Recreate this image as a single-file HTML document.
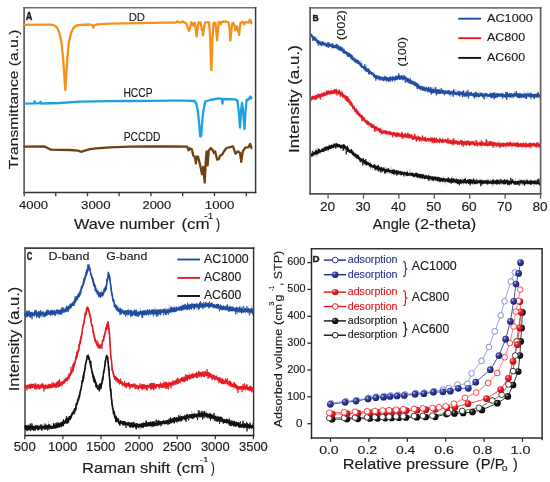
<!DOCTYPE html>
<html><head><meta charset="utf-8"><style>
html,body{margin:0;padding:0;background:#fff;overflow:hidden;}
svg{display:block;font-family:"Liberation Sans", sans-serif;will-change:transform;}
</style></head><body>
<svg width="550" height="482" viewBox="0 0 550 482">
<defs>
<radialGradient id="gb" cx="0.36" cy="0.32" r="0.7"><stop offset="0" stop-color="#d6d9f5"/><stop offset="0.3" stop-color="#3a46a8"/><stop offset="1" stop-color="#141c68"/></radialGradient>
<radialGradient id="gr" cx="0.36" cy="0.32" r="0.7"><stop offset="0" stop-color="#ffd6d6"/><stop offset="0.3" stop-color="#f0262c"/><stop offset="1" stop-color="#b00a0e"/></radialGradient>
<radialGradient id="gk" cx="0.36" cy="0.32" r="0.7"><stop offset="0" stop-color="#c8c8c8"/><stop offset="0.3" stop-color="#222"/><stop offset="1" stop-color="#000"/></radialGradient>
</defs>
<rect width="550" height="482" fill="#fff"/>
<line x1="23.30" y1="7.80" x2="256.35" y2="7.80" stroke="#707070" stroke-width="1.6"/>
<line x1="23.30" y1="192.60" x2="256.35" y2="192.60" stroke="#333" stroke-width="1.5"/>
<line x1="24.10" y1="7.00" x2="24.10" y2="193.35" stroke="#555" stroke-width="1.6"/>
<line x1="255.60" y1="7.00" x2="255.60" y2="193.35" stroke="#3a3a3a" stroke-width="1.5"/>
<line x1="24.20" y1="192.60" x2="24.20" y2="196.20" stroke="#333" stroke-width="1.3"/>
<line x1="55.80" y1="192.60" x2="55.80" y2="196.20" stroke="#333" stroke-width="1.3"/>
<line x1="87.50" y1="192.60" x2="87.50" y2="196.20" stroke="#333" stroke-width="1.3"/>
<line x1="119.10" y1="192.60" x2="119.10" y2="196.20" stroke="#333" stroke-width="1.3"/>
<line x1="150.90" y1="192.60" x2="150.90" y2="196.20" stroke="#333" stroke-width="1.3"/>
<line x1="182.70" y1="192.60" x2="182.70" y2="196.20" stroke="#333" stroke-width="1.3"/>
<line x1="214.50" y1="192.60" x2="214.50" y2="196.20" stroke="#333" stroke-width="1.3"/>
<line x1="246.30" y1="192.60" x2="246.30" y2="196.20" stroke="#333" stroke-width="1.3"/>
<path d="M24.5,24.8L40.0,24.6L50.0,24.6L54.0,25.2L57.0,27.5L59.5,33.0L61.5,43.0L63.3,60.0L64.6,80.0L65.3,90.0L66.0,80.0L67.2,60.0L68.8,43.0L71.0,33.0L73.5,28.0L76.5,25.5L80.0,24.8L90.0,24.5L92.3,25.0L93.3,27.6L94.3,25.3L97.0,24.4L110.0,23.6L140.0,23.1L165.0,22.7L176.0,22.5L177.3,21.3L178.6,22.4L181.5,22.4L182.9,21.3L184.5,22.6L186.5,23.6L187.5,27.0L189.1,30.9L190.4,27.0L191.3,22.2L192.5,23.5L193.1,25.5L193.8,23.2L195.0,23.0L195.9,30.0L196.6,36.4L197.4,30.0L198.5,22.4L200.5,22.5L201.5,27.0L201.8,30.2L202.5,29.0L203.1,35.3L203.8,29.0L205.1,22.4L209.1,22.4L210.3,40.0L211.0,65.0L211.3,70.2L211.6,65.0L212.4,40.0L213.5,23.0L215.5,23.0L216.4,32.0L217.1,40.4L217.8,32.0L218.8,22.0L220.2,22.5L220.9,24.2L221.6,22.0L225.3,21.3L228.6,22.5L229.6,30.0L230.4,40.7L231.3,30.0L232.3,23.5L233.3,22.9L234.7,26.0L235.5,30.2L236.3,27.0L236.9,26.5L238.2,31.0L239.1,34.9L239.8,28.0L240.5,22.9L242.7,21.8L243.6,23.0L244.2,24.4L244.9,22.6L245.6,22.2L248.5,22.7L250.0,19.6L250.8,21.0L251.2,23.3" fill="none" stroke="#F5911B" stroke-width="2.3" stroke-linejoin="round" stroke-linecap="round"/>
<path d="M24.5,103.6L34.0,103.3L34.5,101.3L35.0,103.3L40.0,103.2L40.5,101.6L41.0,103.5L60.0,103.0L80.0,101.6L110.0,101.2L130.0,101.0L150.0,100.8L170.0,100.6L185.0,100.6L194.5,101.0L196.5,104.0L198.0,112.0L199.3,125.0L200.2,136.5L201.2,136.0L202.2,122.0L203.5,110.0L205.2,101.5L210.0,100.0L219.0,98.3L221.8,98.8L222.4,103.7L223.0,99.0L235.5,99.3L237.5,101.0L238.8,112.0L240.0,127.5L241.0,112.0L242.0,103.0L243.0,110.0L244.5,129.0L245.5,112.0L246.6,99.6L248.0,100.0L249.5,98.0L250.3,96.5L251.0,98.5L251.5,97.5" fill="none" stroke="#1DA1E2" stroke-width="2.3" stroke-linejoin="round" stroke-linecap="round"/>
<path d="M24.5,146.6L44.0,146.4L47.0,147.8L51.0,149.6L60.0,149.8L70.0,150.0L78.0,150.6L81.0,151.8L84.0,150.8L90.0,149.2L96.0,148.4L110.0,147.3L130.0,146.6L150.0,146.5L170.0,146.4L187.1,146.7L188.7,150.4L189.7,148.3L191.8,149.3L193.3,155.5L194.9,157.1L195.9,163.3L196.6,156.6L198.0,156.6L200.1,164.9L202.1,174.2L203.2,166.9L204.7,182.5L205.8,160.7L206.6,151.4L207.6,165.4L208.7,150.9L210.7,148.1L212.5,149.8L214.0,153.0L215.1,151.4L217.2,159.7L218.7,159.2L220.3,155.5L222.3,154.5L224.0,151.3L226.5,148.0L233.0,146.4L235.5,153.7L237.9,151.3L240.0,152.9L241.2,161.9L242.8,151.3L245.3,147.7L248.5,147.2L250.2,143.9L251.5,148.0" fill="none" stroke="#6E4012" stroke-width="2.3" stroke-linejoin="round" stroke-linecap="round"/>
<text x="25.77" y="19.90" font-size="10.2" font-weight="bold" textLength="6.57" lengthAdjust="spacingAndGlyphs" fill="#1c1c1c" stroke="#1c1c1c" stroke-width="0.4">A</text>
<text x="128.67" y="20.50" font-size="11.5" textLength="16.37" lengthAdjust="spacingAndGlyphs" fill="#1c1c1c" stroke="#1c1c1c" stroke-width="0.15">DD</text>
<text x="123.46" y="96.50" font-size="11.9" textLength="29.08" lengthAdjust="spacingAndGlyphs" fill="#1c1c1c" stroke="#1c1c1c" stroke-width="0.15">HCCP</text>
<text x="123.75" y="141.00" font-size="12.0" textLength="36.64" lengthAdjust="spacingAndGlyphs" fill="#1c1c1c" stroke="#1c1c1c" stroke-width="0.15">PCCDD</text>
<text x="18.90" y="209.00" font-size="11.7" textLength="29.11" lengthAdjust="spacingAndGlyphs" fill="#1c1c1c" stroke="#1c1c1c" stroke-width="0.15">4000</text>
<text x="81.10" y="209.00" font-size="11.7" textLength="29.42" lengthAdjust="spacingAndGlyphs" fill="#1c1c1c" stroke="#1c1c1c" stroke-width="0.15">3000</text>
<text x="142.55" y="209.00" font-size="11.7" textLength="28.65" lengthAdjust="spacingAndGlyphs" fill="#1c1c1c" stroke="#1c1c1c" stroke-width="0.15">2000</text>
<text x="204.79" y="209.00" font-size="11.7" textLength="29.53" lengthAdjust="spacingAndGlyphs" fill="#1c1c1c" stroke="#1c1c1c" stroke-width="0.15">1000</text>
<text x="74.03" y="229.20" font-size="14.2" textLength="100.54" lengthAdjust="spacingAndGlyphs" fill="#1c1c1c" stroke="#1c1c1c" stroke-width="0.15">Wave number</text>
<text x="181.45" y="229.20" font-size="14.2" textLength="28.27" lengthAdjust="spacingAndGlyphs" fill="#1c1c1c" stroke="#1c1c1c" stroke-width="0.15">(cm</text>
<text x="204.36" y="219.20" font-size="8.4" textLength="8.83" lengthAdjust="spacingAndGlyphs" fill="#1c1c1c" stroke="#1c1c1c" stroke-width="0.15">-1</text>
<text x="215.93" y="229.20" font-size="14.2" textLength="4.14" lengthAdjust="spacingAndGlyphs" fill="#1c1c1c" stroke="#1c1c1c" stroke-width="0.15">)</text>
<text transform="rotate(-90)" x="-169.15" y="18.20" font-size="13.5" textLength="139.52" lengthAdjust="spacingAndGlyphs" fill="#1c1c1c" stroke="#1c1c1c" stroke-width="0.15">Transmittance (a.u.)</text>
<line x1="309.25" y1="7.80" x2="541.45" y2="7.80" stroke="#747474" stroke-width="1.7"/>
<line x1="309.25" y1="193.80" x2="541.45" y2="193.80" stroke="#555" stroke-width="1.7"/>
<line x1="310.10" y1="6.95" x2="310.10" y2="194.65" stroke="#5a5a5a" stroke-width="1.7"/>
<line x1="540.60" y1="6.95" x2="540.60" y2="194.65" stroke="#606060" stroke-width="1.7"/>
<line x1="328.10" y1="193.80" x2="328.10" y2="198.80" stroke="#5a5a5a" stroke-width="1.3"/>
<line x1="363.50" y1="193.80" x2="363.50" y2="198.80" stroke="#5a5a5a" stroke-width="1.3"/>
<line x1="398.90" y1="193.80" x2="398.90" y2="198.80" stroke="#5a5a5a" stroke-width="1.3"/>
<line x1="434.30" y1="193.80" x2="434.30" y2="198.80" stroke="#5a5a5a" stroke-width="1.3"/>
<line x1="469.70" y1="193.80" x2="469.70" y2="198.80" stroke="#5a5a5a" stroke-width="1.3"/>
<line x1="505.10" y1="193.80" x2="505.10" y2="198.80" stroke="#5a5a5a" stroke-width="1.3"/>
<line x1="540.50" y1="193.80" x2="540.50" y2="198.80" stroke="#5a5a5a" stroke-width="1.3"/>
<path d="M311.3,35.5L311.5,36.2L311.7,35.5L311.9,34.7L312.1,35.6L312.3,35.0L312.5,37.0L312.7,39.4L312.9,36.5L313.1,36.5L313.3,38.6L313.5,38.6L313.7,38.4L313.9,36.8L314.1,38.5L314.3,40.0L314.5,36.7L314.7,38.4L314.9,36.1L315.1,37.4L315.3,36.6L315.5,39.5L315.7,37.9L315.9,40.7L316.1,40.7L316.3,40.3L316.5,36.5L316.7,40.0L316.9,41.0L317.1,41.4L317.3,38.7L317.5,40.6L317.7,39.9L317.9,40.3L318.1,43.6L318.3,40.5L318.5,42.0L318.7,43.6L318.9,41.2L319.1,42.1L319.3,42.6L319.5,42.6L319.7,40.5L319.9,42.8L320.1,45.1L320.3,40.3L320.5,44.4L320.7,43.3L320.9,42.1L321.1,46.6L321.3,44.6L321.5,41.4L321.7,43.6L321.9,44.5L322.1,43.3L322.3,44.9L322.5,43.7L322.7,45.0L322.9,46.4L323.1,42.8L323.3,44.4L323.5,43.3L323.7,44.4L323.9,42.2L324.1,43.3L324.3,44.0L324.5,46.0L324.7,46.5L324.9,42.3L325.1,43.3L325.3,45.8L325.5,41.4L325.7,44.0L325.9,44.7L326.1,47.0L326.3,46.1L326.5,44.5L326.7,44.4L326.9,44.7L327.1,47.8L327.3,44.5L327.5,44.8L327.7,45.9L327.9,45.2L328.1,45.1L328.3,43.6L328.5,45.5L328.7,44.8L328.9,47.6L329.1,46.7L329.3,45.6L329.5,46.8L329.7,45.1L329.9,47.5L330.1,45.8L330.3,46.8L330.5,43.7L330.7,46.5L330.9,43.1L331.1,42.5L331.3,45.5L331.5,44.5L331.7,46.3L331.9,49.9L332.1,44.7L332.3,45.1L332.5,46.5L332.7,47.0L332.9,45.9L333.1,45.9L333.3,47.5L333.5,47.2L333.7,44.6L333.9,46.3L334.1,46.5L334.3,44.7L334.5,47.0L334.7,45.1L334.9,48.2L335.1,47.0L335.3,46.8L335.5,45.7L335.7,46.6L335.9,43.4L336.1,44.9L336.3,47.5L336.5,43.3L336.7,48.5L336.9,44.1L337.1,48.4L337.3,45.7L337.5,48.6L337.7,47.5L337.9,44.8L338.1,49.6L338.3,50.0L338.5,47.5L338.7,47.2L338.9,47.5L339.1,46.2L339.3,49.8L339.5,47.1L339.7,48.1L339.9,46.9L340.1,47.3L340.3,46.3L340.5,50.8L340.7,48.5L340.9,50.5L341.1,49.0L341.3,48.0L341.5,48.7L341.7,48.5L341.9,49.6L342.1,49.1L342.3,49.4L342.5,47.7L342.7,48.8L342.9,53.1L343.1,49.3L343.3,48.8L343.5,51.4L343.7,53.3L343.9,48.6L344.1,50.9L344.3,50.4L344.5,48.6L344.7,53.0L344.9,51.9L345.1,52.2L345.3,51.0L345.5,53.2L345.7,51.7L345.9,52.5L346.1,51.0L346.3,51.0L346.5,55.5L346.7,52.5L346.9,54.1L347.1,53.7L347.3,53.1L347.5,53.2L347.7,55.3L347.9,53.9L348.1,54.3L348.3,54.7L348.5,56.8L348.7,56.1L348.9,55.8L349.1,54.3L349.3,53.1L349.5,57.2L349.7,57.4L349.9,55.6L350.1,57.0L350.3,57.5L350.5,57.8L350.7,58.1L350.9,55.9L351.1,59.4L351.3,54.9L351.5,58.6L351.7,58.1L351.9,58.9L352.1,60.8L352.3,60.3L352.5,56.0L352.7,55.2L352.9,59.6L353.1,56.7L353.3,58.5L353.5,60.2L353.7,56.1L353.9,55.5L354.1,59.7L354.3,59.5L354.5,59.1L354.7,59.8L354.9,58.4L355.1,57.5L355.3,59.9L355.5,58.7L355.7,57.7L355.9,61.5L356.1,60.7L356.3,61.7L356.5,59.5L356.7,60.2L356.9,59.8L357.1,60.2L357.3,62.2L357.5,60.7L357.7,62.8L357.9,62.9L358.1,65.9L358.3,60.3L358.5,64.3L358.7,62.8L358.9,63.1L359.1,60.8L359.3,62.7L359.5,64.9L359.7,63.6L359.9,64.1L360.1,63.6L360.3,66.2L360.5,64.4L360.7,60.8L360.9,63.6L361.1,61.6L361.3,59.5L361.5,64.3L361.7,67.7L361.9,65.7L362.1,63.8L362.3,64.3L362.5,68.0L362.7,66.5L362.9,66.5L363.1,66.5L363.3,66.8L363.5,68.3L363.7,68.0L363.9,67.6L364.1,65.7L364.3,68.5L364.5,66.6L364.7,69.8L364.9,65.9L365.1,68.0L365.3,68.4L365.5,66.4L365.7,71.7L365.9,71.4L366.1,68.3L366.3,70.6L366.5,70.1L366.7,65.1L366.9,70.2L367.1,69.8L367.3,70.2L367.5,68.4L367.7,69.9L367.9,70.2L368.1,72.7L368.3,71.4L368.5,71.0L368.7,73.7L368.9,70.3L369.1,70.8L369.3,68.5L369.5,74.4L369.7,73.5L369.9,73.6L370.1,73.3L370.3,72.5L370.5,72.8L370.7,72.1L370.9,72.3L371.1,72.9L371.3,75.5L371.5,74.0L371.7,73.1L371.9,72.4L372.1,72.4L372.3,76.4L372.5,74.7L372.7,74.1L372.9,73.5L373.1,72.4L373.3,74.3L373.5,76.0L373.7,74.0L373.9,74.4L374.1,74.6L374.3,75.3L374.5,72.5L374.7,75.0L374.9,74.1L375.1,77.2L375.3,74.5L375.5,76.9L375.7,78.7L375.9,75.7L376.1,75.3L376.3,76.8L376.5,76.6L376.7,75.0L376.9,77.6L377.1,80.4L377.3,76.6L377.5,76.9L377.7,75.5L377.9,78.0L378.1,75.4L378.3,75.7L378.5,79.9L378.7,76.2L378.9,79.7L379.1,80.5L379.3,78.5L379.5,79.0L379.7,81.5L379.9,77.9L380.1,77.3L380.3,76.0L380.5,78.4L380.7,80.9L380.9,80.1L381.1,76.9L381.3,77.0L381.5,77.6L381.7,79.0L381.9,78.2L382.1,78.9L382.3,79.1L382.5,78.1L382.7,78.5L382.9,78.9L383.1,78.5L383.3,79.5L383.5,81.8L383.7,79.7L383.9,78.8L384.1,75.8L384.3,79.3L384.5,75.4L384.7,76.3L384.9,80.2L385.1,79.9L385.3,78.5L385.5,75.8L385.7,78.1L385.9,77.6L386.1,79.8L386.3,82.6L386.5,79.1L386.7,77.5L386.9,76.8L387.1,78.7L387.3,78.5L387.5,76.9L387.7,79.0L387.9,76.9L388.1,80.7L388.3,80.6L388.5,80.7L388.7,78.0L388.9,79.7L389.1,78.6L389.3,78.2L389.5,78.3L389.7,76.7L389.9,76.4L390.1,80.2L390.3,78.6L390.5,79.3L390.7,80.6L390.9,75.9L391.1,77.6L391.3,79.2L391.5,79.6L391.7,78.3L391.9,80.6L392.1,79.3L392.3,76.8L392.5,77.3L392.7,80.3L392.9,79.7L393.1,75.6L393.3,81.1L393.5,79.8L393.7,81.1L393.9,78.1L394.1,78.2L394.3,76.8L394.5,82.9L394.7,78.3L394.9,81.2L395.1,77.4L395.3,78.7L395.5,75.5L395.7,77.7L395.9,79.9L396.1,76.1L396.3,80.0L396.5,78.7L396.7,76.3L396.9,77.1L397.1,77.1L397.3,77.8L397.5,76.9L397.7,76.3L397.9,77.2L398.1,75.9L398.3,75.4L398.5,77.5L398.7,79.0L398.9,74.8L399.1,77.4L399.3,76.3L399.5,75.7L399.7,78.8L399.9,76.4L400.1,79.8L400.3,75.9L400.5,77.9L400.7,76.8L400.9,75.9L401.1,78.2L401.3,76.9L401.5,78.2L401.7,77.2L401.9,75.4L402.1,77.1L402.3,77.4L402.5,79.0L402.7,75.9L402.9,77.4L403.1,74.6L403.3,78.7L403.5,75.9L403.7,74.7L403.9,77.8L404.1,79.8L404.3,75.5L404.5,76.3L404.7,77.0L404.9,76.4L405.1,79.1L405.3,77.2L405.5,77.4L405.7,79.8L405.9,77.6L406.1,79.7L406.3,77.5L406.5,77.2L406.7,76.2L406.9,82.6L407.1,79.1L407.3,80.1L407.5,79.8L407.7,80.2L407.9,80.2L408.1,83.4L408.3,78.6L408.5,77.8L408.7,78.8L408.9,78.4L409.1,82.0L409.3,82.3L409.5,79.4L409.7,78.7L409.9,80.6L410.1,83.7L410.3,76.6L410.5,82.4L410.7,79.8L410.9,83.5L411.1,80.1L411.3,81.5L411.5,79.6L411.7,80.6L411.9,84.7L412.1,83.9L412.3,81.9L412.5,81.3L412.7,79.7L412.9,82.3L413.1,83.1L413.3,83.1L413.5,83.2L413.7,81.6L413.9,83.6L414.1,83.7L414.3,86.1L414.5,87.2L414.7,84.0L414.9,83.0L415.1,84.4L415.3,83.6L415.5,83.5L415.7,84.8L415.9,83.2L416.1,86.1L416.3,85.1L416.5,85.8L416.7,85.2L416.9,84.4L417.1,84.1L417.3,85.4L417.5,85.0L417.7,86.5L417.9,86.2L418.1,84.0L418.3,86.5L418.5,84.2L418.7,85.6L418.9,86.2L419.1,83.3L419.3,87.1L419.5,87.3L419.7,86.9L419.9,86.5L420.1,86.7L420.3,85.8L420.5,87.1L420.7,86.7L420.9,87.9L421.1,85.8L421.3,88.4L421.5,88.3L421.7,87.9L421.9,87.5L422.1,89.3L422.3,85.6L422.5,89.3L422.7,89.0L422.9,89.2L423.1,89.4L423.3,87.8L423.5,88.5L423.7,90.1L423.9,89.8L424.1,89.5L424.3,86.6L424.5,90.2L424.7,91.3L424.9,91.1L425.1,89.8L425.3,86.8L425.5,91.1L425.7,89.3L425.9,85.3L426.1,90.3L426.3,87.1L426.5,87.5L426.7,88.7L426.9,92.0L427.1,89.2L427.3,90.3L427.5,92.9L427.7,92.7L427.9,89.8L428.1,89.6L428.3,87.9L428.5,88.9L428.7,90.8L428.9,90.8L429.1,90.4L429.3,91.9L429.5,88.9L429.7,90.2L429.9,91.6L430.1,91.3L430.3,92.2L430.5,91.1L430.7,89.9L430.9,91.1L431.1,88.8L431.3,87.7L431.5,91.5L431.7,90.5L431.9,91.1L432.1,87.7L432.3,90.0L432.5,89.7L432.7,89.2L432.9,86.9L433.1,90.2L433.3,92.3L433.5,91.5L433.7,89.8L433.9,90.8L434.1,92.2L434.3,86.2L434.5,90.7L434.7,91.9L434.9,92.1L435.1,93.9L435.3,92.9L435.5,91.6L435.7,91.6L435.9,92.4L436.1,90.2L436.3,91.0L436.5,92.7L436.7,94.5L436.9,90.9L437.1,91.1L437.3,91.6L437.5,93.5L437.7,91.2L437.9,93.8L438.1,89.7L438.3,91.0L438.5,91.0L438.7,92.7L438.9,93.2L439.1,88.8L439.3,89.9L439.5,92.0L439.7,90.4L439.9,88.9L440.1,93.3L440.3,92.4L440.5,92.4L440.7,90.8L440.9,93.3L441.1,91.2L441.3,93.5L441.5,90.1L441.7,90.2L441.9,92.1L442.1,90.5L442.3,92.9L442.5,92.2L442.7,90.2L442.9,91.9L443.1,91.2L443.3,93.4L443.5,90.8L443.7,91.2L443.9,94.0L444.1,95.8L444.3,95.4L444.5,92.1L444.7,92.4L444.9,94.7L445.1,91.9L445.3,90.4L445.5,92.3L445.7,92.9L445.9,90.8L446.1,89.4L446.3,89.8L446.5,93.4L446.7,91.0L446.9,92.0L447.1,92.7L447.3,93.4L447.5,91.8L447.7,93.2L447.9,90.9L448.1,91.8L448.3,90.7L448.5,94.4L448.7,92.5L448.9,91.3L449.1,91.9L449.3,92.2L449.5,93.8L449.7,89.9L449.9,90.9L450.1,92.0L450.3,97.0L450.5,94.3L450.7,92.5L450.9,94.0L451.1,96.3L451.3,92.4L451.5,92.2L451.7,94.9L451.9,93.7L452.1,94.0L452.3,92.0L452.5,96.2L452.7,95.9L452.9,93.9L453.1,94.2L453.3,89.6L453.5,94.1L453.7,92.7L453.9,93.8L454.1,94.3L454.3,92.5L454.5,90.3L454.7,93.8L454.9,91.9L455.1,92.6L455.3,92.2L455.5,92.7L455.7,89.3L455.9,95.4L456.1,93.7L456.3,95.2L456.5,96.7L456.7,93.4L456.9,90.3L457.1,91.9L457.3,91.4L457.5,92.6L457.7,93.6L457.9,90.1L458.1,94.1L458.3,90.9L458.5,94.0L458.7,93.4L458.9,93.0L459.1,93.5L459.3,92.7L459.5,92.6L459.7,90.8L459.9,93.6L460.1,96.8L460.3,97.1L460.5,96.0L460.7,94.9L460.9,92.6L461.1,96.2L461.3,93.7L461.5,93.7L461.7,93.3L461.9,94.0L462.1,93.1L462.3,93.7L462.5,92.0L462.7,93.3L462.9,97.8L463.1,93.8L463.3,93.5L463.5,94.9L463.7,95.2L463.9,92.1L464.1,93.7L464.3,95.6L464.5,94.5L464.7,94.3L464.9,96.7L465.1,92.9L465.3,94.2L465.5,93.2L465.7,96.6L465.9,90.8L466.1,93.0L466.3,93.3L466.5,95.3L466.7,95.2L466.9,96.6L467.1,91.5L467.3,95.5L467.5,93.7L467.7,93.1L467.9,95.2L468.1,92.7L468.3,90.8L468.5,93.7L468.7,91.8L468.9,93.2L469.1,95.0L469.3,94.9L469.5,97.1L469.7,94.0L469.9,91.8L470.1,93.1L470.3,92.9L470.5,92.4L470.7,95.2L470.9,93.4L471.1,91.1L471.3,95.7L471.5,94.3L471.7,95.1L471.9,94.7L472.1,95.6L472.3,94.6L472.5,96.7L472.7,95.3L472.9,95.3L473.1,95.3L473.3,92.1L473.5,94.4L473.7,94.2L473.9,95.0L474.1,92.4L474.3,97.5L474.5,94.9L474.7,92.6L474.9,91.8L475.1,94.3L475.3,94.6L475.5,93.5L475.7,94.9L475.9,93.7L476.1,95.7L476.3,93.6L476.5,94.8L476.7,96.5L476.9,99.2L477.1,93.1L477.3,94.1L477.5,93.4L477.7,96.2L477.9,92.9L478.1,94.1L478.3,94.9L478.5,93.3L478.7,93.3L478.9,94.1L479.1,91.4L479.3,92.5L479.5,94.3L479.7,95.2L479.9,94.7L480.1,92.0L480.3,94.2L480.5,96.4L480.7,96.0L480.9,94.9L481.1,93.5L481.3,96.1L481.5,94.1L481.7,93.1L481.9,93.7L482.1,97.5L482.3,95.5L482.5,97.1L482.7,94.3L482.9,96.7L483.1,94.1L483.3,94.9L483.5,99.4L483.7,96.4L483.9,94.3L484.1,95.0L484.3,95.7L484.5,97.2L484.7,94.3L484.9,92.2L485.1,94.7L485.3,95.2L485.5,95.4L485.7,97.4L485.9,95.7L486.1,96.6L486.3,93.3L486.5,96.7L486.7,98.8L486.9,96.5L487.1,95.6L487.3,95.5L487.5,98.2L487.7,93.6L487.9,95.0L488.1,96.0L488.3,96.5L488.5,94.5L488.7,95.7L488.9,94.7L489.1,95.4L489.3,95.0L489.5,93.3L489.7,95.2L489.9,96.7L490.1,93.6L490.3,94.8L490.5,96.3L490.7,93.4L490.9,95.5L491.1,93.4L491.3,97.1L491.5,99.1L491.7,98.6L491.9,94.8L492.1,96.5L492.3,95.4L492.5,95.4L492.7,97.8L492.9,93.0L493.1,97.0L493.3,95.1L493.5,97.6L493.7,95.5L493.9,94.1L494.1,95.7L494.3,96.5L494.5,95.3L494.7,96.0L494.9,94.3L495.1,91.6L495.3,96.7L495.5,96.4L495.7,95.5L495.9,95.3L496.1,97.0L496.3,94.4L496.5,94.0L496.7,94.9L496.9,97.2L497.1,92.8L497.3,97.2L497.5,94.1L497.7,93.3L497.9,97.3L498.1,95.0L498.3,93.0L498.5,94.6L498.7,96.8L498.9,97.2L499.1,94.5L499.3,95.9L499.5,96.4L499.7,94.1L499.9,95.8L500.1,95.1L500.3,94.3L500.5,94.4L500.7,95.3L500.9,95.3L501.1,94.2L501.3,94.5L501.5,97.1L501.7,95.6L501.9,96.7L502.1,97.2L502.3,96.2L502.5,99.1L502.7,93.8L502.9,96.6L503.1,94.7L503.3,98.4L503.5,98.1L503.7,91.9L503.9,93.6L504.1,96.3L504.3,96.5L504.5,96.5L504.7,95.1L504.9,96.0L505.1,96.3L505.3,95.1L505.5,96.9L505.7,91.4L505.9,96.3L506.1,93.4L506.3,96.8L506.5,94.8L506.7,93.7L506.9,95.8L507.1,93.7L507.3,93.6L507.5,92.5L507.7,95.2L507.9,96.0L508.1,96.9L508.3,95.0L508.5,97.0L508.7,95.2L508.9,95.0L509.1,96.2L509.3,97.0L509.5,94.6L509.7,94.8L509.9,94.9L510.1,95.3L510.3,93.7L510.5,96.9L510.7,94.5L510.9,96.0L511.1,93.8L511.3,95.8L511.5,95.9L511.7,94.5L511.9,98.6L512.1,95.8L512.3,98.2L512.5,96.8L512.7,94.1L512.9,94.6L513.1,95.9L513.3,95.3L513.5,95.3L513.7,94.7L513.9,92.1L514.1,94.8L514.3,91.4L514.5,95.8L514.7,94.0L514.9,94.0L515.1,94.8L515.3,95.7L515.5,92.8L515.7,92.2L515.9,93.4L516.1,91.8L516.3,93.6L516.5,97.9L516.7,93.4L516.9,96.3L517.1,92.9L517.3,95.7L517.5,94.7L517.7,95.1L517.9,96.2L518.1,98.2L518.3,95.6L518.5,95.5L518.7,93.6L518.9,96.2L519.1,94.8L519.3,96.7L519.5,95.2L519.7,98.2L519.9,91.9L520.1,94.8L520.3,96.8L520.5,94.7L520.7,93.9L520.9,94.8L521.1,92.9L521.3,95.5L521.5,99.4L521.7,97.2L521.9,93.4L522.1,93.8L522.3,94.6L522.5,97.0L522.7,93.9L522.9,94.1L523.1,96.8L523.3,96.8L523.5,94.7L523.7,93.4L523.9,92.7L524.1,94.1L524.3,91.5L524.5,96.6L524.7,94.3L524.9,96.2L525.1,98.5L525.3,97.3L525.5,93.4L525.7,96.8L525.9,97.3L526.1,94.1L526.3,93.8L526.5,95.2L526.7,92.7L526.9,97.9L527.1,91.3L527.3,93.5L527.5,94.9L527.7,95.0L527.9,95.7L528.1,95.9L528.3,95.1L528.5,97.4L528.7,91.8L528.9,95.4L529.1,94.2L529.3,95.7L529.5,95.8L529.7,93.9L529.9,94.4L530.1,96.8L530.3,96.1L530.5,94.3L530.7,98.9L530.9,99.4L531.1,93.0L531.3,96.0L531.5,99.8L531.7,96.8L531.9,95.9L532.1,95.2L532.3,94.6L532.5,95.2L532.7,94.6L532.9,96.8L533.1,94.9L533.3,94.8L533.5,93.5L533.7,95.5L533.9,94.0L534.1,95.2L534.3,97.3L534.5,96.2L534.7,96.4L534.9,96.2L535.1,95.7L535.3,95.4L535.5,95.1L535.7,96.9L535.9,93.8L536.1,97.9L536.3,95.7L536.5,94.3L536.7,94.8L536.9,94.5L537.1,95.9L537.3,94.4L537.5,97.6L537.7,94.3L537.9,91.8L538.1,94.4L538.3,92.3L538.5,95.6L538.7,97.5L538.9,96.8L539.1,93.4L539.3,94.4L539.5,98.7" fill="none" stroke="#6f86c4" stroke-width="0.5" stroke-linejoin="round" stroke-linecap="round" opacity="0.5"/>
<path d="M311.3,36.0L311.8,36.1L312.3,38.3L312.8,41.1L313.3,39.8L313.8,38.5L314.3,39.4L314.8,40.3L315.3,38.8L315.8,38.5L316.3,40.7L316.8,39.4L317.3,41.2L317.8,41.8L318.3,45.7L318.8,40.8L319.3,42.2L319.8,42.4L320.3,43.6L320.8,44.8L321.3,42.5L321.8,42.2L322.3,41.1L322.8,42.4L323.3,44.9L323.8,44.3L324.3,42.8L324.8,43.9L325.3,44.7L325.8,45.6L326.3,44.0L326.8,44.7L327.3,42.3L327.8,43.5L328.3,48.0L328.8,42.1L329.3,45.1L329.8,46.1L330.3,45.2L330.8,44.6L331.3,45.9L331.8,46.1L332.3,46.0L332.8,43.2L333.3,46.1L333.8,45.0L334.3,45.6L334.8,46.9L335.3,47.7L335.8,48.2L336.3,46.1L336.8,48.5L337.3,49.1L337.8,49.2L338.3,49.7L338.8,47.5L339.3,47.7L339.8,49.5L340.3,46.3L340.8,49.2L341.3,48.3L341.8,48.9L342.3,47.1L342.8,48.8L343.3,50.6L343.8,52.4L344.3,53.0L344.8,51.7L345.3,52.0L345.8,51.3L346.3,53.7L346.8,53.1L347.3,54.9L347.8,57.1L348.3,54.6L348.8,52.7L349.3,54.0L349.8,53.5L350.3,54.3L350.8,58.7L351.3,57.3L351.8,54.9L352.3,58.8L352.8,60.2L353.3,58.0L353.8,57.9L354.3,58.8L354.8,60.2L355.3,61.2L355.8,62.5L356.3,62.9L356.8,63.3L357.3,64.0L357.8,63.3L358.3,60.2L358.8,62.8L359.3,63.9L359.8,63.2L360.3,65.7L360.8,64.1L361.3,63.6L361.8,67.8L362.3,67.0L362.8,66.7L363.3,68.2L363.8,68.9L364.3,68.2L364.8,64.1L365.3,67.4L365.8,68.1L366.3,67.7L366.8,70.0L367.3,72.0L367.8,69.7L368.3,69.0L368.8,74.5L369.3,70.9L369.8,70.0L370.3,72.6L370.8,73.3L371.3,71.8L371.8,74.6L372.3,72.9L372.8,72.5L373.3,74.7L373.8,76.0L374.3,74.1L374.8,76.0L375.3,75.7L375.8,80.7L376.3,75.3L376.8,79.0L377.3,77.0L377.8,77.2L378.3,78.8L378.8,79.3L379.3,80.1L379.8,78.7L380.3,77.4L380.8,77.6L381.3,79.3L381.8,79.5L382.3,80.8L382.8,79.3L383.3,80.3L383.8,81.1L384.3,78.9L384.8,76.3L385.3,76.8L385.8,76.5L386.3,81.3L386.8,77.4L387.3,80.8L387.8,79.8L388.3,81.6L388.8,80.5L389.3,78.7L389.8,78.6L390.3,79.0L390.8,79.2L391.3,78.0L391.8,78.8L392.3,81.5L392.8,76.2L393.3,79.3L393.8,77.3L394.3,79.0L394.8,79.9L395.3,78.3L395.8,79.5L396.3,75.6L396.8,79.8L397.3,76.9L397.8,78.7L398.3,77.9L398.8,73.3L399.3,76.2L399.8,77.6L400.3,79.7L400.8,77.7L401.3,77.6L401.8,75.0L402.3,79.6L402.8,80.4L403.3,77.7L403.8,77.5L404.3,75.5L404.8,79.7L405.3,82.9L405.8,80.0L406.3,81.1L406.8,80.3L407.3,78.1L407.8,82.2L408.3,78.3L408.8,80.3L409.3,81.3L409.8,82.6L410.3,82.1L410.8,82.3L411.3,80.8L411.8,80.2L412.3,82.7L412.8,81.8L413.3,81.2L413.8,81.6L414.3,83.2L414.8,81.3L415.3,82.4L415.8,82.3L416.3,85.5L416.8,86.2L417.3,89.1L417.8,83.7L418.3,85.3L418.8,88.1L419.3,86.6L419.8,86.7L420.3,90.2L420.8,87.2L421.3,86.1L421.8,86.1L422.3,89.0L422.8,89.2L423.3,86.7L423.8,87.5L424.3,90.1L424.8,90.3L425.3,88.4L425.8,90.6L426.3,90.6L426.8,86.9L427.3,89.4L427.8,90.6L428.3,89.1L428.8,86.7L429.3,89.8L429.8,91.5L430.3,92.9L430.8,86.9L431.3,94.7L431.8,88.8L432.3,92.2L432.8,92.7L433.3,92.4L433.8,91.1L434.3,89.0L434.8,92.0L435.3,89.9L435.8,87.0L436.3,95.6L436.8,92.3L437.3,94.1L437.8,89.8L438.3,93.7L438.8,93.9L439.3,93.9L439.8,91.4L440.3,89.6L440.8,91.3L441.3,88.1L441.8,89.0L442.3,91.9L442.8,90.2L443.3,91.6L443.8,91.8L444.3,95.1L444.8,94.1L445.3,92.0L445.8,94.1L446.3,91.0L446.8,91.7L447.3,93.8L447.8,90.4L448.3,92.0L448.8,90.4L449.3,92.8L449.8,95.2L450.3,91.5L450.8,93.1L451.3,91.4L451.8,91.0L452.3,90.9L452.8,95.3L453.3,96.8L453.8,93.8L454.3,92.0L454.8,94.3L455.3,92.7L455.8,94.6L456.3,93.8L456.8,93.8L457.3,94.4L457.8,92.5L458.3,92.9L458.8,90.8L459.3,92.9L459.8,91.4L460.3,93.5L460.8,92.2L461.3,93.9L461.8,94.6L462.3,91.6L462.8,92.6L463.3,92.4L463.8,95.2L464.3,96.7L464.8,95.4L465.3,93.5L465.8,96.5L466.3,91.7L466.8,96.6L467.3,93.2L467.8,89.8L468.3,98.5L468.8,96.8L469.3,92.7L469.8,94.7L470.3,94.1L470.8,94.6L471.3,92.1L471.8,93.4L472.3,95.3L472.8,94.9L473.3,96.5L473.8,94.8L474.3,98.4L474.8,93.6L475.3,95.2L475.8,91.7L476.3,92.8L476.8,97.0L477.3,93.4L477.8,95.7L478.3,94.8L478.8,93.3L479.3,94.4L479.8,94.2L480.3,94.2L480.8,96.2L481.3,96.1L481.8,94.1L482.3,93.6L482.8,95.6L483.3,95.0L483.8,96.8L484.3,99.4L484.8,96.5L485.3,95.1L485.8,94.9L486.3,93.8L486.8,93.7L487.3,93.6L487.8,94.6L488.3,94.5L488.8,96.4L489.3,94.6L489.8,94.9L490.3,93.3L490.8,97.8L491.3,96.0L491.8,98.1L492.3,96.5L492.8,97.6L493.3,94.8L493.8,96.3L494.3,99.5L494.8,93.2L495.3,97.1L495.8,97.9L496.3,95.9L496.8,96.4L497.3,97.2L497.8,94.1L498.3,95.9L498.8,93.8L499.3,94.1L499.8,94.2L500.3,95.0L500.8,95.4L501.3,95.9L501.8,92.9L502.3,98.4L502.8,97.1L503.3,96.4L503.8,94.6L504.3,95.1L504.8,96.1L505.3,95.9L505.8,92.4L506.3,96.4L506.8,100.0L507.3,92.2L507.8,96.8L508.3,95.8L508.8,95.0L509.3,97.5L509.8,93.3L510.3,95.5L510.8,97.6L511.3,94.9L511.8,94.5L512.3,95.4L512.8,94.5L513.3,97.7L513.8,93.7L514.3,96.6L514.8,93.2L515.3,96.3L515.8,95.0L516.3,91.0L516.8,95.2L517.3,93.5L517.8,94.5L518.3,97.8L518.8,93.4L519.3,93.5L519.8,97.6L520.3,95.5L520.8,97.8L521.3,95.8L521.8,93.8L522.3,95.2L522.8,97.3L523.3,96.9L523.8,95.3L524.3,95.4L524.8,95.2L525.3,94.4L525.8,98.5L526.3,95.4L526.8,93.5L527.3,94.6L527.8,96.6L528.3,96.5L528.8,95.2L529.3,94.3L529.8,95.5L530.3,92.7L530.8,93.3L531.3,96.8L531.8,94.7L532.3,96.1L532.8,97.5L533.3,96.6L533.8,95.6L534.3,99.1L534.8,96.7L535.3,95.0L535.8,96.8L536.3,96.3L536.8,94.2L537.3,95.8L537.8,95.4L538.3,92.4L538.8,95.4L539.3,95.2" fill="none" stroke="#1F4C9E" stroke-width="0.8" stroke-linejoin="round" stroke-linecap="round"/>
<path d="M311.3,35.1L311.5,34.2L311.7,35.6L311.9,36.2L312.1,36.5L312.3,35.6L312.5,37.5L312.7,36.0L312.9,37.1L313.1,38.7L313.3,37.1L313.5,37.5L313.7,39.2L313.9,38.0L314.1,38.3L314.3,39.0L314.5,40.0L314.7,37.1L314.9,38.6L315.1,38.6L315.3,38.7L315.5,39.1L315.7,39.3L315.9,40.5L316.1,39.6L316.3,40.7L316.5,41.1L316.7,40.2L316.9,41.2L317.1,42.7L317.3,41.6L317.5,40.9L317.7,41.5L317.9,40.8L318.1,42.0L318.3,42.7L318.5,41.3L318.7,41.9L318.9,43.2L319.1,41.9L319.3,42.6L319.5,41.6L319.7,41.9L319.9,42.2L320.1,44.8L320.3,42.5L320.5,42.5L320.7,42.6L320.9,43.0L321.1,43.8L321.3,43.5L321.5,45.2L321.7,43.7L321.9,44.9L322.1,43.9L322.3,44.2L322.5,42.5L322.7,43.7L322.9,43.9L323.1,43.8L323.3,42.1L323.5,44.9L323.7,43.8L323.9,43.9L324.1,44.1L324.3,44.2L324.5,44.8L324.7,43.4L324.9,43.7L325.1,44.9L325.3,44.8L325.5,44.4L325.7,44.3L325.9,44.1L326.1,44.9L326.3,46.0L326.5,44.1L326.7,46.4L326.9,45.9L327.1,44.8L327.3,45.9L327.5,44.0L327.7,43.8L327.9,44.2L328.1,45.0L328.3,45.2L328.5,45.0L328.7,45.6L328.9,43.7L329.1,46.1L329.3,44.4L329.5,45.1L329.7,45.4L329.9,44.7L330.1,44.6L330.3,44.9L330.5,45.8L330.7,46.4L330.9,46.4L331.1,45.1L331.3,45.3L331.5,45.2L331.7,46.5L331.9,44.2L332.1,47.2L332.3,45.7L332.5,45.5L332.7,46.5L332.9,47.2L333.1,46.6L333.3,47.3L333.5,46.5L333.7,47.5L333.9,47.5L334.1,46.4L334.3,47.8L334.5,46.7L334.7,46.6L334.9,45.8L335.1,46.4L335.3,47.4L335.5,45.5L335.7,47.4L335.9,47.1L336.1,47.1L336.3,44.9L336.5,46.9L336.7,47.6L336.9,46.4L337.1,47.2L337.3,45.0L337.5,47.8L337.7,46.7L337.9,48.1L338.1,45.8L338.3,48.1L338.5,47.4L338.7,48.4L338.9,46.9L339.1,47.3L339.3,50.0L339.5,47.3L339.7,47.5L339.9,48.0L340.1,47.5L340.3,49.6L340.5,50.2L340.7,48.1L340.9,47.3L341.1,50.1L341.3,50.1L341.5,50.0L341.7,50.5L341.9,48.8L342.1,49.6L342.3,48.6L342.5,48.7L342.7,51.0L342.9,49.7L343.1,52.5L343.3,50.7L343.5,50.2L343.7,51.7L343.9,52.7L344.1,51.7L344.3,50.3L344.5,51.9L344.7,53.0L344.9,51.5L345.1,51.4L345.3,53.2L345.5,52.5L345.7,51.6L345.9,52.4L346.1,52.2L346.3,53.3L346.5,53.3L346.7,54.4L346.9,54.2L347.1,52.3L347.3,54.3L347.5,54.9L347.7,54.6L347.9,55.3L348.1,54.0L348.3,53.8L348.5,55.7L348.7,54.0L348.9,53.2L349.1,56.2L349.3,54.8L349.5,55.3L349.7,54.5L349.9,54.7L350.1,55.0L350.3,55.9L350.5,56.7L350.7,54.4L350.9,57.3L351.1,55.8L351.3,56.0L351.5,57.7L351.7,57.2L351.9,56.1L352.1,59.3L352.3,57.0L352.5,58.1L352.7,58.3L352.9,59.5L353.1,58.0L353.3,59.5L353.5,58.1L353.7,59.9L353.9,58.4L354.1,58.9L354.3,61.1L354.5,59.8L354.7,59.8L354.9,61.9L355.1,60.4L355.3,59.5L355.5,61.0L355.7,59.5L355.9,61.7L356.1,61.9L356.3,60.5L356.5,60.6L356.7,61.5L356.9,61.5L357.1,60.8L357.3,62.3L357.5,60.1L357.7,61.8L357.9,61.9L358.1,62.2L358.3,62.9L358.5,61.7L358.7,63.5L358.9,63.0L359.1,62.7L359.3,62.2L359.5,62.5L359.7,64.1L359.9,63.1L360.1,64.1L360.3,65.2L360.5,65.3L360.7,66.0L360.9,64.5L361.1,63.9L361.3,66.0L361.5,65.5L361.7,66.4L361.9,65.6L362.1,66.8L362.3,66.7L362.5,66.7L362.7,66.7L362.9,66.8L363.1,66.8L363.3,67.0L363.5,67.8L363.7,66.6L363.9,68.8L364.1,67.3L364.3,68.5L364.5,67.7L364.7,67.7L364.9,69.9L365.1,68.0L365.3,67.3L365.5,68.0L365.7,68.5L365.9,70.9L366.1,69.3L366.3,70.1L366.5,68.5L366.7,69.9L366.9,70.4L367.1,71.5L367.3,69.4L367.5,70.8L367.7,70.7L367.9,69.6L368.1,70.7L368.3,70.6L368.5,68.9L368.7,71.7L368.9,71.8L369.1,71.0L369.3,70.4L369.5,73.0L369.7,72.1L369.9,72.9L370.1,73.4L370.3,71.8L370.5,73.1L370.7,72.3L370.9,72.6L371.1,72.7L371.3,72.9L371.5,74.1L371.7,73.3L371.9,73.2L372.1,73.3L372.3,74.0L372.5,73.0L372.7,73.5L372.9,74.0L373.1,73.7L373.3,74.3L373.5,74.0L373.7,76.5L373.9,76.0L374.1,75.4L374.3,75.1L374.5,77.2L374.7,75.7L374.9,75.5L375.1,75.9L375.3,76.1L375.5,77.2L375.7,76.1L375.9,78.1L376.1,75.6L376.3,77.1L376.5,75.7L376.7,78.4L376.9,76.6L377.1,76.9L377.3,77.9L377.5,78.3L377.7,76.3L377.9,77.1L378.1,76.3L378.3,77.7L378.5,77.6L378.7,77.5L378.9,77.3L379.1,77.6L379.3,77.4L379.5,78.6L379.7,79.5L379.9,76.5L380.1,78.2L380.3,78.0L380.5,78.8L380.7,77.6L380.9,78.3L381.1,77.5L381.3,79.1L381.5,78.6L381.7,78.4L381.9,78.9L382.1,78.3L382.3,77.2L382.5,79.1L382.7,78.8L382.9,78.5L383.1,79.5L383.3,79.7L383.5,77.7L383.7,77.9L383.9,80.0L384.1,79.9L384.3,78.0L384.5,77.6L384.7,78.1L384.9,78.3L385.1,77.3L385.3,78.8L385.5,77.6L385.7,77.7L385.9,79.6L386.1,78.1L386.3,78.7L386.5,79.3L386.7,79.5L386.9,78.5L387.1,78.8L387.3,78.1L387.5,80.4L387.7,79.4L387.9,77.8L388.1,78.8L388.3,79.5L388.5,79.3L388.7,80.5L388.9,80.1L389.1,78.4L389.3,78.8L389.5,77.7L389.7,79.1L389.9,79.0L390.1,81.3L390.3,79.0L390.5,77.0L390.7,78.3L390.9,79.0L391.1,77.8L391.3,78.1L391.5,78.6L391.7,79.2L391.9,78.8L392.1,78.1L392.3,79.6L392.5,78.4L392.7,78.4L392.9,77.6L393.1,78.2L393.3,79.4L393.5,77.4L393.7,78.7L393.9,79.4L394.1,78.4L394.3,78.9L394.5,77.6L394.7,79.8L394.9,79.5L395.1,78.7L395.3,76.9L395.5,77.4L395.7,79.2L395.9,79.8L396.1,78.5L396.3,79.3L396.5,77.5L396.7,77.9L396.9,78.0L397.1,78.3L397.3,76.5L397.5,78.7L397.7,78.9L397.9,76.7L398.1,76.4L398.3,77.9L398.5,77.0L398.7,75.4L398.9,78.2L399.1,77.5L399.3,76.9L399.5,79.2L399.7,77.4L399.9,76.6L400.1,77.3L400.3,76.3L400.5,76.5L400.7,77.6L400.9,76.7L401.1,76.8L401.3,78.7L401.5,78.0L401.7,78.0L401.9,77.7L402.1,77.7L402.3,78.7L402.5,77.4L402.7,79.1L402.9,76.7L403.1,77.3L403.3,76.4L403.5,77.4L403.7,78.3L403.9,79.2L404.1,77.4L404.3,78.1L404.5,77.8L404.7,77.6L404.9,77.3L405.1,78.5L405.3,77.0L405.5,78.8L405.7,78.8L405.9,78.3L406.1,78.1L406.3,77.9L406.5,80.9L406.7,78.2L406.9,80.9L407.1,80.1L407.3,79.4L407.5,78.8L407.7,80.9L407.9,81.6L408.1,79.4L408.3,80.1L408.5,81.4L408.7,80.9L408.9,82.5L409.1,80.3L409.3,81.4L409.5,79.9L409.7,83.0L409.9,80.5L410.1,79.3L410.3,81.3L410.5,81.4L410.7,83.4L410.9,81.5L411.1,81.9L411.3,82.5L411.5,83.6L411.7,82.2L411.9,83.3L412.1,83.0L412.3,82.4L412.5,82.8L412.7,82.9L412.9,82.2L413.1,84.2L413.3,82.0L413.5,84.5L413.7,84.4L413.9,83.6L414.1,83.1L414.3,83.7L414.5,84.5L414.7,84.9L414.9,84.6L415.1,85.4L415.3,84.1L415.5,84.9L415.7,83.4L415.9,85.7L416.1,85.2L416.3,84.9L416.5,86.4L416.7,86.1L416.9,83.1L417.1,85.8L417.3,84.5L417.5,86.9L417.7,88.3L417.9,85.7L418.1,86.4L418.3,86.2L418.5,86.8L418.7,87.2L418.9,87.9L419.1,85.9L419.3,88.3L419.5,86.2L419.7,87.4L419.9,88.3L420.1,88.0L420.3,86.6L420.5,86.9L420.7,87.2L420.9,87.7L421.1,88.9L421.3,86.8L421.5,88.5L421.7,88.7L421.9,88.8L422.1,88.8L422.3,89.8L422.5,89.0L422.7,89.4L422.9,89.2L423.1,90.4L423.3,87.2L423.5,90.1L423.7,88.8L423.9,88.8L424.1,88.3L424.3,87.5L424.5,88.9L424.7,88.7L424.9,89.8L425.1,88.1L425.3,90.8L425.5,89.8L425.7,89.3L425.9,89.0L426.1,88.9L426.3,88.7L426.5,89.2L426.7,89.8L426.9,89.6L427.1,88.6L427.3,89.6L427.5,89.1L427.7,90.1L427.9,91.7L428.1,90.6L428.3,89.8L428.5,88.6L428.7,88.9L428.9,88.6L429.1,90.8L429.3,89.5L429.5,90.3L429.7,89.7L429.9,90.4L430.1,91.6L430.3,89.8L430.5,90.1L430.7,89.7L430.9,91.3L431.1,89.6L431.3,89.5L431.5,89.3L431.7,89.3L431.9,91.0L432.1,92.9L432.3,89.8L432.5,91.5L432.7,90.9L432.9,89.7L433.1,90.5L433.3,90.6L433.5,90.2L433.7,92.6L433.9,89.1L434.1,91.2L434.3,91.2L434.5,90.4L434.7,91.1L434.9,91.8L435.1,91.1L435.3,91.4L435.5,91.7L435.7,89.2L435.9,92.4L436.1,93.1L436.3,92.0L436.5,92.1L436.7,89.9L436.9,91.1L437.1,90.5L437.3,90.7L437.5,92.1L437.7,90.5L437.9,91.2L438.1,89.6L438.3,91.2L438.5,91.4L438.7,90.7L438.9,90.7L439.1,93.1L439.3,90.3L439.5,90.5L439.7,90.7L439.9,92.6L440.1,93.4L440.3,91.8L440.5,90.9L440.7,91.2L440.9,92.6L441.1,90.8L441.3,92.9L441.5,92.9L441.7,91.7L441.9,92.3L442.1,92.4L442.3,93.2L442.5,90.8L442.7,92.9L442.9,91.5L443.1,91.2L443.3,92.0L443.5,91.7L443.7,91.0L443.9,90.5L444.1,91.1L444.3,93.3L444.5,93.8L444.7,92.6L444.9,93.1L445.1,91.6L445.3,92.0L445.5,92.4L445.7,91.2L445.9,91.3L446.1,92.3L446.3,91.9L446.5,91.3L446.7,92.6L446.9,92.1L447.1,93.2L447.3,92.3L447.5,92.1L447.7,92.5L447.9,92.3L448.1,91.8L448.3,92.1L448.5,93.1L448.7,93.1L448.9,93.7L449.1,91.0L449.3,92.2L449.5,92.2L449.7,92.8L449.9,92.2L450.1,92.2L450.3,93.4L450.5,92.9L450.7,91.7L450.9,93.9L451.1,93.7L451.3,92.3L451.5,93.6L451.7,92.2L451.9,93.9L452.1,92.7L452.3,92.2L452.5,92.6L452.7,92.3L452.9,93.1L453.1,93.1L453.3,93.0L453.5,92.5L453.7,89.8L453.9,93.2L454.1,91.4L454.3,93.3L454.5,94.2L454.7,93.4L454.9,92.8L455.1,93.0L455.3,93.1L455.5,92.7L455.7,92.7L455.9,92.5L456.1,94.4L456.3,93.3L456.5,94.2L456.7,93.1L456.9,93.4L457.1,93.2L457.3,93.8L457.5,94.2L457.7,93.7L457.9,92.9L458.1,92.8L458.3,95.0L458.5,93.3L458.7,93.3L458.9,94.9L459.1,94.6L459.3,94.1L459.5,93.3L459.7,95.8L459.9,94.0L460.1,94.2L460.3,93.5L460.5,92.4L460.7,92.5L460.9,94.1L461.1,94.1L461.3,93.6L461.5,92.7L461.7,92.5L461.9,93.5L462.1,92.5L462.3,94.7L462.5,94.9L462.7,96.4L462.9,94.7L463.1,93.4L463.3,93.2L463.5,90.9L463.7,93.4L463.9,93.8L464.1,94.9L464.3,94.6L464.5,94.6L464.7,94.2L464.9,94.7L465.1,95.4L465.3,93.1L465.5,93.7L465.7,92.9L465.9,95.6L466.1,95.3L466.3,94.8L466.5,93.1L466.7,94.3L466.9,94.0L467.1,94.3L467.3,94.1L467.5,94.7L467.7,93.9L467.9,95.0L468.1,94.5L468.3,94.0L468.5,94.2L468.7,93.9L468.9,95.1L469.1,94.1L469.3,94.6L469.5,94.0L469.7,93.0L469.9,95.2L470.1,93.5L470.3,95.0L470.5,94.8L470.7,93.0L470.9,93.6L471.1,94.0L471.3,93.8L471.5,93.4L471.7,95.2L471.9,94.3L472.1,94.9L472.3,94.2L472.5,94.8L472.7,93.9L472.9,94.6L473.1,95.1L473.3,94.7L473.5,94.2L473.7,93.7L473.9,94.8L474.1,95.0L474.3,94.5L474.5,94.0L474.7,95.2L474.9,97.0L475.1,94.5L475.3,95.0L475.5,95.1L475.7,92.5L475.9,94.9L476.1,94.2L476.3,96.1L476.5,94.6L476.7,94.1L476.9,94.6L477.1,95.0L477.3,94.4L477.5,94.8L477.7,93.7L477.9,94.7L478.1,95.6L478.3,96.7L478.5,95.6L478.7,95.2L478.9,96.0L479.1,95.9L479.3,96.5L479.5,95.9L479.7,94.9L479.9,95.2L480.1,95.2L480.3,95.3L480.5,95.2L480.7,94.3L480.9,93.1L481.1,94.4L481.3,93.2L481.5,95.1L481.7,95.1L481.9,93.6L482.1,95.7L482.3,95.9L482.5,95.2L482.7,96.6L482.9,96.8L483.1,94.0L483.3,96.1L483.5,95.5L483.7,95.5L483.9,96.0L484.1,94.5L484.3,94.6L484.5,94.4L484.7,94.5L484.9,95.1L485.1,93.9L485.3,94.2L485.5,95.7L485.7,95.1L485.9,95.5L486.1,93.5L486.3,94.5L486.5,94.7L486.7,95.2L486.9,94.7L487.1,96.0L487.3,95.1L487.5,95.2L487.7,95.2L487.9,95.8L488.1,94.8L488.3,96.2L488.5,95.6L488.7,95.3L488.9,95.2L489.1,95.7L489.3,96.1L489.5,96.1L489.7,95.5L489.9,96.0L490.1,95.3L490.3,96.3L490.5,95.2L490.7,93.3L490.9,96.4L491.1,95.3L491.3,94.1L491.5,95.0L491.7,94.4L491.9,97.1L492.1,95.6L492.3,93.8L492.5,95.7L492.7,94.8L492.9,96.9L493.1,94.3L493.3,93.2L493.5,95.3L493.7,94.9L493.9,94.8L494.1,93.3L494.3,95.6L494.5,96.7L494.7,93.5L494.9,96.3L495.1,94.7L495.3,97.3L495.5,95.6L495.7,95.0L495.9,96.2L496.1,95.7L496.3,94.7L496.5,95.8L496.7,94.7L496.9,93.6L497.1,97.0L497.3,94.9L497.5,94.7L497.7,95.5L497.9,93.8L498.1,94.0L498.3,94.8L498.5,94.7L498.7,95.3L498.9,96.2L499.1,94.8L499.3,95.6L499.5,95.7L499.7,94.2L499.9,95.4L500.1,94.4L500.3,96.2L500.5,95.6L500.7,95.2L500.9,94.0L501.1,95.3L501.3,94.5L501.5,95.8L501.7,95.1L501.9,94.5L502.1,96.0L502.3,95.8L502.5,94.7L502.7,96.2L502.9,94.9L503.1,94.9L503.3,95.3L503.5,94.5L503.7,94.8L503.9,95.1L504.1,96.6L504.3,96.5L504.5,95.0L504.7,96.6L504.9,95.2L505.1,95.5L505.3,96.0L505.5,95.5L505.7,97.4L505.9,95.4L506.1,94.1L506.3,96.4L506.5,94.8L506.7,94.9L506.9,92.5L507.1,96.1L507.3,95.9L507.5,95.9L507.7,96.1L507.9,96.7L508.1,95.2L508.3,96.0L508.5,94.5L508.7,94.9L508.9,96.2L509.1,95.6L509.3,94.0L509.5,95.5L509.7,95.0L509.9,94.5L510.1,95.6L510.3,94.8L510.5,93.8L510.7,94.2L510.9,96.8L511.1,93.8L511.3,95.4L511.5,95.7L511.7,95.8L511.9,94.1L512.1,94.9L512.3,95.3L512.5,95.9L512.7,94.6L512.9,94.2L513.1,96.1L513.3,96.2L513.5,95.5L513.7,94.7L513.9,95.6L514.1,95.3L514.3,96.0L514.5,94.1L514.7,95.3L514.9,95.1L515.1,94.2L515.3,95.4L515.5,95.2L515.7,94.8L515.9,95.6L516.1,93.9L516.3,95.2L516.5,95.6L516.7,95.5L516.9,96.2L517.1,94.2L517.3,93.9L517.5,95.5L517.7,95.6L517.9,97.1L518.1,95.8L518.3,94.5L518.5,96.0L518.7,94.5L518.9,93.9L519.1,97.6L519.3,95.5L519.5,95.9L519.7,95.8L519.9,96.9L520.1,95.5L520.3,96.4L520.5,94.3L520.7,94.0L520.9,96.6L521.1,96.6L521.3,95.7L521.5,95.5L521.7,95.4L521.9,94.7L522.1,96.7L522.3,95.9L522.5,95.8L522.7,95.6L522.9,96.3L523.1,95.8L523.3,96.0L523.5,94.3L523.7,95.8L523.9,97.3L524.1,94.9L524.3,95.2L524.5,96.1L524.7,96.2L524.9,95.9L525.1,93.9L525.3,95.8L525.5,94.3L525.7,94.6L525.9,95.9L526.1,95.1L526.3,96.1L526.5,98.2L526.7,96.1L526.9,96.0L527.1,94.6L527.3,94.8L527.5,94.4L527.7,94.9L527.9,94.4L528.1,94.8L528.3,95.2L528.5,94.5L528.7,94.1L528.9,94.2L529.1,95.8L529.3,95.5L529.5,96.4L529.7,96.4L529.9,95.1L530.1,96.1L530.3,94.2L530.5,97.5L530.7,96.5L530.9,95.3L531.1,94.4L531.3,95.8L531.5,93.8L531.7,94.8L531.9,96.2L532.1,95.6L532.3,95.1L532.5,96.4L532.7,94.6L532.9,95.8L533.1,95.1L533.3,94.8L533.5,96.0L533.7,94.7L533.9,97.3L534.1,95.0L534.3,97.4L534.5,94.6L534.7,96.1L534.9,94.5L535.1,94.4L535.3,95.7L535.5,96.2L535.7,94.5L535.9,96.7L536.1,94.9L536.3,95.7L536.5,96.0L536.7,96.2L536.9,94.0L537.1,97.1L537.3,96.1L537.5,95.3L537.7,94.7L537.9,94.1L538.1,94.4L538.3,96.2L538.5,95.4L538.7,94.7L538.9,95.2L539.1,97.1L539.3,95.4L539.5,95.2" fill="none" stroke="#1F4C9E" stroke-width="1.4" stroke-linejoin="round" stroke-linecap="round"/>
<path d="M311.3,100.3L311.5,98.7L311.7,98.0L311.9,96.8L312.1,95.2L312.3,95.8L312.5,96.9L312.7,97.3L312.9,98.2L313.1,98.5L313.3,97.9L313.5,97.8L313.7,95.7L313.9,93.7L314.1,96.4L314.3,95.6L314.5,96.1L314.7,96.7L314.9,95.0L315.1,95.2L315.3,96.8L315.5,97.1L315.7,95.8L315.9,97.7L316.1,96.4L316.3,95.0L316.5,96.8L316.7,99.8L316.9,95.4L317.1,98.5L317.3,98.8L317.5,99.0L317.7,95.0L317.9,99.7L318.1,96.4L318.3,95.8L318.5,95.7L318.7,97.1L318.9,96.1L319.1,95.7L319.3,98.1L319.5,94.6L319.7,94.0L319.9,97.1L320.1,96.9L320.3,97.5L320.5,93.8L320.7,97.4L320.9,96.3L321.1,98.4L321.3,93.2L321.5,95.7L321.7,94.8L321.9,92.5L322.1,93.9L322.3,97.0L322.5,94.2L322.7,93.7L322.9,96.4L323.1,96.5L323.3,96.4L323.5,93.4L323.7,94.5L323.9,96.3L324.1,93.4L324.3,93.2L324.5,95.8L324.7,96.9L324.9,92.2L325.1,89.7L325.3,91.6L325.5,92.2L325.7,93.6L325.9,94.8L326.1,93.5L326.3,92.4L326.5,93.8L326.7,91.8L326.9,93.3L327.1,92.2L327.3,97.8L327.5,94.5L327.7,91.6L327.9,91.2L328.1,92.1L328.3,90.0L328.5,91.5L328.7,91.4L328.9,94.0L329.1,91.7L329.3,91.0L329.5,90.0L329.7,90.2L329.9,92.1L330.1,91.7L330.3,94.0L330.5,90.9L330.7,93.7L330.9,92.3L331.1,91.8L331.3,88.3L331.5,89.5L331.7,92.9L331.9,94.0L332.1,92.0L332.3,92.9L332.5,90.9L332.7,90.9L332.9,90.4L333.1,93.2L333.3,92.1L333.5,91.1L333.7,90.9L333.9,92.5L334.1,92.1L334.3,90.1L334.5,94.5L334.7,92.0L334.9,91.6L335.1,94.2L335.3,93.4L335.5,91.6L335.7,92.7L335.9,90.0L336.1,90.7L336.3,88.0L336.5,94.0L336.7,88.7L336.9,93.2L337.1,90.7L337.3,90.5L337.5,91.8L337.7,92.7L337.9,93.3L338.1,95.3L338.3,93.0L338.5,94.0L338.7,91.5L338.9,93.8L339.1,93.0L339.3,92.0L339.5,92.7L339.7,92.9L339.9,93.4L340.1,93.9L340.3,92.5L340.5,92.2L340.7,94.9L340.9,90.8L341.1,92.8L341.3,96.7L341.5,89.6L341.7,93.1L341.9,95.6L342.1,91.8L342.3,99.2L342.5,90.6L342.7,97.6L342.9,97.9L343.1,97.0L343.3,95.3L343.5,96.4L343.7,94.5L343.9,97.5L344.1,94.5L344.3,96.1L344.5,98.4L344.7,95.0L344.9,96.5L345.1,97.6L345.3,95.2L345.5,99.6L345.7,98.4L345.9,95.4L346.1,98.1L346.3,97.1L346.5,97.5L346.7,98.9L346.9,97.8L347.1,100.8L347.3,98.2L347.5,101.3L347.7,99.8L347.9,101.6L348.1,99.4L348.3,99.7L348.5,98.9L348.7,102.1L348.9,102.9L349.1,105.2L349.3,104.0L349.5,102.5L349.7,102.0L349.9,103.3L350.1,102.8L350.3,105.7L350.5,105.0L350.7,102.3L350.9,102.8L351.1,106.6L351.3,105.1L351.5,104.4L351.7,107.1L351.9,104.7L352.1,105.2L352.3,105.1L352.5,102.9L352.7,107.9L352.9,104.7L353.1,106.0L353.3,106.0L353.5,108.8L353.7,107.7L353.9,108.1L354.1,105.5L354.3,108.4L354.5,106.3L354.7,109.6L354.9,110.0L355.1,109.6L355.3,113.3L355.5,111.0L355.7,111.3L355.9,110.8L356.1,110.4L356.3,112.7L356.5,113.1L356.7,109.3L356.9,113.5L357.1,112.9L357.3,113.9L357.5,113.3L357.7,110.6L357.9,110.9L358.1,116.3L358.3,113.8L358.5,111.2L358.7,114.5L358.9,113.5L359.1,111.2L359.3,110.7L359.5,112.1L359.7,115.5L359.9,115.2L360.1,115.1L360.3,116.2L360.5,117.0L360.7,112.6L360.9,115.9L361.1,115.2L361.3,114.8L361.5,116.2L361.7,117.1L361.9,117.1L362.1,115.3L362.3,117.1L362.5,121.6L362.7,116.6L362.9,115.7L363.1,119.2L363.3,120.0L363.5,119.9L363.7,117.4L363.9,121.2L364.1,118.4L364.3,118.0L364.5,119.0L364.7,120.1L364.9,121.7L365.1,121.7L365.3,120.8L365.5,122.5L365.7,121.3L365.9,122.8L366.1,119.1L366.3,119.0L366.5,123.1L366.7,119.6L366.9,121.6L367.1,122.1L367.3,121.6L367.5,121.9L367.7,125.2L367.9,118.7L368.1,124.6L368.3,127.2L368.5,123.5L368.7,123.5L368.9,125.0L369.1,127.0L369.3,122.0L369.5,124.3L369.7,124.0L369.9,125.4L370.1,124.9L370.3,125.9L370.5,124.2L370.7,125.1L370.9,124.0L371.1,124.2L371.3,125.2L371.5,125.3L371.7,123.7L371.9,128.5L372.1,125.8L372.3,123.8L372.5,128.1L372.7,125.1L372.9,127.4L373.1,126.6L373.3,127.2L373.5,127.2L373.7,126.0L373.9,127.2L374.1,130.7L374.3,123.5L374.5,127.6L374.7,128.3L374.9,125.9L375.1,125.5L375.3,131.6L375.5,127.5L375.7,131.7L375.9,129.2L376.1,128.6L376.3,129.4L376.5,129.8L376.7,130.8L376.9,129.7L377.1,129.3L377.3,129.5L377.5,131.6L377.7,130.8L377.9,127.8L378.1,128.5L378.3,130.3L378.5,128.8L378.7,129.3L378.9,128.4L379.1,129.7L379.3,131.0L379.5,132.1L379.7,130.5L379.9,134.1L380.1,130.6L380.3,136.2L380.5,132.6L380.7,131.8L380.9,130.2L381.1,126.4L381.3,131.0L381.5,131.7L381.7,134.7L381.9,129.2L382.1,134.9L382.3,131.3L382.5,133.0L382.7,127.5L382.9,132.2L383.1,131.4L383.3,133.2L383.5,132.3L383.7,130.3L383.9,133.9L384.1,133.5L384.3,133.4L384.5,134.1L384.7,134.3L384.9,132.5L385.1,130.3L385.3,130.3L385.5,135.0L385.7,133.9L385.9,132.9L386.1,132.1L386.3,132.9L386.5,132.9L386.7,132.3L386.9,131.8L387.1,136.7L387.3,133.4L387.5,132.0L387.7,130.9L387.9,131.9L388.1,134.4L388.3,134.5L388.5,132.9L388.7,133.4L388.9,132.8L389.1,131.4L389.3,135.6L389.5,134.0L389.7,137.6L389.9,132.2L390.1,133.2L390.3,135.0L390.5,133.1L390.7,131.2L390.9,132.0L391.1,133.8L391.3,134.2L391.5,133.5L391.7,135.4L391.9,135.4L392.1,134.3L392.3,133.8L392.5,133.4L392.7,134.8L392.9,135.4L393.1,134.0L393.3,134.7L393.5,133.4L393.7,131.6L393.9,132.3L394.1,135.3L394.3,134.8L394.5,136.8L394.7,134.2L394.9,135.6L395.1,136.4L395.3,135.9L395.5,133.2L395.7,133.9L395.9,134.5L396.1,132.6L396.3,135.1L396.5,136.1L396.7,133.6L396.9,137.8L397.1,133.9L397.3,134.1L397.5,134.1L397.7,133.3L397.9,135.3L398.1,134.6L398.3,137.4L398.5,135.7L398.7,135.6L398.9,134.3L399.1,132.3L399.3,134.6L399.5,133.3L399.7,136.4L399.9,134.8L400.1,137.7L400.3,136.1L400.5,136.3L400.7,135.3L400.9,135.3L401.1,136.1L401.3,136.6L401.5,133.8L401.7,135.9L401.9,139.5L402.1,135.0L402.3,134.7L402.5,134.0L402.7,132.7L402.9,137.2L403.1,135.3L403.3,135.8L403.5,138.4L403.7,139.6L403.9,133.8L404.1,137.2L404.3,136.5L404.5,136.1L404.7,136.3L404.9,135.4L405.1,138.2L405.3,136.6L405.5,136.2L405.7,137.7L405.9,137.2L406.1,136.4L406.3,136.3L406.5,138.7L406.7,136.6L406.9,135.6L407.1,134.4L407.3,135.3L407.5,134.1L407.7,136.1L407.9,136.4L408.1,132.5L408.3,136.1L408.5,137.2L408.7,136.4L408.9,134.5L409.1,138.3L409.3,135.0L409.5,134.2L409.7,134.4L409.9,136.3L410.1,138.0L410.3,138.4L410.5,136.8L410.7,134.5L410.9,135.4L411.1,135.0L411.3,136.3L411.5,133.6L411.7,136.9L411.9,137.8L412.1,136.5L412.3,137.6L412.5,135.3L412.7,134.4L412.9,135.9L413.1,139.0L413.3,138.8L413.5,136.3L413.7,139.2L413.9,136.6L414.1,139.8L414.3,138.1L414.5,136.5L414.7,138.7L414.9,136.1L415.1,135.8L415.3,135.0L415.5,137.9L415.7,137.5L415.9,137.5L416.1,136.9L416.3,140.1L416.5,137.0L416.7,136.5L416.9,139.9L417.1,140.3L417.3,138.5L417.5,135.0L417.7,137.0L417.9,139.1L418.1,138.1L418.3,140.7L418.5,135.8L418.7,139.3L418.9,137.1L419.1,140.5L419.3,138.1L419.5,140.1L419.7,137.2L419.9,136.0L420.1,136.5L420.3,137.4L420.5,136.7L420.7,140.6L420.9,140.8L421.1,139.1L421.3,136.9L421.5,138.5L421.7,137.5L421.9,141.2L422.1,139.3L422.3,139.6L422.5,138.1L422.7,135.4L422.9,137.6L423.1,137.0L423.3,139.6L423.5,139.2L423.7,137.7L423.9,138.4L424.1,141.7L424.3,137.5L424.5,137.6L424.7,138.8L424.9,138.0L425.1,138.5L425.3,140.2L425.5,142.2L425.7,136.3L425.9,139.3L426.1,139.5L426.3,139.3L426.5,139.1L426.7,138.9L426.9,141.2L427.1,138.7L427.3,139.3L427.5,139.6L427.7,139.8L427.9,139.3L428.1,141.4L428.3,139.7L428.5,140.0L428.7,139.6L428.9,138.1L429.1,138.4L429.3,138.0L429.5,140.1L429.7,138.6L429.9,138.1L430.1,140.3L430.3,140.8L430.5,136.9L430.7,142.8L430.9,140.0L431.1,139.8L431.3,141.8L431.5,140.1L431.7,139.0L431.9,143.8L432.1,138.2L432.3,139.9L432.5,141.5L432.7,138.3L432.9,140.0L433.1,140.8L433.3,144.3L433.5,138.7L433.7,140.1L433.9,141.3L434.1,140.4L434.3,138.2L434.5,141.0L434.7,140.5L434.9,141.1L435.1,142.2L435.3,142.1L435.5,141.0L435.7,140.9L435.9,138.5L436.1,140.2L436.3,140.8L436.5,139.7L436.7,140.6L436.9,139.0L437.1,143.1L437.3,144.1L437.5,139.8L437.7,141.2L437.9,140.1L438.1,142.7L438.3,141.3L438.5,140.7L438.7,140.2L438.9,140.8L439.1,138.9L439.3,141.8L439.5,139.4L439.7,141.6L439.9,140.9L440.1,142.6L440.3,140.7L440.5,142.5L440.7,139.2L440.9,141.8L441.1,140.4L441.3,141.1L441.5,140.9L441.7,142.4L441.9,137.4L442.1,141.4L442.3,138.3L442.5,142.9L442.7,137.5L442.9,139.2L443.1,138.1L443.3,143.7L443.5,138.8L443.7,141.2L443.9,140.1L444.1,138.0L444.3,140.5L444.5,142.2L444.7,140.8L444.9,142.7L445.1,140.5L445.3,141.1L445.5,140.5L445.7,141.8L445.9,144.4L446.1,141.8L446.3,141.6L446.5,140.2L446.7,140.0L446.9,143.8L447.1,139.4L447.3,139.8L447.5,141.2L447.7,140.6L447.9,144.7L448.1,137.4L448.3,142.0L448.5,142.7L448.7,139.6L448.9,140.4L449.1,142.2L449.3,144.3L449.5,140.0L449.7,138.9L449.9,143.2L450.1,144.2L450.3,141.1L450.5,137.9L450.7,144.1L450.9,141.4L451.1,143.6L451.3,141.7L451.5,141.1L451.7,141.0L451.9,144.3L452.1,144.3L452.3,138.2L452.5,140.3L452.7,144.9L452.9,141.3L453.1,139.6L453.3,141.9L453.5,141.8L453.7,141.8L453.9,141.2L454.1,141.5L454.3,141.3L454.5,142.6L454.7,140.7L454.9,141.6L455.1,141.9L455.3,144.4L455.5,142.8L455.7,142.0L455.9,143.1L456.1,142.9L456.3,144.1L456.5,143.1L456.7,145.3L456.9,144.6L457.1,142.2L457.3,141.6L457.5,143.8L457.7,143.2L457.9,142.2L458.1,139.9L458.3,139.3L458.5,143.0L458.7,143.8L458.9,143.8L459.1,140.3L459.3,144.3L459.5,141.6L459.7,143.2L459.9,143.3L460.1,141.2L460.3,141.6L460.5,139.1L460.7,141.1L460.9,139.6L461.1,143.4L461.3,142.8L461.5,144.3L461.7,143.3L461.9,141.7L462.1,143.3L462.3,142.1L462.5,143.8L462.7,143.3L462.9,141.1L463.1,142.8L463.3,142.9L463.5,142.3L463.7,144.4L463.9,145.8L464.1,142.3L464.3,142.3L464.5,139.1L464.7,142.7L464.9,142.2L465.1,139.3L465.3,143.5L465.5,144.0L465.7,141.8L465.9,142.4L466.1,141.4L466.3,144.3L466.5,140.5L466.7,142.5L466.9,146.4L467.1,143.2L467.3,143.9L467.5,142.9L467.7,141.1L467.9,143.1L468.1,143.9L468.3,141.4L468.5,143.8L468.7,145.3L468.9,145.0L469.1,140.5L469.3,141.6L469.5,140.5L469.7,145.1L469.9,144.3L470.1,144.5L470.3,141.8L470.5,141.3L470.7,143.4L470.9,143.5L471.1,141.9L471.3,143.6L471.5,144.5L471.7,143.8L471.9,141.6L472.1,139.8L472.3,143.0L472.5,143.7L472.7,143.0L472.9,142.7L473.1,142.3L473.3,144.7L473.5,143.4L473.7,143.7L473.9,141.8L474.1,142.4L474.3,143.8L474.5,141.8L474.7,141.4L474.9,143.0L475.1,145.6L475.3,143.9L475.5,146.1L475.7,143.4L475.9,143.1L476.1,141.2L476.3,142.6L476.5,146.1L476.7,144.2L476.9,144.9L477.1,144.9L477.3,143.6L477.5,143.3L477.7,143.9L477.9,144.8L478.1,144.5L478.3,144.5L478.5,144.0L478.7,142.4L478.9,143.3L479.1,142.1L479.3,145.5L479.5,140.2L479.7,143.4L479.9,147.8L480.1,143.2L480.3,141.9L480.5,143.8L480.7,146.0L480.9,143.6L481.1,144.9L481.3,144.0L481.5,143.2L481.7,149.2L481.9,144.0L482.1,143.0L482.3,143.1L482.5,144.5L482.7,144.6L482.9,145.2L483.1,144.2L483.3,141.5L483.5,144.8L483.7,143.4L483.9,143.5L484.1,141.4L484.3,143.0L484.5,142.7L484.7,143.9L484.9,141.5L485.1,144.1L485.3,144.2L485.5,142.1L485.7,143.0L485.9,142.6L486.1,145.6L486.3,139.7L486.5,143.5L486.7,141.2L486.9,143.3L487.1,145.5L487.3,143.0L487.5,144.3L487.7,142.6L487.9,147.4L488.1,145.6L488.3,146.0L488.5,141.9L488.7,142.2L488.9,146.0L489.1,143.8L489.3,143.7L489.5,144.7L489.7,142.0L489.9,145.5L490.1,144.2L490.3,145.0L490.5,143.0L490.7,145.1L490.9,143.0L491.1,145.8L491.3,146.1L491.5,145.8L491.7,145.1L491.9,145.3L492.1,139.6L492.3,145.6L492.5,143.8L492.7,144.4L492.9,143.8L493.1,141.9L493.3,143.3L493.5,145.4L493.7,146.7L493.9,143.2L494.1,142.7L494.3,146.8L494.5,142.8L494.7,147.8L494.9,144.4L495.1,142.8L495.3,146.0L495.5,147.2L495.7,141.9L495.9,147.0L496.1,143.9L496.3,146.9L496.5,143.7L496.7,141.7L496.9,145.2L497.1,145.9L497.3,147.9L497.5,147.3L497.7,145.6L497.9,144.0L498.1,143.5L498.3,143.9L498.5,143.0L498.7,144.0L498.9,140.1L499.1,144.7L499.3,144.4L499.5,148.8L499.7,145.7L499.9,143.6L500.1,145.4L500.3,142.4L500.5,143.5L500.7,141.3L500.9,146.9L501.1,145.5L501.3,142.5L501.5,144.4L501.7,146.1L501.9,145.4L502.1,145.2L502.3,143.1L502.5,143.5L502.7,144.7L502.9,146.1L503.1,143.1L503.3,142.7L503.5,146.5L503.7,143.0L503.9,146.4L504.1,145.0L504.3,146.1L504.5,147.6L504.7,145.8L504.9,145.9L505.1,143.0L505.3,143.4L505.5,145.7L505.7,147.2L505.9,147.0L506.1,148.6L506.3,145.2L506.5,145.0L506.7,146.4L506.9,144.7L507.1,144.6L507.3,142.9L507.5,146.4L507.7,142.9L507.9,145.6L508.1,142.3L508.3,146.6L508.5,143.0L508.7,146.1L508.9,142.0L509.1,144.0L509.3,146.7L509.5,143.4L509.7,144.8L509.9,143.9L510.1,140.8L510.3,145.3L510.5,145.5L510.7,142.9L510.9,145.7L511.1,143.4L511.3,143.1L511.5,144.8L511.7,143.6L511.9,148.7L512.1,142.1L512.3,146.1L512.5,146.5L512.7,141.4L512.9,141.9L513.1,145.8L513.3,144.0L513.5,145.5L513.7,146.8L513.9,144.2L514.1,143.0L514.3,140.2L514.5,145.2L514.7,143.3L514.9,145.4L515.1,145.3L515.3,142.5L515.5,147.8L515.7,146.7L515.9,146.3L516.1,142.9L516.3,144.2L516.5,144.0L516.7,144.2L516.9,143.0L517.1,145.6L517.3,145.3L517.5,145.5L517.7,144.1L517.9,147.1L518.1,145.2L518.3,140.3L518.5,143.8L518.7,144.8L518.9,146.6L519.1,144.4L519.3,144.5L519.5,143.8L519.7,146.1L519.9,144.2L520.1,143.9L520.3,143.7L520.5,145.9L520.7,144.1L520.9,142.1L521.1,146.0L521.3,143.8L521.5,145.6L521.7,145.6L521.9,147.1L522.1,146.8L522.3,144.0L522.5,144.7L522.7,142.8L522.9,147.9L523.1,145.8L523.3,147.4L523.5,144.5L523.7,141.6L523.9,147.6L524.1,145.2L524.3,145.3L524.5,145.1L524.7,146.1L524.9,146.0L525.1,142.4L525.3,146.9L525.5,144.2L525.7,144.3L525.9,148.0L526.1,146.6L526.3,144.5L526.5,141.9L526.7,145.4L526.9,146.0L527.1,145.0L527.3,143.0L527.5,143.8L527.7,143.0L527.9,145.5L528.1,146.5L528.3,146.9L528.5,143.9L528.7,145.5L528.9,146.1L529.1,144.2L529.3,144.9L529.5,148.7L529.7,145.5L529.9,146.6L530.1,144.4L530.3,145.2L530.5,142.2L530.7,145.1L530.9,147.2L531.1,148.7L531.3,147.2L531.5,146.3L531.7,145.2L531.9,144.1L532.1,144.9L532.3,146.2L532.5,143.8L532.7,146.7L532.9,143.5L533.1,142.1L533.3,143.4L533.5,142.3L533.7,142.8L533.9,147.1L534.1,144.8L534.3,145.5L534.5,147.1L534.7,147.3L534.9,144.3L535.1,147.4L535.3,145.8L535.5,145.2L535.7,145.9L535.9,142.8L536.1,143.8L536.3,145.0L536.5,146.2L536.7,144.6L536.9,145.0L537.1,146.8L537.3,147.6L537.5,146.5L537.7,147.3L537.9,144.5L538.1,144.7L538.3,145.7L538.5,144.7L538.7,144.3L538.9,148.0L539.1,144.9L539.3,143.6L539.5,146.0" fill="none" stroke="#f08a8e" stroke-width="0.5" stroke-linejoin="round" stroke-linecap="round" opacity="0.5"/>
<path d="M311.3,100.9L311.8,98.0L312.3,99.7L312.8,96.9L313.3,96.7L313.8,96.3L314.3,97.0L314.8,100.1L315.3,95.2L315.8,99.5L316.3,95.1L316.8,96.2L317.3,97.8L317.8,97.3L318.3,96.6L318.8,93.4L319.3,96.5L319.8,94.1L320.3,99.7L320.8,95.2L321.3,95.7L321.8,93.4L322.3,94.3L322.8,92.9L323.3,96.3L323.8,94.2L324.3,95.3L324.8,93.2L325.3,93.2L325.8,95.9L326.3,92.1L326.8,90.5L327.3,93.8L327.8,91.2L328.3,92.1L328.8,94.0L329.3,91.1L329.8,93.6L330.3,90.9L330.8,94.3L331.3,93.9L331.8,90.9L332.3,91.2L332.8,90.2L333.3,91.8L333.8,93.3L334.3,89.2L334.8,93.1L335.3,89.6L335.8,90.4L336.3,89.0L336.8,95.4L337.3,92.2L337.8,92.6L338.3,91.3L338.8,94.3L339.3,89.4L339.8,93.1L340.3,96.9L340.8,93.1L341.3,94.0L341.8,95.5L342.3,93.5L342.8,95.2L343.3,97.2L343.8,96.4L344.3,97.1L344.8,96.4L345.3,98.0L345.8,98.0L346.3,100.7L346.8,100.0L347.3,99.0L347.8,96.1L348.3,101.7L348.8,102.4L349.3,100.4L349.8,99.3L350.3,101.3L350.8,105.3L351.3,102.8L351.8,104.5L352.3,106.3L352.8,108.6L353.3,107.3L353.8,107.8L354.3,107.7L354.8,111.8L355.3,111.5L355.8,110.3L356.3,108.8L356.8,110.4L357.3,113.1L357.8,111.7L358.3,114.8L358.8,114.6L359.3,115.1L359.8,116.2L360.3,116.6L360.8,115.0L361.3,116.4L361.8,121.2L362.3,116.0L362.8,117.7L363.3,120.7L363.8,119.2L364.3,118.6L364.8,118.2L365.3,121.6L365.8,122.9L366.3,123.9L366.8,122.1L367.3,124.1L367.8,121.2L368.3,123.5L368.8,122.6L369.3,124.3L369.8,125.6L370.3,126.5L370.8,123.5L371.3,127.5L371.8,125.0L372.3,124.5L372.8,126.2L373.3,124.4L373.8,127.1L374.3,127.8L374.8,127.3L375.3,128.8L375.8,127.8L376.3,128.6L376.8,126.6L377.3,129.2L377.8,128.1L378.3,129.0L378.8,129.9L379.3,130.6L379.8,127.9L380.3,128.3L380.8,130.6L381.3,132.0L381.8,132.1L382.3,133.1L382.8,134.0L383.3,132.9L383.8,132.2L384.3,130.7L384.8,131.0L385.3,131.9L385.8,133.2L386.3,133.2L386.8,132.9L387.3,132.8L387.8,134.1L388.3,133.5L388.8,133.8L389.3,133.8L389.8,132.6L390.3,131.9L390.8,134.4L391.3,134.3L391.8,133.4L392.3,133.1L392.8,137.5L393.3,132.7L393.8,133.6L394.3,134.5L394.8,132.3L395.3,134.4L395.8,137.1L396.3,135.8L396.8,135.4L397.3,135.4L397.8,134.7L398.3,136.1L398.8,134.4L399.3,134.1L399.8,135.0L400.3,136.3L400.8,135.5L401.3,136.1L401.8,131.8L402.3,137.0L402.8,138.9L403.3,137.4L403.8,134.8L404.3,134.0L404.8,135.9L405.3,134.0L405.8,136.8L406.3,134.9L406.8,137.3L407.3,138.0L407.8,132.7L408.3,136.5L408.8,135.0L409.3,133.9L409.8,135.3L410.3,136.0L410.8,138.2L411.3,134.2L411.8,138.4L412.3,140.0L412.8,137.9L413.3,137.9L413.8,137.1L414.3,135.4L414.8,138.2L415.3,138.1L415.8,138.7L416.3,141.8L416.8,139.0L417.3,138.6L417.8,140.5L418.3,135.9L418.8,136.4L419.3,137.7L419.8,137.3L420.3,139.6L420.8,138.0L421.3,141.4L421.8,141.1L422.3,140.0L422.8,138.3L423.3,139.9L423.8,140.3L424.3,137.4L424.8,139.8L425.3,140.4L425.8,139.7L426.3,141.9L426.8,141.4L427.3,138.2L427.8,139.8L428.3,138.3L428.8,140.7L429.3,138.4L429.8,141.3L430.3,140.5L430.8,141.5L431.3,139.8L431.8,137.7L432.3,142.9L432.8,139.9L433.3,142.4L433.8,140.9L434.3,141.3L434.8,143.2L435.3,140.9L435.8,142.6L436.3,138.0L436.8,141.8L437.3,140.1L437.8,140.3L438.3,140.6L438.8,141.1L439.3,143.3L439.8,137.7L440.3,140.8L440.8,139.6L441.3,142.6L441.8,140.1L442.3,141.6L442.8,140.3L443.3,142.0L443.8,142.6L444.3,140.4L444.8,141.2L445.3,138.9L445.8,141.7L446.3,142.6L446.8,140.4L447.3,143.1L447.8,138.1L448.3,138.5L448.8,139.3L449.3,140.8L449.8,141.6L450.3,141.5L450.8,141.6L451.3,142.9L451.8,141.0L452.3,139.8L452.8,139.9L453.3,145.3L453.8,138.2L454.3,141.8L454.8,144.4L455.3,142.9L455.8,140.9L456.3,142.2L456.8,143.7L457.3,144.3L457.8,140.9L458.3,143.6L458.8,142.9L459.3,144.3L459.8,144.8L460.3,142.1L460.8,140.3L461.3,143.3L461.8,145.6L462.3,143.9L462.8,143.2L463.3,146.7L463.8,141.2L464.3,144.4L464.8,142.0L465.3,143.1L465.8,143.2L466.3,145.5L466.8,141.6L467.3,142.3L467.8,140.6L468.3,144.0L468.8,142.5L469.3,143.9L469.8,141.5L470.3,142.7L470.8,145.0L471.3,143.1L471.8,144.4L472.3,144.2L472.8,142.9L473.3,141.0L473.8,145.1L474.3,143.8L474.8,145.1L475.3,140.3L475.8,140.9L476.3,140.2L476.8,142.2L477.3,145.3L477.8,144.6L478.3,143.7L478.8,143.9L479.3,145.0L479.8,143.3L480.3,144.4L480.8,144.0L481.3,140.3L481.8,143.3L482.3,146.1L482.8,143.3L483.3,143.7L483.8,143.0L484.3,143.2L484.8,145.8L485.3,143.6L485.8,142.4L486.3,139.1L486.8,143.1L487.3,140.9L487.8,141.2L488.3,145.4L488.8,145.3L489.3,141.1L489.8,145.5L490.3,144.9L490.8,142.9L491.3,145.4L491.8,141.6L492.3,142.3L492.8,141.9L493.3,142.5L493.8,145.7L494.3,142.2L494.8,142.5L495.3,142.8L495.8,144.6L496.3,143.8L496.8,145.7L497.3,143.2L497.8,142.3L498.3,143.6L498.8,144.5L499.3,142.9L499.8,144.9L500.3,147.4L500.8,143.5L501.3,144.6L501.8,146.7L502.3,143.5L502.8,143.2L503.3,142.8L503.8,145.2L504.3,145.4L504.8,144.3L505.3,144.7L505.8,146.6L506.3,146.0L506.8,142.4L507.3,144.6L507.8,144.8L508.3,145.8L508.8,144.3L509.3,143.6L509.8,144.0L510.3,141.9L510.8,144.7L511.3,143.8L511.8,145.5L512.3,143.1L512.8,144.1L513.3,143.2L513.8,143.1L514.3,145.9L514.8,144.1L515.3,145.5L515.8,143.0L516.3,145.0L516.8,142.1L517.3,144.1L517.8,144.1L518.3,145.8L518.8,145.2L519.3,144.6L519.8,146.2L520.3,145.2L520.8,145.8L521.3,146.2L521.8,144.8L522.3,144.5L522.8,145.5L523.3,144.3L523.8,145.6L524.3,146.7L524.8,146.3L525.3,144.4L525.8,142.9L526.3,144.9L526.8,144.8L527.3,146.8L527.8,144.4L528.3,144.7L528.8,146.2L529.3,144.3L529.8,144.8L530.3,147.8L530.8,147.4L531.3,146.1L531.8,145.5L532.3,143.5L532.8,146.0L533.3,145.2L533.8,145.4L534.3,144.3L534.8,145.1L535.3,144.8L535.8,145.6L536.3,147.4L536.8,145.7L537.3,142.5L537.8,143.6L538.3,142.6L538.8,143.9L539.3,146.0" fill="none" stroke="#E31B23" stroke-width="0.8" stroke-linejoin="round" stroke-linecap="round"/>
<path d="M311.3,98.3L311.5,97.4L311.7,98.1L311.9,97.1L312.1,96.5L312.3,96.5L312.5,96.9L312.7,98.9L312.9,96.4L313.1,98.6L313.3,98.7L313.5,97.3L313.7,97.3L313.9,96.8L314.1,97.2L314.3,97.8L314.5,97.2L314.7,98.0L314.9,98.1L315.1,97.3L315.3,97.2L315.5,96.8L315.7,97.2L315.9,95.8L316.1,97.1L316.3,96.9L316.5,95.9L316.7,98.5L316.9,95.7L317.1,95.7L317.3,96.7L317.5,94.6L317.7,95.6L317.9,94.9L318.1,95.3L318.3,96.0L318.5,96.4L318.7,97.0L318.9,96.7L319.1,97.0L319.3,96.4L319.5,95.4L319.7,96.8L319.9,95.3L320.1,95.1L320.3,97.0L320.5,96.2L320.7,95.7L320.9,96.1L321.1,96.2L321.3,94.1L321.5,95.2L321.7,94.1L321.9,95.2L322.1,94.5L322.3,96.2L322.5,95.4L322.7,94.2L322.9,94.8L323.1,93.7L323.3,94.8L323.5,95.2L323.7,94.8L323.9,92.8L324.1,94.2L324.3,94.8L324.5,94.6L324.7,95.3L324.9,93.0L325.1,94.5L325.3,93.4L325.5,94.1L325.7,94.2L325.9,94.4L326.1,93.1L326.3,93.7L326.5,92.4L326.7,92.1L326.9,93.8L327.1,93.2L327.3,91.7L327.5,92.3L327.7,93.0L327.9,94.3L328.1,93.7L328.3,93.4L328.5,91.0L328.7,92.5L328.9,92.9L329.1,92.8L329.3,92.7L329.5,92.0L329.7,93.8L329.9,93.4L330.1,92.0L330.3,91.1L330.5,93.8L330.7,91.4L330.9,92.9L331.1,93.5L331.3,90.9L331.5,91.9L331.7,91.3L331.9,92.0L332.1,91.8L332.3,93.3L332.5,92.0L332.7,91.5L332.9,92.5L333.1,91.2L333.3,91.1L333.5,93.5L333.7,90.7L333.9,91.0L334.1,91.5L334.3,90.5L334.5,89.6L334.7,92.5L334.9,90.9L335.1,91.1L335.3,91.3L335.5,90.8L335.7,90.7L335.9,91.9L336.1,93.9L336.3,92.5L336.5,92.5L336.7,90.6L336.9,91.9L337.1,90.9L337.3,92.8L337.5,91.9L337.7,92.2L337.9,92.1L338.1,91.7L338.3,91.0L338.5,92.9L338.7,91.2L338.9,91.5L339.1,92.4L339.3,92.1L339.5,93.1L339.7,93.8L339.9,93.3L340.1,93.3L340.3,93.3L340.5,94.2L340.7,91.9L340.9,94.0L341.1,93.0L341.3,92.9L341.5,94.1L341.7,93.9L341.9,94.9L342.1,95.6L342.3,92.6L342.5,94.8L342.7,96.8L342.9,96.0L343.1,96.7L343.3,95.7L343.5,94.5L343.7,94.9L343.9,96.8L344.1,97.2L344.3,95.8L344.5,96.4L344.7,97.1L344.9,95.5L345.1,96.9L345.3,98.9L345.5,99.6L345.7,97.7L345.9,99.6L346.1,97.7L346.3,97.6L346.5,96.5L346.7,99.6L346.9,98.6L347.1,101.3L347.3,99.7L347.5,99.8L347.7,98.2L347.9,101.4L348.1,100.0L348.3,100.4L348.5,98.8L348.7,101.9L348.9,102.2L349.1,101.0L349.3,101.9L349.5,102.4L349.7,103.2L349.9,102.7L350.1,104.4L350.3,102.9L350.5,102.8L350.7,103.2L350.9,101.7L351.1,103.5L351.3,105.4L351.5,105.0L351.7,104.3L351.9,105.6L352.1,103.8L352.3,105.6L352.5,106.6L352.7,107.0L352.9,106.0L353.1,107.8L353.3,108.9L353.5,107.1L353.7,108.4L353.9,106.6L354.1,106.5L354.3,109.1L354.5,108.8L354.7,109.2L354.9,108.8L355.1,109.3L355.3,110.5L355.5,111.6L355.7,110.1L355.9,109.0L356.1,111.9L356.3,111.5L356.5,111.8L356.7,111.6L356.9,113.8L357.1,112.0L357.3,112.6L357.5,110.7L357.7,112.1L357.9,112.3L358.1,113.1L358.3,113.7L358.5,112.9L358.7,115.4L358.9,113.1L359.1,113.9L359.3,114.8L359.5,113.7L359.7,115.5L359.9,115.8L360.1,115.2L360.3,117.4L360.5,116.0L360.7,116.4L360.9,115.5L361.1,115.1L361.3,116.3L361.5,116.8L361.7,116.9L361.9,118.2L362.1,115.5L362.3,116.9L362.5,116.5L362.7,119.5L362.9,118.0L363.1,118.3L363.3,117.9L363.5,119.9L363.7,118.9L363.9,119.7L364.1,117.8L364.3,120.9L364.5,120.4L364.7,120.7L364.9,121.5L365.1,120.4L365.3,120.6L365.5,121.6L365.7,121.5L365.9,121.0L366.1,121.5L366.3,121.1L366.5,122.4L366.7,122.8L366.9,122.1L367.1,124.0L367.3,121.0L367.5,122.4L367.7,124.3L367.9,122.5L368.1,121.6L368.3,124.5L368.5,123.9L368.7,122.5L368.9,124.4L369.1,122.9L369.3,122.8L369.5,124.0L369.7,123.8L369.9,123.4L370.1,124.2L370.3,123.8L370.5,124.9L370.7,125.0L370.9,125.8L371.1,124.9L371.3,124.2L371.5,124.4L371.7,125.5L371.9,127.2L372.1,126.7L372.3,125.5L372.5,127.0L372.7,125.3L372.9,127.4L373.1,126.2L373.3,127.4L373.5,127.4L373.7,126.7L373.9,127.4L374.1,126.2L374.3,127.2L374.5,128.4L374.7,131.2L374.9,128.3L375.1,127.9L375.3,127.0L375.5,129.0L375.7,126.7L375.9,127.6L376.1,128.7L376.3,127.4L376.5,130.0L376.7,129.8L376.9,128.4L377.1,128.5L377.3,127.9L377.5,128.0L377.7,129.7L377.9,130.0L378.1,129.9L378.3,129.9L378.5,129.3L378.7,130.2L378.9,128.7L379.1,130.1L379.3,131.6L379.5,131.5L379.7,130.0L379.9,130.2L380.1,131.9L380.3,132.4L380.5,129.5L380.7,130.6L380.9,131.3L381.1,132.2L381.3,130.5L381.5,131.9L381.7,131.1L381.9,133.6L382.1,132.0L382.3,131.5L382.5,131.4L382.7,132.8L382.9,132.5L383.1,131.0L383.3,132.2L383.5,130.9L383.7,131.5L383.9,131.0L384.1,131.1L384.3,131.7L384.5,131.5L384.7,132.9L384.9,133.2L385.1,132.3L385.3,131.6L385.5,133.3L385.7,130.8L385.9,131.0L386.1,133.4L386.3,133.4L386.5,133.7L386.7,132.7L386.9,131.8L387.1,132.5L387.3,133.5L387.5,132.3L387.7,132.4L387.9,131.8L388.1,132.1L388.3,133.9L388.5,133.6L388.7,132.2L388.9,132.3L389.1,132.8L389.3,133.8L389.5,132.3L389.7,133.2L389.9,131.5L390.1,132.3L390.3,133.8L390.5,134.3L390.7,132.5L390.9,132.8L391.1,134.3L391.3,133.2L391.5,133.1L391.7,134.1L391.9,133.9L392.1,134.7L392.3,134.4L392.5,133.2L392.7,133.7L392.9,133.8L393.1,132.6L393.3,133.0L393.5,134.8L393.7,132.5L393.9,134.8L394.1,134.2L394.3,133.9L394.5,134.5L394.7,134.5L394.9,135.2L395.1,133.7L395.3,133.9L395.5,133.9L395.7,135.9L395.9,135.1L396.1,133.4L396.3,134.0L396.5,133.7L396.7,134.3L396.9,134.6L397.1,136.5L397.3,132.8L397.5,135.4L397.7,134.9L397.9,133.9L398.1,134.4L398.3,134.1L398.5,134.6L398.7,135.5L398.9,133.3L399.1,135.9L399.3,134.4L399.5,136.1L399.7,135.1L399.9,135.9L400.1,135.3L400.3,135.8L400.5,134.9L400.7,134.1L400.9,135.5L401.1,135.6L401.3,136.9L401.5,133.2L401.7,134.8L401.9,136.0L402.1,133.9L402.3,134.9L402.5,137.0L402.7,136.4L402.9,134.4L403.1,136.5L403.3,136.3L403.5,136.0L403.7,135.6L403.9,135.5L404.1,134.6L404.3,134.9L404.5,136.1L404.7,135.6L404.9,137.1L405.1,135.2L405.3,133.4L405.5,135.2L405.7,135.8L405.9,136.0L406.1,135.7L406.3,134.9L406.5,137.0L406.7,135.1L406.9,136.4L407.1,135.5L407.3,134.7L407.5,137.1L407.7,133.6L407.9,135.2L408.1,136.4L408.3,135.7L408.5,136.7L408.7,136.0L408.9,135.7L409.1,138.1L409.3,136.0L409.5,136.1L409.7,135.3L409.9,135.6L410.1,136.9L410.3,136.9L410.5,136.4L410.7,135.8L410.9,137.1L411.1,135.0L411.3,136.3L411.5,136.4L411.7,135.9L411.9,136.8L412.1,136.2L412.3,136.1L412.5,138.5L412.7,137.6L412.9,138.0L413.1,137.0L413.3,137.9L413.5,137.8L413.7,138.2L413.9,139.3L414.1,137.0L414.3,137.5L414.5,137.2L414.7,134.2L414.9,136.1L415.1,137.4L415.3,138.0L415.5,137.0L415.7,138.6L415.9,138.7L416.1,137.3L416.3,139.0L416.5,139.3L416.7,138.2L416.9,136.9L417.1,139.2L417.3,137.7L417.5,137.6L417.7,138.1L417.9,137.5L418.1,139.0L418.3,138.8L418.5,139.2L418.7,138.7L418.9,137.5L419.1,138.1L419.3,139.1L419.5,137.9L419.7,141.0L419.9,138.2L420.1,137.9L420.3,139.5L420.5,139.2L420.7,138.5L420.9,138.3L421.1,139.0L421.3,139.4L421.5,139.3L421.7,138.4L421.9,139.1L422.1,139.5L422.3,139.5L422.5,136.0L422.7,138.1L422.9,138.2L423.1,138.7L423.3,139.1L423.5,139.8L423.7,139.6L423.9,138.9L424.1,139.1L424.3,140.7L424.5,138.6L424.7,139.5L424.9,140.6L425.1,139.6L425.3,137.4L425.5,139.6L425.7,139.0L425.9,139.3L426.1,140.3L426.3,139.8L426.5,139.2L426.7,140.3L426.9,139.9L427.1,139.6L427.3,139.8L427.5,139.8L427.7,139.3L427.9,139.2L428.1,139.7L428.3,138.8L428.5,138.6L428.7,140.9L428.9,139.5L429.1,139.8L429.3,139.7L429.5,139.8L429.7,139.9L429.9,139.9L430.1,139.2L430.3,140.7L430.5,139.3L430.7,140.9L430.9,138.2L431.1,139.0L431.3,140.9L431.5,139.9L431.7,139.4L431.9,140.4L432.1,139.1L432.3,140.2L432.5,138.1L432.7,139.7L432.9,139.6L433.1,140.6L433.3,141.0L433.5,139.4L433.7,141.7L433.9,139.7L434.1,138.4L434.3,138.1L434.5,141.7L434.7,140.2L434.9,139.7L435.1,139.6L435.3,139.4L435.5,141.6L435.7,140.3L435.9,142.0L436.1,140.2L436.3,138.3L436.5,141.2L436.7,140.1L436.9,140.2L437.1,141.9L437.3,140.2L437.5,141.5L437.7,140.5L437.9,139.8L438.1,141.0L438.3,140.0L438.5,141.7L438.7,141.4L438.9,140.7L439.1,141.2L439.3,141.1L439.5,140.4L439.7,141.5L439.9,140.5L440.1,141.2L440.3,139.8L440.5,140.8L440.7,141.1L440.9,140.0L441.1,140.4L441.3,140.3L441.5,141.5L441.7,140.2L441.9,141.2L442.1,142.2L442.3,141.2L442.5,139.4L442.7,141.0L442.9,141.9L443.1,140.7L443.3,142.0L443.5,141.5L443.7,141.4L443.9,140.8L444.1,140.6L444.3,140.8L444.5,141.1L444.7,141.6L444.9,141.5L445.1,140.9L445.3,141.2L445.5,141.5L445.7,139.7L445.9,140.5L446.1,140.5L446.3,141.1L446.5,141.0L446.7,141.0L446.9,140.5L447.1,141.9L447.3,141.6L447.5,139.9L447.7,141.4L447.9,140.4L448.1,143.0L448.3,141.0L448.5,141.1L448.7,141.6L448.9,141.3L449.1,141.5L449.3,142.9L449.5,141.8L449.7,142.3L449.9,142.6L450.1,140.7L450.3,143.2L450.5,142.3L450.7,142.5L450.9,140.9L451.1,142.5L451.3,142.1L451.5,141.3L451.7,143.8L451.9,142.3L452.1,141.6L452.3,142.0L452.5,142.7L452.7,142.9L452.9,142.4L453.1,143.0L453.3,143.3L453.5,140.9L453.7,141.6L453.9,141.2L454.1,142.1L454.3,143.4L454.5,142.7L454.7,141.2L454.9,141.8L455.1,143.1L455.3,141.7L455.5,142.1L455.7,142.5L455.9,140.6L456.1,142.9L456.3,142.6L456.5,142.8L456.7,141.4L456.9,141.6L457.1,141.8L457.3,142.6L457.5,142.4L457.7,142.5L457.9,144.0L458.1,143.6L458.3,141.8L458.5,141.9L458.7,144.0L458.9,142.2L459.1,143.8L459.3,144.0L459.5,142.1L459.7,142.3L459.9,142.7L460.1,141.8L460.3,141.7L460.5,142.3L460.7,143.4L460.9,142.3L461.1,142.5L461.3,142.3L461.5,141.5L461.7,144.1L461.9,140.6L462.1,142.2L462.3,143.3L462.5,141.5L462.7,143.4L462.9,144.0L463.1,142.1L463.3,143.1L463.5,141.9L463.7,143.4L463.9,143.0L464.1,143.1L464.3,144.2L464.5,143.4L464.7,144.2L464.9,143.5L465.1,141.9L465.3,143.2L465.5,143.5L465.7,141.7L465.9,144.2L466.1,143.1L466.3,143.4L466.5,142.3L466.7,143.2L466.9,143.4L467.1,142.8L467.3,143.2L467.5,141.2L467.7,144.4L467.9,142.2L468.1,141.2L468.3,142.3L468.5,142.5L468.7,143.7L468.9,142.4L469.1,143.5L469.3,142.4L469.5,145.2L469.7,143.8L469.9,145.0L470.1,142.4L470.3,143.9L470.5,142.5L470.7,143.9L470.9,144.0L471.1,141.9L471.3,142.3L471.5,142.3L471.7,142.0L471.9,142.7L472.1,142.5L472.3,142.1L472.5,143.5L472.7,143.9L472.9,142.3L473.1,143.0L473.3,143.5L473.5,143.3L473.7,142.9L473.9,144.2L474.1,144.3L474.3,144.1L474.5,143.3L474.7,145.3L474.9,145.1L475.1,143.2L475.3,143.5L475.5,144.7L475.7,142.9L475.9,144.0L476.1,143.7L476.3,143.0L476.5,143.4L476.7,142.2L476.9,143.2L477.1,141.9L477.3,145.7L477.5,145.0L477.7,144.8L477.9,144.0L478.1,144.6L478.3,144.9L478.5,144.6L478.7,144.6L478.9,142.9L479.1,144.1L479.3,143.3L479.5,142.7L479.7,142.8L479.9,144.2L480.1,144.7L480.3,142.6L480.5,145.4L480.7,145.1L480.9,143.5L481.1,143.4L481.3,143.8L481.5,144.7L481.7,143.5L481.9,142.9L482.1,144.2L482.3,142.0L482.5,144.0L482.7,144.9L482.9,144.2L483.1,144.6L483.3,144.4L483.5,144.6L483.7,144.1L483.9,143.2L484.1,143.8L484.3,143.9L484.5,145.1L484.7,145.4L484.9,144.4L485.1,143.3L485.3,143.3L485.5,143.8L485.7,145.3L485.9,144.3L486.1,144.0L486.3,143.3L486.5,144.8L486.7,144.3L486.9,144.0L487.1,144.2L487.3,145.6L487.5,143.9L487.7,145.6L487.9,145.2L488.1,144.1L488.3,144.9L488.5,144.0L488.7,143.4L488.9,143.9L489.1,143.3L489.3,144.6L489.5,144.2L489.7,144.7L489.9,144.9L490.1,141.4L490.3,144.4L490.5,142.6L490.7,144.3L490.9,143.4L491.1,144.3L491.3,145.4L491.5,142.7L491.7,144.4L491.9,144.1L492.1,142.5L492.3,144.8L492.5,144.3L492.7,143.8L492.9,143.6L493.1,147.1L493.3,143.9L493.5,142.6L493.7,143.4L493.9,143.9L494.1,143.9L494.3,144.2L494.5,143.4L494.7,144.8L494.9,143.9L495.1,143.1L495.3,143.6L495.5,144.0L495.7,145.1L495.9,144.8L496.1,144.0L496.3,144.4L496.5,144.6L496.7,146.2L496.9,143.8L497.1,144.8L497.3,145.0L497.5,143.5L497.7,144.6L497.9,144.5L498.1,144.0L498.3,144.9L498.5,145.3L498.7,145.4L498.9,144.3L499.1,144.6L499.3,146.6L499.5,143.5L499.7,144.7L499.9,145.3L500.1,144.6L500.3,145.1L500.5,144.6L500.7,145.2L500.9,145.6L501.1,144.3L501.3,144.7L501.5,144.5L501.7,144.1L501.9,144.5L502.1,143.5L502.3,145.2L502.5,146.1L502.7,146.1L502.9,145.7L503.1,143.7L503.3,145.9L503.5,143.9L503.7,144.5L503.9,146.2L504.1,143.6L504.3,145.3L504.5,144.8L504.7,144.5L504.9,143.8L505.1,145.0L505.3,144.2L505.5,145.6L505.7,145.7L505.9,143.4L506.1,144.2L506.3,144.4L506.5,143.6L506.7,143.6L506.9,144.7L507.1,144.5L507.3,143.2L507.5,144.2L507.7,145.1L507.9,143.6L508.1,143.9L508.3,146.1L508.5,145.9L508.7,143.2L508.9,143.5L509.1,145.1L509.3,143.6L509.5,144.5L509.7,144.3L509.9,145.2L510.1,142.5L510.3,142.8L510.5,143.6L510.7,145.7L510.9,144.6L511.1,143.2L511.3,145.2L511.5,145.4L511.7,144.6L511.9,144.5L512.1,145.2L512.3,145.9L512.5,144.9L512.7,145.3L512.9,144.8L513.1,144.5L513.3,144.0L513.5,145.1L513.7,144.6L513.9,144.6L514.1,145.7L514.3,145.3L514.5,145.6L514.7,143.4L514.9,145.4L515.1,144.3L515.3,144.1L515.5,144.1L515.7,146.0L515.9,145.6L516.1,144.2L516.3,143.9L516.5,144.9L516.7,144.5L516.9,146.4L517.1,143.6L517.3,143.3L517.5,144.7L517.7,144.9L517.9,145.0L518.1,145.6L518.3,146.8L518.5,144.6L518.7,144.5L518.9,143.4L519.1,145.2L519.3,145.7L519.5,144.7L519.7,146.0L519.9,145.0L520.1,146.3L520.3,145.3L520.5,144.0L520.7,144.4L520.9,143.6L521.1,143.4L521.3,145.2L521.5,145.8L521.7,146.8L521.9,145.0L522.1,144.8L522.3,144.0L522.5,145.9L522.7,145.4L522.9,144.5L523.1,145.6L523.3,145.5L523.5,143.3L523.7,145.7L523.9,145.2L524.1,144.7L524.3,144.7L524.5,146.6L524.7,146.4L524.9,146.7L525.1,144.0L525.3,144.5L525.5,145.9L525.7,144.0L525.9,144.4L526.1,143.5L526.3,146.7L526.5,146.0L526.7,145.5L526.9,145.3L527.1,144.7L527.3,144.7L527.5,145.6L527.7,144.5L527.9,146.2L528.1,144.7L528.3,144.3L528.5,146.3L528.7,145.0L528.9,145.6L529.1,144.7L529.3,143.1L529.5,145.6L529.7,143.9L529.9,146.1L530.1,143.7L530.3,143.5L530.5,145.4L530.7,145.5L530.9,145.2L531.1,144.0L531.3,145.9L531.5,143.8L531.7,144.7L531.9,144.4L532.1,144.8L532.3,145.9L532.5,144.6L532.7,145.7L532.9,145.8L533.1,143.6L533.3,144.1L533.5,144.8L533.7,144.6L533.9,145.4L534.1,143.4L534.3,145.8L534.5,145.8L534.7,145.0L534.9,143.9L535.1,145.2L535.3,144.7L535.5,145.7L535.7,145.1L535.9,145.8L536.1,144.8L536.3,146.5L536.5,143.1L536.7,144.3L536.9,145.6L537.1,143.8L537.3,145.9L537.5,144.1L537.7,145.3L537.9,144.4L538.1,144.8L538.3,145.4L538.5,145.1L538.7,144.9L538.9,147.1L539.1,145.2L539.3,144.3L539.5,146.0" fill="none" stroke="#E31B23" stroke-width="1.4" stroke-linejoin="round" stroke-linecap="round"/>
<path d="M311.3,156.2L311.5,156.8L311.7,157.7L311.9,153.0L312.1,156.3L312.3,156.4L312.5,154.3L312.7,154.7L312.9,149.1L313.1,153.1L313.3,157.1L313.5,150.9L313.7,153.0L313.9,154.3L314.1,154.7L314.3,156.4L314.5,150.6L314.7,153.6L314.9,154.9L315.1,151.1L315.3,153.2L315.5,156.4L315.7,155.3L315.9,153.9L316.1,148.5L316.3,152.6L316.5,153.4L316.7,152.2L316.9,152.5L317.1,157.8L317.3,152.1L317.5,150.7L317.7,152.7L317.9,151.7L318.1,151.6L318.3,151.9L318.5,153.3L318.7,152.3L318.9,149.8L319.1,151.5L319.3,152.5L319.5,150.8L319.7,153.4L319.9,152.7L320.1,149.6L320.3,151.8L320.5,154.5L320.7,153.7L320.9,150.8L321.1,152.4L321.3,149.6L321.5,148.2L321.7,151.5L321.9,150.9L322.1,151.3L322.3,150.2L322.5,150.7L322.7,149.2L322.9,150.8L323.1,151.3L323.3,149.7L323.5,151.1L323.7,146.6L323.9,148.2L324.1,151.9L324.3,152.4L324.5,149.7L324.7,149.0L324.9,147.0L325.1,149.6L325.3,150.3L325.5,146.3L325.7,149.7L325.9,149.5L326.1,149.4L326.3,146.6L326.5,149.4L326.7,145.8L326.9,150.8L327.1,148.5L327.3,146.2L327.5,150.4L327.7,150.0L327.9,146.9L328.1,151.7L328.3,146.1L328.5,148.3L328.7,149.7L328.9,143.8L329.1,149.3L329.3,147.4L329.5,147.4L329.7,145.5L329.9,147.9L330.1,145.3L330.3,145.5L330.5,146.3L330.7,144.9L330.9,149.6L331.1,144.6L331.3,145.5L331.5,146.2L331.7,146.7L331.9,148.0L332.1,148.0L332.3,146.0L332.5,145.8L332.7,146.4L332.9,147.7L333.1,147.5L333.3,145.3L333.5,142.7L333.7,149.8L333.9,147.7L334.1,146.5L334.3,146.6L334.5,145.1L334.7,144.2L334.9,145.3L335.1,145.5L335.3,144.8L335.5,143.3L335.7,145.2L335.9,146.7L336.1,144.9L336.3,145.8L336.5,142.2L336.7,145.3L336.9,145.5L337.1,143.6L337.3,142.8L337.5,146.4L337.7,144.4L337.9,146.6L338.1,145.1L338.3,146.9L338.5,145.2L338.7,143.3L338.9,145.7L339.1,145.4L339.3,147.1L339.5,145.2L339.7,145.4L339.9,147.6L340.1,148.1L340.3,147.5L340.5,148.0L340.7,147.1L340.9,147.7L341.1,147.9L341.3,147.2L341.5,146.7L341.7,146.9L341.9,150.8L342.1,146.8L342.3,146.4L342.5,146.3L342.7,146.9L342.9,147.5L343.1,145.2L343.3,143.9L343.5,147.8L343.7,144.7L343.9,147.9L344.1,147.8L344.3,149.6L344.5,150.6L344.7,148.4L344.9,146.9L345.1,146.0L345.3,146.7L345.5,148.2L345.7,144.7L345.9,148.4L346.1,148.4L346.3,149.6L346.5,148.0L346.7,148.9L346.9,147.5L347.1,148.1L347.3,146.0L347.5,149.3L347.7,151.9L347.9,149.7L348.1,150.1L348.3,148.0L348.5,152.2L348.7,148.6L348.9,151.4L349.1,150.4L349.3,148.7L349.5,152.3L349.7,150.7L349.9,151.2L350.1,151.8L350.3,151.1L350.5,150.7L350.7,152.3L350.9,151.0L351.1,152.0L351.3,150.9L351.5,149.7L351.7,151.2L351.9,151.7L352.1,152.7L352.3,154.9L352.5,150.2L352.7,153.5L352.9,149.7L353.1,151.8L353.3,152.9L353.5,150.1L353.7,150.9L353.9,154.5L354.1,154.6L354.3,154.4L354.5,153.4L354.7,158.6L354.9,154.8L355.1,153.8L355.3,158.2L355.5,156.6L355.7,155.0L355.9,157.9L356.1,156.3L356.3,157.2L356.5,156.7L356.7,154.7L356.9,158.3L357.1,157.0L357.3,155.2L357.5,155.8L357.7,158.9L357.9,156.8L358.1,157.6L358.3,158.8L358.5,158.1L358.7,155.4L358.9,159.3L359.1,160.0L359.3,160.0L359.5,161.4L359.7,159.5L359.9,160.3L360.1,161.8L360.3,158.8L360.5,162.4L360.7,162.6L360.9,161.1L361.1,163.0L361.3,161.5L361.5,158.7L361.7,162.3L361.9,161.1L362.1,161.3L362.3,161.0L362.5,163.2L362.7,162.0L362.9,160.0L363.1,162.2L363.3,162.7L363.5,160.4L363.7,161.0L363.9,161.2L364.1,160.9L364.3,162.7L364.5,164.0L364.7,165.6L364.9,164.5L365.1,164.3L365.3,164.6L365.5,165.1L365.7,162.3L365.9,164.2L366.1,163.7L366.3,163.1L366.5,162.6L366.7,162.6L366.9,163.2L367.1,161.6L367.3,164.7L367.5,163.9L367.7,164.2L367.9,164.7L368.1,165.5L368.3,163.4L368.5,164.3L368.7,161.8L368.9,160.9L369.1,161.5L369.3,167.5L369.5,161.9L369.7,165.9L369.9,167.7L370.1,164.5L370.3,168.1L370.5,168.6L370.7,167.2L370.9,169.7L371.1,166.8L371.3,164.6L371.5,166.8L371.7,165.3L371.9,163.9L372.1,164.0L372.3,170.2L372.5,165.4L372.7,166.4L372.9,165.4L373.1,166.8L373.3,166.3L373.5,166.1L373.7,164.8L373.9,164.5L374.1,165.7L374.3,167.6L374.5,170.7L374.7,169.0L374.9,170.4L375.1,168.2L375.3,167.3L375.5,165.2L375.7,167.6L375.9,164.0L376.1,167.2L376.3,170.5L376.5,168.4L376.7,169.8L376.9,167.3L377.1,165.7L377.3,167.3L377.5,167.5L377.7,170.3L377.9,171.6L378.1,167.1L378.3,167.8L378.5,168.2L378.7,167.9L378.9,166.5L379.1,168.8L379.3,169.3L379.5,169.4L379.7,166.8L379.9,168.7L380.1,166.0L380.3,170.5L380.5,167.3L380.7,168.6L380.9,168.4L381.1,168.2L381.3,167.5L381.5,166.3L381.7,172.3L381.9,169.9L382.1,169.9L382.3,173.1L382.5,169.4L382.7,170.6L382.9,169.7L383.1,171.8L383.3,170.6L383.5,170.4L383.7,169.4L383.9,170.4L384.1,172.0L384.3,166.5L384.5,169.9L384.7,169.4L384.9,169.7L385.1,166.9L385.3,171.5L385.5,168.9L385.7,170.0L385.9,169.6L386.1,167.6L386.3,169.7L386.5,167.4L386.7,169.0L386.9,170.1L387.1,170.7L387.3,170.8L387.5,170.5L387.7,174.5L387.9,171.6L388.1,168.8L388.3,169.9L388.5,169.9L388.7,170.7L388.9,170.1L389.1,169.7L389.3,174.0L389.5,171.3L389.7,170.7L389.9,170.9L390.1,171.0L390.3,173.7L390.5,172.2L390.7,173.4L390.9,166.2L391.1,172.1L391.3,173.4L391.5,175.0L391.7,171.7L391.9,168.8L392.1,172.7L392.3,170.7L392.5,168.8L392.7,170.8L392.9,173.7L393.1,174.0L393.3,173.2L393.5,170.2L393.7,176.3L393.9,170.1L394.1,172.0L394.3,169.7L394.5,174.4L394.7,173.0L394.9,173.8L395.1,172.4L395.3,172.2L395.5,172.6L395.7,169.2L395.9,174.1L396.1,174.0L396.3,171.8L396.5,172.5L396.7,173.1L396.9,175.3L397.1,173.3L397.3,172.7L397.5,171.8L397.7,170.2L397.9,171.7L398.1,172.9L398.3,172.4L398.5,173.0L398.7,174.1L398.9,173.6L399.1,173.4L399.3,174.1L399.5,173.3L399.7,173.0L399.9,173.8L400.1,170.1L400.3,175.2L400.5,170.9L400.7,174.6L400.9,173.2L401.1,175.1L401.3,173.3L401.5,171.7L401.7,175.1L401.9,173.6L402.1,173.5L402.3,173.5L402.5,175.1L402.7,174.8L402.9,173.8L403.1,170.8L403.3,172.8L403.5,173.7L403.7,176.6L403.9,174.2L404.1,173.4L404.3,175.7L404.5,173.5L404.7,173.6L404.9,174.0L405.1,171.2L405.3,175.4L405.5,174.5L405.7,173.3L405.9,171.9L406.1,174.2L406.3,176.3L406.5,172.8L406.7,172.2L406.9,174.7L407.1,171.3L407.3,170.3L407.5,173.3L407.7,172.9L407.9,173.7L408.1,173.2L408.3,174.8L408.5,173.9L408.7,173.2L408.9,173.5L409.1,175.4L409.3,176.0L409.5,175.9L409.7,175.6L409.9,168.8L410.1,172.8L410.3,174.0L410.5,174.9L410.7,171.8L410.9,177.0L411.1,175.1L411.3,173.6L411.5,175.0L411.7,174.1L411.9,173.4L412.1,175.6L412.3,174.0L412.5,172.4L412.7,173.8L412.9,174.7L413.1,173.1L413.3,177.1L413.5,173.1L413.7,178.0L413.9,176.6L414.1,173.5L414.3,175.3L414.5,177.1L414.7,174.8L414.9,173.2L415.1,175.4L415.3,178.6L415.5,172.8L415.7,176.3L415.9,175.4L416.1,175.2L416.3,174.8L416.5,174.9L416.7,177.2L416.9,176.5L417.1,173.8L417.3,178.2L417.5,173.4L417.7,176.8L417.9,176.0L418.1,177.7L418.3,176.3L418.5,177.6L418.7,175.8L418.9,177.5L419.1,176.5L419.3,179.6L419.5,174.8L419.7,178.0L419.9,176.8L420.1,176.3L420.3,175.1L420.5,176.9L420.7,173.6L420.9,173.9L421.1,177.4L421.3,173.6L421.5,178.7L421.7,175.9L421.9,176.8L422.1,176.5L422.3,177.1L422.5,176.0L422.7,175.9L422.9,176.3L423.1,178.4L423.3,178.5L423.5,178.8L423.7,177.3L423.9,176.4L424.1,173.9L424.3,177.9L424.5,178.3L424.7,176.2L424.9,178.3L425.1,179.1L425.3,177.2L425.5,178.8L425.7,177.6L425.9,174.2L426.1,176.3L426.3,176.5L426.5,178.1L426.7,175.8L426.9,176.6L427.1,175.7L427.3,177.3L427.5,177.5L427.7,179.1L427.9,178.8L428.1,177.8L428.3,178.0L428.5,177.8L428.7,177.8L428.9,180.3L429.1,173.5L429.3,177.4L429.5,178.3L429.7,179.7L429.9,176.0L430.1,178.5L430.3,179.4L430.5,177.2L430.7,174.7L430.9,177.4L431.1,176.0L431.3,179.2L431.5,176.7L431.7,181.2L431.9,178.4L432.1,176.9L432.3,177.4L432.5,176.4L432.7,179.0L432.9,180.9L433.1,178.0L433.3,180.0L433.5,176.9L433.7,179.0L433.9,182.5L434.1,176.2L434.3,180.7L434.5,180.7L434.7,175.5L434.9,176.3L435.1,177.1L435.3,180.5L435.5,178.1L435.7,178.6L435.9,180.1L436.1,179.2L436.3,179.4L436.5,178.5L436.7,181.0L436.9,177.8L437.1,182.0L437.3,178.6L437.5,177.8L437.7,180.3L437.9,180.0L438.1,175.9L438.3,179.7L438.5,177.1L438.7,178.0L438.9,180.8L439.1,178.0L439.3,180.1L439.5,178.9L439.7,182.8L439.9,179.4L440.1,177.6L440.3,177.7L440.5,178.1L440.7,179.9L440.9,179.7L441.1,181.4L441.3,180.0L441.5,180.0L441.7,180.4L441.9,179.6L442.1,180.3L442.3,181.2L442.5,181.2L442.7,179.0L442.9,176.9L443.1,178.6L443.3,180.5L443.5,175.8L443.7,179.2L443.9,180.8L444.1,179.1L444.3,178.2L444.5,183.1L444.7,182.5L444.9,179.7L445.1,182.4L445.3,182.4L445.5,178.3L445.7,184.8L445.9,178.7L446.1,179.8L446.3,178.4L446.5,180.4L446.7,178.1L446.9,180.3L447.1,182.2L447.3,180.7L447.5,180.0L447.7,183.1L447.9,178.9L448.1,182.1L448.3,180.0L448.5,180.9L448.7,180.6L448.9,180.8L449.1,180.5L449.3,179.3L449.5,179.6L449.7,181.4L449.9,180.5L450.1,178.7L450.3,179.5L450.5,179.5L450.7,180.6L450.9,181.0L451.1,180.9L451.3,179.6L451.5,180.8L451.7,178.5L451.9,175.9L452.1,180.7L452.3,178.0L452.5,179.3L452.7,178.8L452.9,182.0L453.1,178.9L453.3,181.4L453.5,180.1L453.7,178.9L453.9,178.3L454.1,181.8L454.3,181.7L454.5,182.3L454.7,184.1L454.9,181.5L455.1,181.5L455.3,180.9L455.5,181.3L455.7,180.5L455.9,179.6L456.1,184.5L456.3,178.0L456.5,181.6L456.7,181.9L456.9,181.4L457.1,179.6L457.3,180.9L457.5,180.4L457.7,179.4L457.9,181.2L458.1,180.6L458.3,180.3L458.5,182.4L458.7,179.5L458.9,182.0L459.1,180.3L459.3,182.0L459.5,181.4L459.7,181.7L459.9,179.7L460.1,180.0L460.3,179.9L460.5,181.7L460.7,182.7L460.9,183.2L461.1,180.6L461.3,181.6L461.5,178.7L461.7,177.7L461.9,180.0L462.1,180.3L462.3,178.8L462.5,178.5L462.7,182.4L462.9,180.1L463.1,178.6L463.3,185.4L463.5,181.8L463.7,181.0L463.9,182.7L464.1,180.2L464.3,184.2L464.5,178.9L464.7,179.3L464.9,181.3L465.1,180.3L465.3,183.9L465.5,178.8L465.7,180.3L465.9,182.0L466.1,182.5L466.3,183.3L466.5,182.2L466.7,185.3L466.9,180.8L467.1,181.9L467.3,183.1L467.5,181.1L467.7,181.1L467.9,180.8L468.1,180.5L468.3,179.7L468.5,180.7L468.7,179.0L468.9,182.3L469.1,178.9L469.3,185.1L469.5,184.5L469.7,183.5L469.9,181.3L470.1,180.7L470.3,183.7L470.5,182.0L470.7,182.6L470.9,180.5L471.1,183.5L471.3,180.3L471.5,181.9L471.7,178.8L471.9,180.6L472.1,182.5L472.3,180.9L472.5,180.9L472.7,183.0L472.9,181.6L473.1,183.8L473.3,177.6L473.5,182.7L473.7,182.6L473.9,179.1L474.1,179.5L474.3,183.2L474.5,179.9L474.7,180.7L474.9,182.8L475.1,181.2L475.3,182.6L475.5,180.3L475.7,182.3L475.9,183.6L476.1,182.3L476.3,178.1L476.5,182.9L476.7,181.9L476.9,180.3L477.1,184.2L477.3,178.8L477.5,185.0L477.7,180.7L477.9,184.5L478.1,181.7L478.3,179.6L478.5,182.0L478.7,182.4L478.9,182.7L479.1,183.6L479.3,180.3L479.5,182.7L479.7,183.1L479.9,181.4L480.1,180.3L480.3,180.2L480.5,183.1L480.7,183.2L480.9,180.5L481.1,179.6L481.3,184.0L481.5,179.2L481.7,182.1L481.9,180.5L482.1,178.9L482.3,182.1L482.5,181.6L482.7,184.3L482.9,185.7L483.1,181.6L483.3,183.6L483.5,183.7L483.7,181.0L483.9,180.4L484.1,184.6L484.3,181.3L484.5,181.8L484.7,181.4L484.9,181.7L485.1,180.9L485.3,183.2L485.5,184.0L485.7,181.3L485.9,179.6L486.1,182.0L486.3,179.4L486.5,180.8L486.7,184.0L486.9,185.8L487.1,182.5L487.3,180.1L487.5,183.2L487.7,178.1L487.9,180.7L488.1,184.5L488.3,183.2L488.5,179.6L488.7,179.1L488.9,183.4L489.1,181.8L489.3,180.9L489.5,182.6L489.7,180.9L489.9,178.7L490.1,183.3L490.3,180.8L490.5,180.2L490.7,179.6L490.9,182.3L491.1,180.5L491.3,183.0L491.5,181.5L491.7,183.7L491.9,181.3L492.1,180.8L492.3,178.6L492.5,180.0L492.7,183.1L492.9,187.1L493.1,179.8L493.3,180.2L493.5,182.5L493.7,182.7L493.9,180.8L494.1,182.0L494.3,179.2L494.5,181.4L494.7,183.4L494.9,184.7L495.1,181.6L495.3,181.5L495.5,182.7L495.7,183.8L495.9,182.7L496.1,180.6L496.3,182.5L496.5,183.5L496.7,180.7L496.9,179.6L497.1,182.8L497.3,182.5L497.5,183.5L497.7,182.1L497.9,180.8L498.1,181.2L498.3,180.2L498.5,180.3L498.7,181.0L498.9,181.1L499.1,183.8L499.3,179.8L499.5,181.8L499.7,180.9L499.9,184.4L500.1,182.4L500.3,181.3L500.5,183.3L500.7,182.0L500.9,181.1L501.1,184.5L501.3,183.1L501.5,184.8L501.7,183.9L501.9,183.2L502.1,182.1L502.3,180.1L502.5,183.1L502.7,182.0L502.9,183.1L503.1,181.9L503.3,180.8L503.5,180.2L503.7,183.1L503.9,184.1L504.1,181.4L504.3,182.7L504.5,184.3L504.7,180.5L504.9,181.4L505.1,180.0L505.3,183.9L505.5,182.4L505.7,181.1L505.9,179.1L506.1,181.6L506.3,183.6L506.5,181.4L506.7,181.2L506.9,183.0L507.1,179.8L507.3,182.0L507.5,182.9L507.7,180.6L507.9,180.5L508.1,182.4L508.3,181.8L508.5,181.5L508.7,182.3L508.9,182.3L509.1,180.4L509.3,180.8L509.5,182.7L509.7,183.8L509.9,184.2L510.1,180.5L510.3,183.8L510.5,183.2L510.7,181.9L510.9,182.8L511.1,183.3L511.3,185.0L511.5,180.2L511.7,183.0L511.9,181.7L512.1,181.6L512.3,183.9L512.5,183.3L512.7,180.2L512.9,181.5L513.1,182.3L513.3,179.6L513.5,183.4L513.7,181.8L513.9,182.2L514.1,182.5L514.3,185.0L514.5,182.0L514.7,181.4L514.9,184.9L515.1,181.1L515.3,181.1L515.5,179.6L515.7,183.8L515.9,182.4L516.1,182.8L516.3,182.3L516.5,181.8L516.7,180.7L516.9,180.7L517.1,182.7L517.3,182.2L517.5,184.7L517.7,180.7L517.9,181.2L518.1,180.3L518.3,184.3L518.5,179.9L518.7,183.3L518.9,184.4L519.1,181.8L519.3,183.3L519.5,178.5L519.7,181.4L519.9,179.3L520.1,182.3L520.3,182.1L520.5,180.8L520.7,183.6L520.9,182.7L521.1,181.2L521.3,181.2L521.5,179.6L521.7,181.8L521.9,185.6L522.1,180.9L522.3,182.8L522.5,181.2L522.7,183.5L522.9,182.9L523.1,181.7L523.3,179.1L523.5,181.3L523.7,184.1L523.9,181.7L524.1,183.2L524.3,181.3L524.5,179.0L524.7,182.9L524.9,182.7L525.1,181.2L525.3,181.6L525.5,182.7L525.7,181.2L525.9,182.8L526.1,181.9L526.3,178.2L526.5,182.0L526.7,181.2L526.9,180.8L527.1,182.9L527.3,181.4L527.5,183.1L527.7,184.1L527.9,182.5L528.1,179.7L528.3,181.0L528.5,183.8L528.7,181.8L528.9,180.9L529.1,182.1L529.3,183.1L529.5,182.7L529.7,183.4L529.9,180.9L530.1,181.9L530.3,181.9L530.5,182.3L530.7,178.8L530.9,182.0L531.1,180.1L531.3,184.7L531.5,185.0L531.7,185.2L531.9,183.7L532.1,181.6L532.3,184.0L532.5,182.1L532.7,183.4L532.9,180.9L533.1,181.4L533.3,183.2L533.5,185.4L533.7,182.4L533.9,186.2L534.1,187.1L534.3,180.3L534.5,182.4L534.7,180.9L534.9,182.3L535.1,181.6L535.3,182.4L535.5,184.1L535.7,184.1L535.9,183.0L536.1,182.5L536.3,182.8L536.5,182.8L536.7,183.5L536.9,182.6L537.1,183.4L537.3,180.4L537.5,183.9L537.7,185.5L537.9,182.9L538.1,180.2L538.3,184.9L538.5,182.1L538.7,177.6L538.9,182.3L539.1,183.7L539.3,183.3L539.5,184.8" fill="none" stroke="#888888" stroke-width="0.5" stroke-linejoin="round" stroke-linecap="round" opacity="0.5"/>
<path d="M311.3,155.8L311.8,154.8L312.3,151.3L312.8,152.4L313.3,154.3L313.8,154.9L314.3,152.0L314.8,152.5L315.3,154.0L315.8,150.0L316.3,149.8L316.8,152.3L317.3,152.8L317.8,151.5L318.3,148.4L318.8,151.9L319.3,149.5L319.8,152.4L320.3,151.0L320.8,151.4L321.3,151.7L321.8,149.7L322.3,151.6L322.8,152.0L323.3,150.4L323.8,151.7L324.3,148.4L324.8,150.6L325.3,149.3L325.8,147.1L326.3,148.4L326.8,147.5L327.3,147.3L327.8,148.1L328.3,149.5L328.8,147.1L329.3,147.7L329.8,145.0L330.3,147.3L330.8,148.8L331.3,148.1L331.8,147.4L332.3,145.7L332.8,144.8L333.3,146.1L333.8,144.0L334.3,144.0L334.8,147.4L335.3,144.3L335.8,148.6L336.3,143.4L336.8,146.4L337.3,143.8L337.8,146.0L338.3,144.1L338.8,145.9L339.3,145.7L339.8,145.3L340.3,147.0L340.8,148.7L341.3,145.5L341.8,148.0L342.3,147.0L342.8,147.0L343.3,150.7L343.8,144.0L344.3,146.5L344.8,145.0L345.3,147.5L345.8,147.9L346.3,154.5L346.8,149.3L347.3,151.8L347.8,151.4L348.3,148.9L348.8,150.7L349.3,153.0L349.8,151.0L350.3,151.5L350.8,152.4L351.3,149.6L351.8,151.2L352.3,153.4L352.8,154.2L353.3,152.3L353.8,153.7L354.3,154.4L354.8,154.7L355.3,156.5L355.8,155.9L356.3,156.4L356.8,154.3L357.3,155.2L357.8,157.8L358.3,155.2L358.8,158.5L359.3,157.4L359.8,157.6L360.3,160.3L360.8,158.6L361.3,158.7L361.8,159.3L362.3,160.8L362.8,165.5L363.3,158.1L363.8,161.7L364.3,161.7L364.8,163.9L365.3,162.1L365.8,159.0L366.3,165.3L366.8,161.8L367.3,163.7L367.8,161.9L368.3,162.6L368.8,163.8L369.3,166.2L369.8,166.4L370.3,164.4L370.8,166.4L371.3,165.2L371.8,166.2L372.3,166.5L372.8,167.4L373.3,165.6L373.8,166.6L374.3,167.3L374.8,167.3L375.3,166.1L375.8,170.3L376.3,167.0L376.8,169.1L377.3,168.3L377.8,170.1L378.3,164.8L378.8,171.7L379.3,168.3L379.8,166.8L380.3,169.1L380.8,172.6L381.3,170.0L381.8,167.3L382.3,168.7L382.8,171.7L383.3,167.5L383.8,169.5L384.3,169.5L384.8,173.5L385.3,169.7L385.8,172.4L386.3,169.3L386.8,169.2L387.3,172.2L387.8,171.7L388.3,168.1L388.8,172.0L389.3,172.1L389.8,170.2L390.3,171.6L390.8,171.8L391.3,170.7L391.8,170.6L392.3,170.6L392.8,171.3L393.3,169.7L393.8,171.9L394.3,169.6L394.8,172.2L395.3,172.1L395.8,170.6L396.3,173.7L396.8,175.5L397.3,174.6L397.8,170.4L398.3,174.7L398.8,173.1L399.3,172.7L399.8,171.9L400.3,172.9L400.8,175.2L401.3,174.0L401.8,172.5L402.3,172.2L402.8,172.6L403.3,174.3L403.8,176.4L404.3,171.8L404.8,173.6L405.3,173.0L405.8,172.5L406.3,174.4L406.8,174.7L407.3,171.7L407.8,172.3L408.3,175.9L408.8,174.6L409.3,175.0L409.8,173.5L410.3,173.7L410.8,175.1L411.3,173.7L411.8,172.8L412.3,174.6L412.8,176.1L413.3,173.2L413.8,176.5L414.3,176.1L414.8,173.6L415.3,175.1L415.8,175.1L416.3,176.3L416.8,176.4L417.3,173.3L417.8,173.3L418.3,177.2L418.8,175.8L419.3,176.4L419.8,176.3L420.3,178.3L420.8,174.1L421.3,177.8L421.8,174.9L422.3,177.4L422.8,178.5L423.3,174.2L423.8,177.2L424.3,176.2L424.8,176.3L425.3,176.9L425.8,175.2L426.3,175.5L426.8,178.1L427.3,178.5L427.8,176.4L428.3,175.1L428.8,181.1L429.3,179.3L429.8,178.2L430.3,176.1L430.8,176.9L431.3,178.3L431.8,176.5L432.3,180.6L432.8,178.4L433.3,178.9L433.8,176.7L434.3,177.0L434.8,177.3L435.3,179.1L435.8,178.3L436.3,178.3L436.8,179.4L437.3,179.3L437.8,181.4L438.3,178.8L438.8,177.6L439.3,179.3L439.8,181.7L440.3,178.6L440.8,179.6L441.3,179.0L441.8,180.3L442.3,180.1L442.8,178.5L443.3,179.5L443.8,181.3L444.3,181.6L444.8,181.4L445.3,181.4L445.8,179.6L446.3,179.6L446.8,181.6L447.3,178.4L447.8,180.2L448.3,177.4L448.8,179.8L449.3,179.3L449.8,178.6L450.3,181.4L450.8,179.4L451.3,180.1L451.8,180.3L452.3,179.6L452.8,183.0L453.3,180.0L453.8,181.2L454.3,178.8L454.8,180.2L455.3,180.5L455.8,180.5L456.3,180.1L456.8,181.3L457.3,183.6L457.8,181.0L458.3,181.0L458.8,180.6L459.3,185.2L459.8,183.8L460.3,182.2L460.8,182.5L461.3,180.3L461.8,181.2L462.3,181.8L462.8,181.6L463.3,180.1L463.8,180.3L464.3,182.3L464.8,182.0L465.3,178.2L465.8,181.7L466.3,183.6L466.8,180.6L467.3,182.0L467.8,179.3L468.3,182.9L468.8,179.9L469.3,179.7L469.8,181.2L470.3,185.4L470.8,180.7L471.3,179.7L471.8,182.4L472.3,182.1L472.8,184.3L473.3,179.8L473.8,179.3L474.3,181.3L474.8,182.4L475.3,182.4L475.8,183.5L476.3,179.5L476.8,180.5L477.3,181.6L477.8,183.2L478.3,182.6L478.8,181.2L479.3,180.3L479.8,183.3L480.3,183.4L480.8,186.2L481.3,181.6L481.8,184.5L482.3,180.0L482.8,181.1L483.3,180.9L483.8,181.2L484.3,180.6L484.8,181.1L485.3,181.9L485.8,181.2L486.3,183.0L486.8,181.8L487.3,181.9L487.8,184.3L488.3,182.4L488.8,182.2L489.3,181.9L489.8,182.1L490.3,182.9L490.8,180.7L491.3,183.7L491.8,184.4L492.3,183.8L492.8,181.2L493.3,179.5L493.8,181.3L494.3,182.2L494.8,183.3L495.3,181.7L495.8,181.5L496.3,184.3L496.8,180.9L497.3,183.6L497.8,183.4L498.3,179.9L498.8,182.4L499.3,181.1L499.8,180.5L500.3,179.1L500.8,179.5L501.3,182.6L501.8,181.3L502.3,182.4L502.8,180.3L503.3,181.5L503.8,181.5L504.3,179.5L504.8,179.3L505.3,182.6L505.8,182.2L506.3,180.5L506.8,181.8L507.3,183.0L507.8,184.8L508.3,180.6L508.8,182.9L509.3,185.3L509.8,182.1L510.3,184.3L510.8,177.9L511.3,184.2L511.8,181.9L512.3,179.0L512.8,183.2L513.3,183.6L513.8,183.9L514.3,183.8L514.8,181.9L515.3,180.8L515.8,181.3L516.3,181.9L516.8,182.6L517.3,181.2L517.8,182.1L518.3,183.4L518.8,182.5L519.3,185.6L519.8,185.4L520.3,180.3L520.8,181.2L521.3,180.0L521.8,180.3L522.3,183.0L522.8,180.5L523.3,180.5L523.8,181.7L524.3,183.4L524.8,181.6L525.3,181.6L525.8,183.6L526.3,182.9L526.8,182.9L527.3,183.7L527.8,180.7L528.3,182.6L528.8,181.3L529.3,183.9L529.8,183.6L530.3,180.7L530.8,184.4L531.3,180.5L531.8,184.2L532.3,182.7L532.8,181.0L533.3,180.7L533.8,182.0L534.3,182.4L534.8,181.4L535.3,183.4L535.8,180.3L536.3,182.5L536.8,182.6L537.3,179.6L537.8,183.1L538.3,180.6L538.8,178.7L539.3,181.7" fill="none" stroke="#111111" stroke-width="0.8" stroke-linejoin="round" stroke-linecap="round"/>
<path d="M311.3,154.6L311.5,155.5L311.7,154.2L311.9,155.9L312.1,155.7L312.3,155.4L312.5,155.5L312.7,154.6L312.9,153.7L313.1,154.7L313.3,154.9L313.5,154.1L313.7,153.6L313.9,152.4L314.1,154.3L314.3,153.9L314.5,152.4L314.7,153.6L314.9,154.0L315.1,153.2L315.3,153.9L315.5,153.8L315.7,151.8L315.9,152.7L316.1,153.4L316.3,153.7L316.5,154.0L316.7,151.0L316.9,152.5L317.1,153.2L317.3,153.5L317.5,153.9L317.7,151.4L317.9,151.9L318.1,151.2L318.3,152.8L318.5,150.8L318.7,152.9L318.9,152.6L319.1,152.1L319.3,149.7L319.5,150.9L319.7,152.1L319.9,150.1L320.1,151.1L320.3,151.1L320.5,151.9L320.7,151.3L320.9,151.2L321.1,150.4L321.3,150.7L321.5,150.5L321.7,151.2L321.9,150.3L322.1,151.3L322.3,148.8L322.5,151.2L322.7,149.9L322.9,151.0L323.1,150.0L323.3,150.6L323.5,151.0L323.7,149.1L323.9,149.6L324.1,149.3L324.3,149.5L324.5,147.8L324.7,149.0L324.9,148.9L325.1,148.3L325.3,148.7L325.5,147.5L325.7,150.0L325.9,149.1L326.1,150.3L326.3,147.7L326.5,147.4L326.7,148.6L326.9,146.8L327.1,148.4L327.3,147.5L327.5,147.8L327.7,148.2L327.9,148.0L328.1,149.5L328.3,148.4L328.5,146.6L328.7,148.5L328.9,146.4L329.1,147.6L329.3,146.4L329.5,146.7L329.7,148.5L329.9,146.8L330.1,146.6L330.3,146.6L330.5,146.8L330.7,148.3L330.9,145.9L331.1,145.8L331.3,147.3L331.5,145.3L331.7,146.3L331.9,147.6L332.1,146.5L332.3,146.0L332.5,145.8L332.7,145.5L332.9,145.8L333.1,146.4L333.3,147.3L333.5,147.0L333.7,145.6L333.9,145.4L334.1,146.6L334.3,144.3L334.5,145.5L334.7,145.6L334.9,144.8L335.1,144.9L335.3,146.1L335.5,144.3L335.7,144.9L335.9,145.1L336.1,145.8L336.3,144.5L336.5,146.6L336.7,145.4L336.9,145.4L337.1,145.3L337.3,145.1L337.5,144.8L337.7,146.7L337.9,145.9L338.1,145.6L338.3,146.6L338.5,145.1L338.7,146.4L338.9,145.8L339.1,145.1L339.3,146.6L339.5,144.6L339.7,146.6L339.9,145.3L340.1,146.4L340.3,147.4L340.5,146.7L340.7,145.7L340.9,146.3L341.1,146.0L341.3,145.4L341.5,145.5L341.7,146.6L341.9,147.1L342.1,145.1L342.3,146.7L342.5,147.3L342.7,147.0L342.9,146.1L343.1,148.0L343.3,146.1L343.5,147.8L343.7,148.7L343.9,145.6L344.1,147.7L344.3,147.8L344.5,147.8L344.7,147.0L344.9,147.5L345.1,146.7L345.3,148.1L345.5,148.5L345.7,147.6L345.9,147.4L346.1,147.9L346.3,148.4L346.5,148.6L346.7,148.5L346.9,148.8L347.1,147.7L347.3,146.5L347.5,149.6L347.7,150.4L347.9,148.0L348.1,148.8L348.3,149.8L348.5,150.5L348.7,150.4L348.9,151.1L349.1,150.1L349.3,150.7L349.5,150.8L349.7,150.2L349.9,151.8L350.1,151.5L350.3,152.0L350.5,150.9L350.7,152.3L350.9,150.7L351.1,152.1L351.3,149.6L351.5,151.2L351.7,152.9L351.9,152.1L352.1,152.8L352.3,151.4L352.5,154.3L352.7,153.7L352.9,153.3L353.1,153.9L353.3,154.0L353.5,155.1L353.7,154.2L353.9,152.9L354.1,154.1L354.3,155.6L354.5,155.2L354.7,154.5L354.9,155.5L355.1,155.2L355.3,155.8L355.5,154.0L355.7,154.8L355.9,156.3L356.1,155.7L356.3,156.4L356.5,157.9L356.7,156.1L356.9,156.7L357.1,156.2L357.3,156.3L357.5,156.9L357.7,155.9L357.9,155.5L358.1,158.7L358.3,157.5L358.5,158.8L358.7,158.1L358.9,158.2L359.1,158.9L359.3,159.1L359.5,157.5L359.7,159.8L359.9,158.0L360.1,159.2L360.3,161.5L360.5,159.4L360.7,161.0L360.9,159.4L361.1,160.4L361.3,160.0L361.5,160.5L361.7,159.5L361.9,159.6L362.1,160.8L362.3,159.3L362.5,160.1L362.7,161.5L362.9,160.6L363.1,160.5L363.3,160.4L363.5,161.6L363.7,161.3L363.9,161.9L364.1,161.7L364.3,163.6L364.5,161.7L364.7,160.5L364.9,162.5L365.1,162.5L365.3,162.7L365.5,161.3L365.7,163.8L365.9,162.9L366.1,163.0L366.3,161.8L366.5,163.7L366.7,163.4L366.9,164.7L367.1,163.3L367.3,162.7L367.5,164.0L367.7,163.2L367.9,164.4L368.1,163.2L368.3,164.2L368.5,164.2L368.7,164.5L368.9,164.1L369.1,164.0L369.3,164.7L369.5,164.4L369.7,165.1L369.9,164.9L370.1,163.2L370.3,165.2L370.5,166.6L370.7,165.7L370.9,166.1L371.1,166.1L371.3,165.3L371.5,164.7L371.7,166.6L371.9,166.9L372.1,166.6L372.3,166.5L372.5,166.6L372.7,166.3L372.9,166.7L373.1,166.5L373.3,166.9L373.5,165.8L373.7,166.2L373.9,167.3L374.1,166.6L374.3,164.8L374.5,167.1L374.7,165.1L374.9,168.8L375.1,167.9L375.3,167.9L375.5,166.8L375.7,166.5L375.9,167.3L376.1,167.6L376.3,167.0L376.5,167.8L376.7,168.4L376.9,168.4L377.1,167.0L377.3,166.1L377.5,168.0L377.7,167.5L377.9,168.5L378.1,169.6L378.3,169.7L378.5,168.6L378.7,169.4L378.9,169.9L379.1,168.6L379.3,168.8L379.5,169.4L379.7,168.7L379.9,168.3L380.1,168.2L380.3,168.9L380.5,168.4L380.7,169.7L380.9,168.7L381.1,170.3L381.3,170.2L381.5,168.1L381.7,170.2L381.9,169.0L382.1,170.5L382.3,169.8L382.5,169.4L382.7,170.1L382.9,169.1L383.1,169.9L383.3,170.0L383.5,169.6L383.7,170.1L383.9,169.0L384.1,170.3L384.3,168.9L384.5,170.5L384.7,170.4L384.9,170.7L385.1,169.6L385.3,172.8L385.5,170.0L385.7,170.4L385.9,169.7L386.1,171.6L386.3,170.0L386.5,171.3L386.7,169.7L386.9,170.8L387.1,170.3L387.3,171.4L387.5,170.4L387.7,170.0L387.9,171.1L388.1,169.8L388.3,170.0L388.5,171.5L388.7,169.3L388.9,171.6L389.1,170.7L389.3,170.3L389.5,171.3L389.7,171.7L389.9,170.7L390.1,171.1L390.3,172.0L390.5,172.0L390.7,171.3L390.9,170.7L391.1,170.6L391.3,171.0L391.5,172.1L391.7,172.0L391.9,171.9L392.1,172.8L392.3,171.4L392.5,171.4L392.7,171.4L392.9,173.4L393.1,170.1L393.3,172.1L393.5,172.3L393.7,172.0L393.9,174.0L394.1,173.0L394.3,172.7L394.5,171.3L394.7,172.5L394.9,171.8L395.1,172.2L395.3,172.4L395.5,171.8L395.7,172.8L395.9,173.7L396.1,173.2L396.3,172.6L396.5,170.8L396.7,173.4L396.9,173.4L397.1,172.4L397.3,172.2L397.5,173.1L397.7,171.9L397.9,173.3L398.1,171.8L398.3,171.9L398.5,172.8L398.7,171.5L398.9,172.8L399.1,173.3L399.3,171.7L399.5,173.7L399.7,172.4L399.9,173.4L400.1,173.2L400.3,172.6L400.5,172.6L400.7,171.6L400.9,172.5L401.1,172.5L401.3,174.5L401.5,174.0L401.7,172.0L401.9,173.9L402.1,173.4L402.3,173.0L402.5,173.7L402.7,174.0L402.9,172.9L403.1,173.1L403.3,173.5L403.5,172.6L403.7,173.6L403.9,173.4L404.1,172.9L404.3,172.8L404.5,173.8L404.7,174.3L404.9,173.9L405.1,172.9L405.3,174.3L405.5,173.8L405.7,174.2L405.9,174.7L406.1,173.0L406.3,173.7L406.5,173.3L406.7,173.1L406.9,175.6L407.1,174.7L407.3,172.5L407.5,174.3L407.7,173.5L407.9,175.0L408.1,174.1L408.3,174.0L408.5,174.2L408.7,174.5L408.9,174.2L409.1,174.0L409.3,174.1L409.5,174.7L409.7,173.4L409.9,174.3L410.1,174.3L410.3,174.0L410.5,175.0L410.7,173.4L410.9,174.2L411.1,173.8L411.3,175.0L411.5,174.2L411.7,174.6L411.9,175.0L412.1,173.3L412.3,175.1L412.5,174.1L412.7,174.5L412.9,174.7L413.1,175.5L413.3,175.5L413.5,176.4L413.7,175.1L413.9,174.5L414.1,174.5L414.3,175.5L414.5,176.4L414.7,175.3L414.9,174.6L415.1,175.3L415.3,175.4L415.5,175.2L415.7,174.6L415.9,173.1L416.1,174.8L416.3,176.2L416.5,175.5L416.7,173.5L416.9,175.4L417.1,173.9L417.3,177.1L417.5,175.7L417.7,174.5L417.9,176.2L418.1,174.9L418.3,176.1L418.5,175.7L418.7,174.7L418.9,176.3L419.1,174.6L419.3,176.9L419.5,175.9L419.7,175.0L419.9,174.4L420.1,177.3L420.3,177.2L420.5,174.9L420.7,177.4L420.9,176.2L421.1,175.9L421.3,176.1L421.5,175.9L421.7,177.4L421.9,176.4L422.1,174.7L422.3,178.1L422.5,177.1L422.7,175.5L422.9,176.1L423.1,175.7L423.3,176.5L423.5,176.9L423.7,176.8L423.9,176.1L424.1,176.0L424.3,177.4L424.5,176.6L424.7,178.6L424.9,176.1L425.1,177.5L425.3,176.9L425.5,176.3L425.7,178.1L425.9,177.1L426.1,176.3L426.3,176.8L426.5,177.9L426.7,176.1L426.9,178.3L427.1,177.8L427.3,177.0L427.5,178.4L427.7,178.8L427.9,177.9L428.1,177.5L428.3,179.0L428.5,178.7L428.7,176.7L428.9,177.4L429.1,177.4L429.3,177.3L429.5,176.4L429.7,178.4L429.9,177.8L430.1,177.8L430.3,179.0L430.5,177.3L430.7,177.8L430.9,178.1L431.1,177.6L431.3,177.9L431.5,178.6L431.7,178.0L431.9,179.2L432.1,177.5L432.3,178.3L432.5,177.0L432.7,178.1L432.9,177.7L433.1,179.4L433.3,178.9L433.5,178.8L433.7,180.0L433.9,179.7L434.1,179.1L434.3,177.9L434.5,177.3L434.7,178.5L434.9,178.3L435.1,178.1L435.3,178.4L435.5,177.3L435.7,180.0L435.9,177.8L436.1,178.3L436.3,179.3L436.5,177.5L436.7,179.7L436.9,179.8L437.1,178.7L437.3,178.1L437.5,178.7L437.7,177.5L437.9,180.3L438.1,179.2L438.3,178.6L438.5,178.5L438.7,179.7L438.9,180.6L439.1,178.2L439.3,178.9L439.5,177.9L439.7,180.0L439.9,179.6L440.1,181.4L440.3,179.4L440.5,179.2L440.7,178.9L440.9,180.3L441.1,178.2L441.3,180.3L441.5,179.9L441.7,179.3L441.9,178.9L442.1,180.6L442.3,181.3L442.5,179.4L442.7,180.3L442.9,181.3L443.1,179.3L443.3,179.7L443.5,178.8L443.7,179.8L443.9,179.9L444.1,179.6L444.3,179.3L444.5,178.6L444.7,178.9L444.9,179.2L445.1,180.6L445.3,179.6L445.5,179.4L445.7,180.7L445.9,180.6L446.1,179.5L446.3,179.7L446.5,180.8L446.7,180.5L446.9,179.5L447.1,180.5L447.3,180.3L447.5,181.3L447.7,179.6L447.9,181.1L448.1,180.7L448.3,179.5L448.5,181.3L448.7,181.2L448.9,179.3L449.1,182.2L449.3,179.5L449.5,179.7L449.7,180.3L449.9,181.2L450.1,181.1L450.3,180.5L450.5,181.8L450.7,181.0L450.9,181.8L451.1,183.1L451.3,180.9L451.5,178.5L451.7,180.3L451.9,179.8L452.1,180.8L452.3,180.9L452.5,179.7L452.7,179.8L452.9,180.6L453.1,180.7L453.3,178.6L453.5,181.7L453.7,180.9L453.9,180.9L454.1,181.2L454.3,180.1L454.5,180.9L454.7,181.9L454.9,181.9L455.1,181.4L455.3,180.8L455.5,180.3L455.7,182.2L455.9,181.5L456.1,180.7L456.3,179.2L456.5,180.4L456.7,179.5L456.9,182.2L457.1,181.3L457.3,180.5L457.5,181.0L457.7,183.5L457.9,182.3L458.1,180.1L458.3,181.1L458.5,180.2L458.7,179.8L458.9,181.4L459.1,183.4L459.3,182.7L459.5,181.4L459.7,181.0L459.9,181.5L460.1,182.3L460.3,180.1L460.5,179.7L460.7,183.1L460.9,181.7L461.1,182.8L461.3,181.6L461.5,182.7L461.7,180.9L461.9,181.9L462.1,182.8L462.3,182.4L462.5,181.1L462.7,182.3L462.9,180.9L463.1,180.2L463.3,182.0L463.5,182.8L463.7,182.3L463.9,180.4L464.1,182.3L464.3,182.2L464.5,181.2L464.7,179.4L464.9,182.5L465.1,182.4L465.3,182.0L465.5,180.1L465.7,180.3L465.9,182.5L466.1,182.3L466.3,182.1L466.5,181.4L466.7,182.0L466.9,181.2L467.1,181.4L467.3,180.9L467.5,181.9L467.7,181.3L467.9,182.5L468.1,182.3L468.3,181.0L468.5,183.3L468.7,180.7L468.9,182.1L469.1,182.7L469.3,182.9L469.5,179.7L469.7,182.6L469.9,182.8L470.1,183.0L470.3,179.7L470.5,181.1L470.7,181.7L470.9,181.3L471.1,183.0L471.3,181.1L471.5,182.9L471.7,182.3L471.9,180.5L472.1,180.9L472.3,181.4L472.5,181.9L472.7,182.7L472.9,181.6L473.1,182.6L473.3,180.4L473.5,179.1L473.7,181.5L473.9,182.2L474.1,181.5L474.3,180.9L474.5,182.2L474.7,183.6L474.9,181.7L475.1,181.2L475.3,181.1L475.5,183.6L475.7,181.8L475.9,182.4L476.1,183.0L476.3,182.8L476.5,181.0L476.7,182.7L476.9,182.6L477.1,182.3L477.3,182.8L477.5,181.4L477.7,181.8L477.9,181.4L478.1,182.6L478.3,181.3L478.5,182.3L478.7,180.9L478.9,181.8L479.1,181.6L479.3,181.8L479.5,182.0L479.7,181.8L479.9,181.7L480.1,180.1L480.3,182.9L480.5,181.4L480.7,181.7L480.9,181.2L481.1,182.9L481.3,181.1L481.5,182.4L481.7,183.0L481.9,183.4L482.1,183.0L482.3,182.5L482.5,180.9L482.7,183.1L482.9,183.0L483.1,182.7L483.3,182.7L483.5,182.0L483.7,181.5L483.9,183.0L484.1,183.1L484.3,181.1L484.5,182.8L484.7,182.2L484.9,182.8L485.1,182.2L485.3,183.0L485.5,182.9L485.7,182.8L485.9,180.8L486.1,182.7L486.3,182.1L486.5,181.0L486.7,182.6L486.9,180.8L487.1,182.8L487.3,183.5L487.5,181.6L487.7,182.8L487.9,182.4L488.1,182.6L488.3,180.8L488.5,182.6L488.7,182.1L488.9,182.7L489.1,182.0L489.3,183.0L489.5,182.3L489.7,182.6L489.9,183.2L490.1,182.2L490.3,182.9L490.5,182.2L490.7,182.5L490.9,181.6L491.1,182.7L491.3,183.1L491.5,182.0L491.7,182.7L491.9,182.4L492.1,181.0L492.3,182.3L492.5,183.2L492.7,181.6L492.9,180.4L493.1,182.2L493.3,181.5L493.5,183.7L493.7,182.0L493.9,182.0L494.1,181.5L494.3,182.3L494.5,181.5L494.7,181.2L494.9,182.0L495.1,181.3L495.3,183.2L495.5,181.0L495.7,182.0L495.9,181.4L496.1,180.8L496.3,183.5L496.5,180.2L496.7,183.3L496.9,180.8L497.1,182.1L497.3,184.0L497.5,180.2L497.7,180.8L497.9,183.2L498.1,182.2L498.3,181.5L498.5,182.0L498.7,181.2L498.9,182.1L499.1,183.4L499.3,181.7L499.5,182.2L499.7,183.1L499.9,183.8L500.1,181.5L500.3,182.3L500.5,181.5L500.7,181.5L500.9,181.7L501.1,181.5L501.3,180.5L501.5,180.3L501.7,181.4L501.9,182.1L502.1,183.1L502.3,181.6L502.5,181.9L502.7,182.6L502.9,182.7L503.1,181.9L503.3,182.0L503.5,183.7L503.7,181.7L503.9,181.6L504.1,180.6L504.3,182.4L504.5,181.8L504.7,183.7L504.9,181.7L505.1,182.7L505.3,182.9L505.5,183.5L505.7,180.9L505.9,183.4L506.1,182.0L506.3,181.9L506.5,181.8L506.7,181.7L506.9,181.7L507.1,180.0L507.3,182.5L507.5,182.1L507.7,181.2L507.9,182.0L508.1,184.1L508.3,182.4L508.5,181.7L508.7,183.5L508.9,181.3L509.1,181.9L509.3,181.5L509.5,181.8L509.7,182.7L509.9,182.5L510.1,181.4L510.3,181.9L510.5,182.1L510.7,181.7L510.9,182.0L511.1,181.4L511.3,181.4L511.5,182.1L511.7,181.1L511.9,182.4L512.1,181.9L512.3,181.2L512.5,181.5L512.7,181.6L512.9,181.9L513.1,182.1L513.3,181.9L513.5,181.3L513.7,183.3L513.9,182.8L514.1,182.1L514.3,182.9L514.5,182.3L514.7,181.8L514.9,182.1L515.1,184.4L515.3,182.9L515.5,183.0L515.7,181.7L515.9,182.6L516.1,184.0L516.3,182.4L516.5,183.0L516.7,183.2L516.9,182.6L517.1,183.4L517.3,182.3L517.5,182.5L517.7,181.5L517.9,184.4L518.1,182.4L518.3,182.2L518.5,183.3L518.7,181.7L518.9,182.1L519.1,181.4L519.3,182.1L519.5,181.8L519.7,182.6L519.9,182.0L520.1,181.6L520.3,181.9L520.5,182.0L520.7,181.7L520.9,183.0L521.1,182.7L521.3,182.3L521.5,181.1L521.7,182.6L521.9,181.0L522.1,182.3L522.3,182.2L522.5,181.7L522.7,181.5L522.9,181.6L523.1,184.0L523.3,182.0L523.5,182.0L523.7,183.0L523.9,182.6L524.1,183.1L524.3,181.1L524.5,181.3L524.7,185.1L524.9,182.2L525.1,182.0L525.3,182.4L525.5,183.1L525.7,181.2L525.9,182.5L526.1,182.2L526.3,182.9L526.5,182.4L526.7,181.8L526.9,181.5L527.1,180.2L527.3,183.1L527.5,181.0L527.7,182.0L527.9,183.8L528.1,182.0L528.3,182.9L528.5,182.2L528.7,182.9L528.9,182.4L529.1,181.9L529.3,183.5L529.5,182.1L529.7,181.2L529.9,182.1L530.1,182.9L530.3,181.4L530.5,183.1L530.7,183.1L530.9,184.2L531.1,181.9L531.3,183.0L531.5,181.0L531.7,182.1L531.9,182.5L532.1,182.8L532.3,182.4L532.5,182.4L532.7,181.9L532.9,182.1L533.1,182.8L533.3,183.0L533.5,183.1L533.7,183.4L533.9,183.5L534.1,181.0L534.3,182.1L534.5,182.4L534.7,182.0L534.9,183.5L535.1,183.2L535.3,182.5L535.5,182.7L535.7,183.7L535.9,182.3L536.1,182.3L536.3,183.4L536.5,183.0L536.7,183.8L536.9,182.9L537.1,183.3L537.3,182.2L537.5,181.8L537.7,182.6L537.9,180.4L538.1,183.0L538.3,183.5L538.5,182.8L538.7,182.5L538.9,183.6L539.1,182.7L539.3,183.6L539.5,184.6" fill="none" stroke="#111111" stroke-width="1.4" stroke-linejoin="round" stroke-linecap="round"/>
<text x="312.43" y="21.10" font-size="9.8" font-weight="bold" textLength="6.16" lengthAdjust="spacingAndGlyphs" fill="#1c1c1c" stroke="#1c1c1c" stroke-width="0.4">B</text>
<text x="319.91" y="211.40" font-size="12.8" textLength="15.22" lengthAdjust="spacingAndGlyphs" fill="#1c1c1c" stroke="#1c1c1c" stroke-width="0.15">20</text>
<text x="355.48" y="211.40" font-size="12.8" textLength="15.04" lengthAdjust="spacingAndGlyphs" fill="#1c1c1c" stroke="#1c1c1c" stroke-width="0.15">30</text>
<text x="391.09" y="211.40" font-size="12.8" textLength="14.83" lengthAdjust="spacingAndGlyphs" fill="#1c1c1c" stroke="#1c1c1c" stroke-width="0.15">40</text>
<text x="426.26" y="211.40" font-size="12.8" textLength="15.07" lengthAdjust="spacingAndGlyphs" fill="#1c1c1c" stroke="#1c1c1c" stroke-width="0.15">50</text>
<text x="461.50" y="211.40" font-size="12.8" textLength="15.23" lengthAdjust="spacingAndGlyphs" fill="#1c1c1c" stroke="#1c1c1c" stroke-width="0.15">60</text>
<text x="496.90" y="211.40" font-size="12.8" textLength="15.24" lengthAdjust="spacingAndGlyphs" fill="#1c1c1c" stroke="#1c1c1c" stroke-width="0.15">70</text>
<text x="532.41" y="211.40" font-size="12.8" textLength="15.12" lengthAdjust="spacingAndGlyphs" fill="#1c1c1c" stroke="#1c1c1c" stroke-width="0.15">80</text>
<text x="372.87" y="229.20" font-size="14.0" textLength="37.28" lengthAdjust="spacingAndGlyphs" fill="#1c1c1c" stroke="#1c1c1c" stroke-width="0.15">Angle</text>
<text x="414.49" y="229.20" font-size="14.0" textLength="61.73" lengthAdjust="spacingAndGlyphs" fill="#1c1c1c" stroke="#1c1c1c" stroke-width="0.15">(2-theta)</text>
<text transform="rotate(-90)" x="-152.97" y="299.30" font-size="14.8" textLength="107.83" lengthAdjust="spacingAndGlyphs" fill="#1c1c1c" stroke="#1c1c1c" stroke-width="0.15">Intensity (a.u.)</text>
<text transform="rotate(-90)" x="-39.99" y="345.00" font-size="11.8" textLength="29.78" lengthAdjust="spacingAndGlyphs" fill="#1c1c1c" stroke="#1c1c1c" stroke-width="0.15">(002)</text>
<text transform="rotate(-90)" x="-66.48" y="406.10" font-size="11.8" textLength="29.47" lengthAdjust="spacingAndGlyphs" fill="#1c1c1c" stroke="#1c1c1c" stroke-width="0.15">(100)</text>
<line x1="458.30" y1="18.70" x2="481.10" y2="18.70" stroke="#1F4C9E" stroke-width="1.9"/>
<line x1="458.30" y1="38.20" x2="481.10" y2="38.20" stroke="#E31B23" stroke-width="1.9"/>
<line x1="458.30" y1="57.90" x2="481.10" y2="57.90" stroke="#111111" stroke-width="1.9"/>
<text x="486.98" y="21.60" font-size="11.8" textLength="45.92" lengthAdjust="spacingAndGlyphs" fill="#1c1c1c" stroke="#1c1c1c" stroke-width="0.15">AC1000</text>
<text x="486.98" y="41.40" font-size="11.8" textLength="38.11" lengthAdjust="spacingAndGlyphs" fill="#1c1c1c" stroke="#1c1c1c" stroke-width="0.15">AC800</text>
<text x="486.98" y="61.00" font-size="11.8" textLength="38.11" lengthAdjust="spacingAndGlyphs" fill="#1c1c1c" stroke="#1c1c1c" stroke-width="0.15">AC600</text>
<line x1="24.20" y1="248.10" x2="254.30" y2="248.10" stroke="#404040" stroke-width="1.6"/>
<line x1="24.20" y1="435.50" x2="254.30" y2="435.50" stroke="#1a1a1a" stroke-width="1.3"/>
<line x1="25.00" y1="247.30" x2="25.00" y2="436.15" stroke="#505050" stroke-width="1.6"/>
<line x1="253.60" y1="247.30" x2="253.60" y2="436.15" stroke="#2a2a2a" stroke-width="1.4"/>
<line x1="24.80" y1="435.50" x2="24.80" y2="439.30" stroke="#2a2a2a" stroke-width="1.2"/>
<line x1="62.90" y1="435.50" x2="62.90" y2="439.30" stroke="#2a2a2a" stroke-width="1.2"/>
<line x1="101.00" y1="435.50" x2="101.00" y2="439.30" stroke="#2a2a2a" stroke-width="1.2"/>
<line x1="139.10" y1="435.50" x2="139.10" y2="439.30" stroke="#2a2a2a" stroke-width="1.2"/>
<line x1="177.20" y1="435.50" x2="177.20" y2="439.30" stroke="#2a2a2a" stroke-width="1.2"/>
<line x1="215.30" y1="435.50" x2="215.30" y2="439.30" stroke="#2a2a2a" stroke-width="1.2"/>
<line x1="253.40" y1="435.50" x2="253.40" y2="439.30" stroke="#2a2a2a" stroke-width="1.2"/>
<path d="M25.0,315.6L25.2,316.0L25.4,315.2L25.6,314.8L25.8,314.9L26.0,314.5L26.2,316.2L26.4,311.8L26.6,313.9L26.8,315.4L27.0,313.0L27.2,314.2L27.4,313.2L27.6,315.1L27.8,315.7L28.0,316.7L28.2,315.1L28.4,313.1L28.6,314.7L28.8,315.2L29.0,316.6L29.2,310.8L29.4,314.9L29.6,311.3L29.8,315.4L30.0,315.0L30.2,315.0L30.4,315.7L30.6,314.8L30.8,313.2L31.0,314.8L31.2,316.1L31.4,314.0L31.6,314.2L31.8,312.2L32.0,316.0L32.2,313.3L32.4,312.9L32.6,313.4L32.8,312.7L33.0,313.7L33.2,316.2L33.4,315.4L33.6,316.4L33.8,316.5L34.0,312.6L34.2,314.8L34.4,316.5L34.6,317.8L34.8,311.7L35.0,311.7L35.2,314.8L35.4,313.5L35.6,312.4L35.8,314.6L36.0,312.7L36.2,310.3L36.4,313.9L36.6,314.2L36.8,315.0L37.0,315.5L37.2,314.2L37.4,313.5L37.6,312.8L37.8,311.2L38.0,313.2L38.2,315.5L38.4,314.9L38.6,317.2L38.8,313.6L39.0,311.0L39.2,315.2L39.4,315.5L39.6,311.9L39.8,311.2L40.0,314.1L40.2,315.0L40.4,312.0L40.6,313.2L40.8,312.5L41.0,311.8L41.2,311.6L41.4,314.0L41.6,313.1L41.8,312.6L42.0,309.5L42.2,316.5L42.4,312.2L42.6,313.4L42.8,311.8L43.0,314.2L43.2,311.2L43.4,313.8L43.6,313.3L43.8,315.1L44.0,311.8L44.2,312.5L44.4,313.1L44.6,316.9L44.8,311.1L45.0,313.9L45.2,312.4L45.4,313.9L45.6,314.5L45.8,313.6L46.0,313.8L46.2,313.8L46.4,312.4L46.6,313.0L46.8,310.6L47.0,312.7L47.2,312.0L47.4,312.9L47.6,314.4L47.8,313.9L48.0,314.0L48.2,315.0L48.4,309.3L48.6,313.9L48.8,313.1L49.0,313.0L49.2,311.0L49.4,314.0L49.6,315.0L49.8,314.7L50.0,312.9L50.2,314.1L50.4,314.5L50.6,316.0L50.8,315.0L51.0,313.2L51.2,313.1L51.4,313.2L51.6,313.3L51.8,312.1L52.0,314.1L52.2,311.8L52.4,311.6L52.6,313.4L52.8,311.9L53.0,312.4L53.2,309.4L53.4,314.1L53.6,312.8L53.8,312.5L54.0,313.5L54.2,313.1L54.4,311.6L54.6,315.9L54.8,311.9L55.0,314.2L55.2,315.6L55.4,311.6L55.6,312.8L55.8,311.3L56.0,314.3L56.2,312.0L56.4,310.8L56.6,314.7L56.8,314.0L57.0,311.0L57.2,314.4L57.4,312.8L57.6,316.8L57.8,315.2L58.0,311.5L58.2,312.0L58.4,311.0L58.6,312.6L58.8,312.4L59.0,313.5L59.2,312.5L59.4,309.9L59.6,310.9L59.8,314.4L60.0,313.9L60.2,311.7L60.4,311.7L60.6,311.5L60.8,311.8L61.0,309.0L61.2,313.1L61.4,310.5L61.6,311.7L61.8,307.3L62.0,311.7L62.2,313.4L62.4,307.5L62.6,313.5L62.8,311.8L63.0,309.7L63.2,308.3L63.4,312.7L63.6,311.1L63.8,311.6L64.0,310.1L64.2,309.2L64.4,311.8L64.6,308.8L64.8,311.7L65.0,307.5L65.2,308.6L65.4,307.6L65.6,311.9L65.8,306.8L66.0,307.6L66.2,310.4L66.4,309.6L66.6,312.6L66.8,311.9L67.0,309.8L67.2,309.8L67.4,305.6L67.6,306.9L67.8,307.7L68.0,307.8L68.2,305.7L68.4,306.3L68.6,306.3L68.8,309.3L69.0,308.1L69.2,306.7L69.4,306.7L69.6,307.5L69.8,305.7L70.0,306.3L70.2,303.7L70.4,307.4L70.6,307.7L70.8,306.5L71.0,306.5L71.2,306.1L71.4,308.6L71.6,305.4L71.8,302.7L72.0,303.0L72.2,305.7L72.4,306.0L72.6,305.4L72.8,305.3L73.0,304.0L73.2,301.1L73.4,302.1L73.6,300.2L73.8,302.3L74.0,300.5L74.2,302.7L74.4,302.0L74.6,298.9L74.8,303.1L75.0,302.9L75.2,299.1L75.4,301.2L75.6,301.8L75.8,299.8L76.0,301.3L76.2,299.9L76.4,301.0L76.6,299.2L76.8,298.3L77.0,299.0L77.2,299.1L77.4,297.9L77.6,296.4L77.8,295.5L78.0,295.9L78.2,295.2L78.4,296.1L78.6,295.7L78.8,294.9L79.0,294.7L79.2,294.7L79.4,296.6L79.6,295.6L79.8,292.4L80.0,293.7L80.2,291.9L80.4,291.7L80.6,290.9L80.8,289.7L81.0,287.9L81.2,285.5L81.4,289.3L81.6,290.3L81.8,286.3L82.0,288.1L82.2,286.0L82.4,286.6L82.6,284.2L82.8,284.6L83.0,284.2L83.2,279.9L83.4,283.6L83.6,282.4L83.8,278.0L84.0,282.4L84.2,280.6L84.4,280.3L84.6,279.8L84.8,277.9L85.0,276.1L85.2,276.4L85.4,275.7L85.6,279.4L85.8,278.1L86.0,273.6L86.2,273.0L86.4,273.6L86.6,273.4L86.8,270.8L87.0,269.7L87.2,273.9L87.4,271.9L87.6,267.1L87.8,266.1L88.0,267.1L88.2,268.3L88.4,268.4L88.6,266.4L88.8,264.3L89.0,267.8L89.2,269.0L89.4,268.5L89.6,268.3L89.8,270.8L90.0,270.5L90.2,269.4L90.4,272.2L90.6,270.6L90.8,275.0L91.0,274.9L91.2,273.2L91.4,275.8L91.6,278.2L91.8,273.3L92.0,277.2L92.2,280.8L92.4,276.2L92.6,279.1L92.8,277.7L93.0,280.6L93.2,277.4L93.4,279.3L93.6,281.7L93.8,283.5L94.0,284.4L94.2,285.1L94.4,286.9L94.6,286.7L94.8,287.3L95.0,285.1L95.2,287.0L95.4,293.1L95.6,292.2L95.8,290.4L96.0,290.8L96.2,291.7L96.4,289.7L96.6,294.0L96.8,290.4L97.0,291.3L97.2,295.4L97.4,288.6L97.6,293.0L97.8,289.9L98.0,292.0L98.2,293.3L98.4,293.2L98.6,294.4L98.8,292.9L99.0,294.1L99.2,292.3L99.4,293.7L99.6,292.1L99.8,295.6L100.0,292.4L100.2,295.8L100.4,294.0L100.6,294.2L100.8,296.7L101.0,295.0L101.2,291.6L101.4,295.5L101.6,289.6L101.8,294.8L102.0,293.5L102.2,291.7L102.4,294.0L102.6,293.2L102.8,296.9L103.0,292.7L103.2,296.5L103.4,295.4L103.6,291.9L103.8,291.1L104.0,294.2L104.2,291.2L104.4,291.2L104.6,290.0L104.8,287.9L105.0,288.8L105.2,287.4L105.4,285.9L105.6,287.5L105.8,290.5L106.0,289.7L106.2,286.1L106.4,285.4L106.6,285.0L106.8,285.4L107.0,282.6L107.2,280.2L107.4,279.3L107.6,280.9L107.8,282.0L108.0,275.2L108.2,271.4L108.4,274.9L108.6,274.0L108.8,275.0L109.0,277.4L109.2,276.1L109.4,274.7L109.6,274.6L109.8,278.8L110.0,277.9L110.2,281.8L110.4,280.6L110.6,283.6L110.8,283.2L111.0,286.5L111.2,287.8L111.4,290.9L111.6,293.5L111.8,292.3L112.0,292.4L112.2,298.6L112.4,297.2L112.6,298.7L112.8,299.4L113.0,301.6L113.2,301.5L113.4,301.7L113.6,302.6L113.8,300.6L114.0,301.7L114.2,303.3L114.4,304.4L114.6,305.0L114.8,306.2L115.0,306.2L115.2,305.7L115.4,303.9L115.6,308.3L115.8,308.1L116.0,305.8L116.2,308.4L116.4,308.5L116.6,308.2L116.8,305.1L117.0,306.5L117.2,307.7L117.4,311.7L117.6,307.7L117.8,308.8L118.0,307.8L118.2,309.1L118.4,310.7L118.6,306.8L118.8,305.6L119.0,311.6L119.2,310.6L119.4,309.6L119.6,312.3L119.8,312.4L120.0,307.2L120.2,310.6L120.4,312.8L120.6,309.8L120.8,310.5L121.0,312.7L121.2,310.7L121.4,309.2L121.6,310.1L121.8,309.1L122.0,312.3L122.2,308.5L122.4,313.2L122.6,308.8L122.8,311.7L123.0,309.2L123.2,311.2L123.4,313.5L123.6,313.8L123.8,314.1L124.0,311.8L124.2,312.2L124.4,312.5L124.6,313.2L124.8,311.5L125.0,314.1L125.2,312.8L125.4,314.2L125.6,313.1L125.8,313.5L126.0,311.1L126.2,311.6L126.4,310.2L126.6,311.9L126.8,312.1L127.0,313.8L127.2,310.3L127.4,317.9L127.6,312.2L127.8,314.6L128.0,314.2L128.2,308.2L128.4,312.0L128.6,315.0L128.8,308.4L129.0,313.8L129.2,311.0L129.4,311.8L129.6,312.9L129.8,309.4L130.0,312.9L130.2,311.5L130.4,311.3L130.6,313.8L130.8,318.6L131.0,313.2L131.2,313.6L131.4,312.6L131.6,311.5L131.8,313.1L132.0,315.3L132.2,313.1L132.4,314.3L132.6,312.4L132.8,317.1L133.0,310.0L133.2,313.8L133.4,313.7L133.6,313.3L133.8,310.9L134.0,310.9L134.2,312.5L134.4,313.0L134.6,310.8L134.8,311.1L135.0,313.9L135.2,314.7L135.4,312.0L135.6,311.8L135.8,311.7L136.0,317.2L136.2,313.8L136.4,312.9L136.6,314.7L136.8,316.9L137.0,315.0L137.2,310.6L137.4,312.9L137.6,312.4L137.8,312.5L138.0,311.0L138.2,312.5L138.4,311.3L138.6,313.7L138.8,313.2L139.0,310.8L139.2,310.3L139.4,312.4L139.6,314.3L139.8,314.1L140.0,313.1L140.2,307.6L140.4,312.4L140.6,311.9L140.8,312.6L141.0,311.1L141.2,312.4L141.4,312.0L141.6,317.7L141.8,314.3L142.0,312.7L142.2,313.0L142.4,312.8L142.6,313.3L142.8,312.3L143.0,312.9L143.2,314.7L143.4,314.4L143.6,313.5L143.8,315.2L144.0,313.3L144.2,311.2L144.4,309.9L144.6,311.7L144.8,312.7L145.0,313.5L145.2,314.6L145.4,311.8L145.6,311.4L145.8,314.1L146.0,314.7L146.2,311.9L146.4,313.3L146.6,315.0L146.8,313.2L147.0,312.5L147.2,309.1L147.4,314.9L147.6,313.7L147.8,312.8L148.0,311.8L148.2,310.4L148.4,312.4L148.6,312.3L148.8,314.4L149.0,310.4L149.2,314.9L149.4,312.5L149.6,314.4L149.8,310.8L150.0,313.0L150.2,314.5L150.4,312.6L150.6,309.8L150.8,311.8L151.0,313.2L151.2,309.9L151.4,309.8L151.6,312.7L151.8,310.6L152.0,313.4L152.2,310.2L152.4,309.1L152.6,310.8L152.8,314.7L153.0,310.7L153.2,312.1L153.4,312.5L153.6,310.5L153.8,313.9L154.0,312.4L154.2,312.8L154.4,309.2L154.6,309.0L154.8,307.3L155.0,311.6L155.2,311.6L155.4,313.2L155.6,314.4L155.8,311.5L156.0,311.4L156.2,312.6L156.4,314.5L156.6,310.4L156.8,312.9L157.0,311.4L157.2,311.2L157.4,313.2L157.6,310.4L157.8,309.9L158.0,312.9L158.2,311.7L158.4,311.2L158.6,311.4L158.8,312.5L159.0,311.0L159.2,312.9L159.4,312.3L159.6,314.1L159.8,313.7L160.0,313.0L160.2,311.2L160.4,311.7L160.6,310.5L160.8,316.3L161.0,311.1L161.2,312.4L161.4,313.7L161.6,309.1L161.8,310.0L162.0,310.7L162.2,309.7L162.4,309.2L162.6,310.5L162.8,313.5L163.0,312.5L163.2,311.3L163.4,311.3L163.6,308.4L163.8,312.4L164.0,311.9L164.2,309.4L164.4,311.5L164.6,310.8L164.8,310.3L165.0,309.5L165.2,310.0L165.4,309.5L165.6,311.9L165.8,311.7L166.0,311.6L166.2,310.7L166.4,310.3L166.6,314.4L166.8,307.7L167.0,312.9L167.2,311.4L167.4,310.9L167.6,309.9L167.8,310.3L168.0,308.7L168.2,308.3L168.4,310.4L168.6,307.7L168.8,311.9L169.0,312.4L169.2,304.6L169.4,307.8L169.6,310.8L169.8,310.7L170.0,310.5L170.2,311.0L170.4,311.5L170.6,311.6L170.8,313.2L171.0,310.1L171.2,311.5L171.4,307.3L171.6,309.7L171.8,307.9L172.0,312.3L172.2,313.8L172.4,310.7L172.6,307.6L172.8,309.5L173.0,309.7L173.2,310.0L173.4,311.5L173.6,311.2L173.8,305.0L174.0,311.8L174.2,308.6L174.4,308.5L174.6,311.8L174.8,308.9L175.0,307.0L175.2,307.0L175.4,309.3L175.6,310.7L175.8,311.7L176.0,308.8L176.2,308.3L176.4,311.8L176.6,308.2L176.8,311.4L177.0,309.3L177.2,309.3L177.4,308.4L177.6,309.3L177.8,308.0L178.0,307.6L178.2,308.4L178.4,307.5L178.6,309.1L178.8,308.7L179.0,308.1L179.2,308.1L179.4,308.1L179.6,311.4L179.8,308.3L180.0,307.3L180.2,307.8L180.4,309.4L180.6,307.9L180.8,307.9L181.0,307.7L181.2,308.4L181.4,308.7L181.6,308.8L181.8,305.2L182.0,306.1L182.2,303.4L182.4,309.2L182.6,309.7L182.8,310.0L183.0,308.0L183.2,309.6L183.4,307.6L183.6,307.4L183.8,305.0L184.0,306.2L184.2,306.5L184.4,309.0L184.6,310.2L184.8,306.6L185.0,308.0L185.2,307.8L185.4,305.9L185.6,304.3L185.8,305.9L186.0,304.7L186.2,306.6L186.4,306.8L186.6,306.7L186.8,306.7L187.0,307.8L187.2,305.3L187.4,308.4L187.6,304.0L187.8,306.9L188.0,307.4L188.2,305.4L188.4,304.0L188.6,307.7L188.8,305.4L189.0,307.9L189.2,307.8L189.4,306.5L189.6,306.4L189.8,308.1L190.0,307.0L190.2,304.7L190.4,306.6L190.6,307.2L190.8,306.5L191.0,306.5L191.2,305.9L191.4,305.9L191.6,304.5L191.8,303.7L192.0,308.0L192.2,305.0L192.4,306.4L192.6,303.5L192.8,306.3L193.0,304.6L193.2,311.0L193.4,304.3L193.6,304.3L193.8,307.6L194.0,307.9L194.2,302.4L194.4,306.3L194.6,307.4L194.8,303.8L195.0,307.0L195.2,305.0L195.4,304.2L195.6,305.2L195.8,305.0L196.0,303.5L196.2,309.6L196.4,305.0L196.6,304.5L196.8,307.2L197.0,305.6L197.2,308.0L197.4,305.3L197.6,306.3L197.8,305.8L198.0,305.9L198.2,305.3L198.4,305.5L198.6,308.5L198.8,304.5L199.0,304.7L199.2,305.0L199.4,306.5L199.6,306.2L199.8,307.1L200.0,303.3L200.2,305.9L200.4,305.2L200.6,305.0L200.8,305.7L201.0,302.1L201.2,305.9L201.4,305.7L201.6,303.0L201.8,305.2L202.0,308.0L202.2,304.7L202.4,306.4L202.6,305.0L202.8,304.0L203.0,303.8L203.2,304.6L203.4,307.5L203.6,306.6L203.8,304.1L204.0,306.9L204.2,305.0L204.4,304.1L204.6,305.9L204.8,303.7L205.0,302.5L205.2,307.3L205.4,302.1L205.6,306.0L205.8,302.6L206.0,305.1L206.2,304.8L206.4,304.3L206.6,301.4L206.8,304.9L207.0,305.0L207.2,303.5L207.4,304.9L207.6,306.7L207.8,303.8L208.0,305.4L208.2,303.0L208.4,305.6L208.6,306.0L208.8,309.1L209.0,306.4L209.2,305.6L209.4,307.2L209.6,303.2L209.8,306.7L210.0,304.0L210.2,303.9L210.4,306.9L210.6,305.5L210.8,307.3L211.0,302.7L211.2,305.6L211.4,304.3L211.6,304.8L211.8,302.1L212.0,306.9L212.2,305.7L212.4,303.8L212.6,303.2L212.8,304.1L213.0,307.9L213.2,305.4L213.4,305.1L213.6,306.5L213.8,305.7L214.0,306.2L214.2,307.0L214.4,306.4L214.6,307.4L214.8,303.9L215.0,306.1L215.2,305.4L215.4,306.2L215.6,306.0L215.8,305.1L216.0,305.6L216.2,307.8L216.4,305.3L216.6,304.2L216.8,307.3L217.0,308.0L217.2,306.0L217.4,306.7L217.6,305.1L217.8,306.2L218.0,308.4L218.2,308.0L218.4,306.9L218.6,306.3L218.8,304.0L219.0,307.3L219.2,307.6L219.4,308.6L219.6,310.3L219.8,307.6L220.0,308.6L220.2,305.2L220.4,309.1L220.6,308.6L220.8,309.4L221.0,308.3L221.2,308.0L221.4,309.8L221.6,306.2L221.8,308.5L222.0,309.2L222.2,306.2L222.4,305.6L222.6,308.3L222.8,307.8L223.0,308.6L223.2,308.7L223.4,306.4L223.6,308.3L223.8,309.7L224.0,307.3L224.2,307.4L224.4,306.1L224.6,309.3L224.8,311.2L225.0,305.8L225.2,309.4L225.4,309.6L225.6,307.2L225.8,307.6L226.0,306.5L226.2,307.0L226.4,308.6L226.6,309.5L226.8,308.6L227.0,309.9L227.2,308.8L227.4,306.6L227.6,311.0L227.8,310.6L228.0,307.5L228.2,311.6L228.4,309.5L228.6,309.0L228.8,312.0L229.0,304.7L229.2,306.2L229.4,310.0L229.6,308.5L229.8,307.3L230.0,311.4L230.2,309.7L230.4,306.8L230.6,307.9L230.8,310.4L231.0,312.0L231.2,305.7L231.4,309.5L231.6,308.4L231.8,306.2L232.0,308.8L232.2,306.5L232.4,308.3L232.6,311.8L232.8,310.0L233.0,310.5L233.2,310.2L233.4,309.8L233.6,310.9L233.8,307.4L234.0,308.7L234.2,310.7L234.4,308.1L234.6,308.6L234.8,311.4L235.0,312.0L235.2,308.4L235.4,308.1L235.6,310.4L235.8,309.9L236.0,308.4L236.2,310.5L236.4,310.5L236.6,309.7L236.8,314.5L237.0,311.9L237.2,311.0L237.4,311.3L237.6,314.6L237.8,311.5L238.0,308.5L238.2,310.3L238.4,309.9L238.6,308.8L238.8,310.2L239.0,310.2L239.2,309.7L239.4,309.0L239.6,311.2L239.8,307.2L240.0,311.3L240.2,309.9L240.4,310.4L240.6,306.0L240.8,312.8L241.0,307.1L241.2,308.6L241.4,311.1L241.6,309.1L241.8,309.4L242.0,306.4L242.2,309.4L242.4,310.5L242.6,311.3L242.8,309.7L243.0,310.6L243.2,310.9L243.4,309.1L243.6,309.0L243.8,313.5L244.0,308.9L244.2,312.4L244.4,310.5L244.6,312.8L244.8,309.3L245.0,311.3L245.2,311.0L245.4,310.1L245.6,311.0L245.8,309.2L246.0,310.4L246.2,309.9L246.4,311.8L246.6,310.4L246.8,308.3L247.0,310.0L247.2,310.4L247.4,309.1L247.6,312.9L247.8,311.3L248.0,312.1L248.2,309.4L248.4,310.1L248.6,312.4L248.8,308.4L249.0,311.4L249.2,311.0L249.4,310.0L249.6,311.0L249.8,309.1L250.0,311.3L250.2,308.9L250.4,308.8L250.6,313.3L250.8,309.8L251.0,307.5L251.2,312.6L251.4,309.7L251.6,305.2L251.8,311.0L252.0,312.6L252.2,311.7L252.4,314.0L252.6,310.9L252.8,312.2L253.0,309.5" fill="none" stroke="#6f86c4" stroke-width="0.5" stroke-linejoin="round" stroke-linecap="round" opacity="0.5"/>
<path d="M25.0,314.8L25.5,317.5L26.0,315.4L26.5,314.7L27.0,310.5L27.5,313.6L28.0,311.8L28.5,315.9L29.0,312.9L29.5,315.0L30.0,312.3L30.5,318.0L31.0,311.9L31.5,314.5L32.0,319.4L32.5,314.6L33.0,312.4L33.5,315.3L34.0,316.1L34.5,315.8L35.0,310.2L35.5,314.5L36.0,309.8L36.5,317.8L37.0,314.1L37.5,313.1L38.0,315.3L38.5,314.9L39.0,311.6L39.5,317.1L40.0,313.4L40.5,310.4L41.0,316.6L41.5,316.8L42.0,316.3L42.5,314.8L43.0,311.9L43.5,315.5L44.0,317.3L44.5,315.2L45.0,316.7L45.5,312.0L46.0,315.5L46.5,315.3L47.0,310.4L47.5,310.1L48.0,311.9L48.5,313.4L49.0,314.1L49.5,312.7L50.0,313.0L50.5,312.9L51.0,313.2L51.5,314.2L52.0,314.0L52.5,312.8L53.0,313.4L53.5,312.0L54.0,314.4L54.5,311.8L55.0,316.0L55.5,312.7L56.0,313.2L56.5,311.1L57.0,311.9L57.5,312.9L58.0,312.5L58.5,311.2L59.0,310.1L59.5,312.4L60.0,312.5L60.5,313.1L61.0,314.3L61.5,311.0L62.0,307.5L62.5,310.9L63.0,307.4L63.5,308.3L64.0,312.7L64.5,311.6L65.0,309.0L65.5,308.7L66.0,309.4L66.5,305.8L67.0,309.9L67.5,307.9L68.0,311.9L68.5,305.8L69.0,309.5L69.5,305.8L70.0,308.8L70.5,304.4L71.0,307.3L71.5,304.4L72.0,303.2L72.5,304.0L73.0,304.8L73.5,304.1L74.0,306.0L74.5,303.9L75.0,296.6L75.5,300.1L76.0,296.1L76.5,298.4L77.0,299.6L77.5,294.8L78.0,294.2L78.5,296.0L79.0,294.3L79.5,297.1L80.0,293.8L80.5,292.7L81.0,293.7L81.5,287.8L82.0,287.4L82.5,284.0L83.0,285.0L83.5,285.1L84.0,284.2L84.5,279.7L85.0,276.6L85.5,274.7L86.0,271.7L86.5,273.2L87.0,274.2L87.5,265.3L88.0,264.3L88.5,270.2L89.0,264.4L89.5,269.6L90.0,268.2L90.5,274.1L91.0,275.9L91.5,276.3L92.0,279.3L92.5,279.3L93.0,282.0L93.5,286.1L94.0,286.2L94.5,284.1L95.0,285.3L95.5,287.8L96.0,289.3L96.5,290.9L97.0,290.4L97.5,293.7L98.0,293.4L98.5,294.9L99.0,294.5L99.5,295.8L100.0,292.3L100.5,298.0L101.0,295.7L101.5,295.6L102.0,295.6L102.5,296.1L103.0,295.1L103.5,293.7L104.0,291.8L104.5,287.6L105.0,290.1L105.5,287.8L106.0,286.6L106.5,289.7L107.0,278.5L107.5,279.8L108.0,278.9L108.5,276.0L109.0,278.0L109.5,275.1L110.0,278.1L110.5,284.9L111.0,286.7L111.5,294.2L112.0,294.6L112.5,297.7L113.0,300.2L113.5,300.6L114.0,303.2L114.5,303.4L115.0,306.3L115.5,306.0L116.0,308.1L116.5,305.3L117.0,305.7L117.5,310.2L118.0,310.3L118.5,308.5L119.0,310.2L119.5,308.7L120.0,315.1L120.5,308.0L121.0,314.7L121.5,309.8L122.0,312.4L122.5,311.2L123.0,311.1L123.5,313.9L124.0,313.8L124.5,311.8L125.0,310.7L125.5,316.7L126.0,315.4L126.5,312.9L127.0,312.0L127.5,313.2L128.0,312.8L128.5,315.1L129.0,310.8L129.5,312.8L130.0,311.2L130.5,315.5L131.0,316.5L131.5,312.7L132.0,314.0L132.5,315.8L133.0,312.4L133.5,311.2L134.0,315.2L134.5,314.1L135.0,312.7L135.5,316.1L136.0,313.7L136.5,309.7L137.0,314.0L137.5,313.2L138.0,317.1L138.5,313.3L139.0,313.0L139.5,314.3L140.0,314.0L140.5,310.6L141.0,313.6L141.5,312.7L142.0,316.1L142.5,318.1L143.0,311.0L143.5,311.3L144.0,311.5L144.5,311.8L145.0,311.7L145.5,313.1L146.0,315.2L146.5,310.3L147.0,309.8L147.5,309.2L148.0,315.0L148.5,315.4L149.0,309.7L149.5,309.4L150.0,312.9L150.5,314.8L151.0,314.6L151.5,312.9L152.0,313.8L152.5,313.1L153.0,311.3L153.5,316.2L154.0,312.3L154.5,310.0L155.0,311.3L155.5,309.1L156.0,312.2L156.5,314.3L157.0,309.5L157.5,314.3L158.0,316.2L158.5,312.7L159.0,309.6L159.5,310.1L160.0,311.1L160.5,309.2L161.0,309.2L161.5,311.2L162.0,311.3L162.5,312.8L163.0,309.2L163.5,315.3L164.0,313.6L164.5,313.2L165.0,310.1L165.5,314.8L166.0,310.6L166.5,314.8L167.0,313.3L167.5,309.2L168.0,310.0L168.5,314.6L169.0,312.7L169.5,310.3L170.0,310.9L170.5,310.8L171.0,308.8L171.5,309.8L172.0,308.8L172.5,309.2L173.0,310.9L173.5,307.9L174.0,311.2L174.5,309.9L175.0,311.1L175.5,311.2L176.0,311.8L176.5,310.5L177.0,310.6L177.5,308.7L178.0,310.1L178.5,307.0L179.0,308.3L179.5,310.2L180.0,308.5L180.5,309.4L181.0,306.2L181.5,311.0L182.0,307.0L182.5,308.9L183.0,307.9L183.5,309.7L184.0,307.0L184.5,305.7L185.0,303.8L185.5,306.9L186.0,305.0L186.5,308.3L187.0,310.1L187.5,302.6L188.0,304.4L188.5,307.5L189.0,309.3L189.5,307.3L190.0,307.2L190.5,307.5L191.0,307.5L191.5,309.7L192.0,307.5L192.5,303.8L193.0,305.3L193.5,306.6L194.0,304.6L194.5,305.6L195.0,305.1L195.5,304.7L196.0,307.4L196.5,305.2L197.0,303.8L197.5,304.5L198.0,306.0L198.5,310.1L199.0,306.3L199.5,308.8L200.0,306.8L200.5,301.4L201.0,306.5L201.5,303.9L202.0,302.9L202.5,303.4L203.0,309.1L203.5,302.3L204.0,304.2L204.5,307.8L205.0,306.7L205.5,301.9L206.0,305.1L206.5,304.3L207.0,304.9L207.5,306.7L208.0,304.0L208.5,304.5L209.0,308.1L209.5,301.4L210.0,304.4L210.5,306.2L211.0,302.9L211.5,304.2L212.0,302.9L212.5,306.0L213.0,304.5L213.5,307.5L214.0,308.0L214.5,306.2L215.0,305.4L215.5,306.8L216.0,306.5L216.5,304.0L217.0,308.7L217.5,307.1L218.0,308.4L218.5,304.1L219.0,308.8L219.5,311.3L220.0,308.4L220.5,304.4L221.0,307.5L221.5,307.4L222.0,308.0L222.5,307.2L223.0,308.8L223.5,307.0L224.0,308.5L224.5,306.7L225.0,308.4L225.5,310.3L226.0,307.4L226.5,309.9L227.0,306.8L227.5,308.0L228.0,308.3L228.5,311.4L229.0,307.4L229.5,311.4L230.0,306.1L230.5,308.8L231.0,311.0L231.5,310.6L232.0,307.2L232.5,306.8L233.0,311.1L233.5,306.8L234.0,310.6L234.5,308.4L235.0,309.5L235.5,314.2L236.0,312.8L236.5,311.4L237.0,306.9L237.5,310.4L238.0,309.9L238.5,309.7L239.0,312.6L239.5,306.5L240.0,310.6L240.5,310.3L241.0,308.6L241.5,313.6L242.0,307.6L242.5,310.3L243.0,310.5L243.5,305.9L244.0,307.5L244.5,308.5L245.0,312.1L245.5,312.4L246.0,311.8L246.5,311.1L247.0,306.2L247.5,311.2L248.0,309.7L248.5,313.2L249.0,313.6L249.5,315.4L250.0,312.4L250.5,312.7L251.0,309.0L251.5,311.3L252.0,308.7L252.5,313.0L253.0,308.8" fill="none" stroke="#1F4C9E" stroke-width="0.8" stroke-linejoin="round" stroke-linecap="round"/>
<path d="M25.0,314.3L25.2,313.6L25.4,314.0L25.6,314.9L25.8,313.8L26.0,314.7L26.2,313.4L26.4,315.9L26.6,313.7L26.8,315.5L27.0,316.7L27.2,311.8L27.4,313.3L27.6,314.2L27.8,315.6L28.0,313.8L28.2,314.7L28.4,313.6L28.6,314.9L28.8,313.0L29.0,315.2L29.2,311.1L29.4,312.3L29.6,316.2L29.8,314.5L30.0,313.3L30.2,316.6L30.4,315.4L30.6,315.4L30.8,313.8L31.0,314.9L31.2,314.8L31.4,312.4L31.6,314.8L31.8,314.0L32.0,315.6L32.2,315.6L32.4,313.5L32.6,313.5L32.8,314.4L33.0,314.8L33.2,313.7L33.4,314.0L33.6,314.8L33.8,314.6L34.0,315.3L34.2,314.3L34.4,313.1L34.6,312.2L34.8,314.9L35.0,313.7L35.2,313.7L35.4,313.7L35.6,312.3L35.8,313.6L36.0,311.2L36.2,313.6L36.4,313.0L36.6,316.0L36.8,314.5L37.0,313.7L37.2,314.1L37.4,314.7L37.6,313.1L37.8,313.7L38.0,313.5L38.2,316.6L38.4,314.0L38.6,311.8L38.8,314.8L39.0,316.7L39.2,312.8L39.4,317.6L39.6,313.8L39.8,314.9L40.0,313.2L40.2,313.5L40.4,312.5L40.6,312.7L40.8,311.5L41.0,315.0L41.2,312.6L41.4,314.2L41.6,314.1L41.8,313.1L42.0,313.8L42.2,313.6L42.4,313.2L42.6,313.8L42.8,313.7L43.0,312.6L43.2,312.3L43.4,312.7L43.6,313.8L43.8,315.1L44.0,315.2L44.2,313.9L44.4,314.6L44.6,313.7L44.8,314.7L45.0,313.6L45.2,313.9L45.4,313.2L45.6,313.5L45.8,315.5L46.0,312.1L46.2,313.4L46.4,312.8L46.6,314.4L46.8,315.3L47.0,313.0L47.2,310.3L47.4,314.0L47.6,314.0L47.8,311.5L48.0,313.0L48.2,313.2L48.4,310.7L48.6,313.9L48.8,313.7L49.0,313.4L49.2,312.0L49.4,312.4L49.6,312.4L49.8,313.6L50.0,312.0L50.2,314.7L50.4,313.5L50.6,310.7L50.8,314.9L51.0,313.2L51.2,312.4L51.4,313.1L51.6,311.0L51.8,313.2L52.0,310.3L52.2,311.8L52.4,314.4L52.6,314.3L52.8,312.5L53.0,311.8L53.2,313.9L53.4,312.8L53.6,313.0L53.8,313.5L54.0,311.6L54.2,313.6L54.4,310.4L54.6,314.3L54.8,311.0L55.0,312.0L55.2,311.9L55.4,313.5L55.6,313.5L55.8,313.0L56.0,313.2L56.2,313.1L56.4,312.5L56.6,310.5L56.8,310.0L57.0,310.0L57.2,312.5L57.4,312.2L57.6,312.3L57.8,312.7L58.0,312.2L58.2,311.3L58.4,310.8L58.6,310.3L58.8,313.7L59.0,313.4L59.2,310.9L59.4,312.0L59.6,312.7L59.8,313.9L60.0,311.4L60.2,312.2L60.4,313.2L60.6,310.0L60.8,311.0L61.0,311.7L61.2,310.8L61.4,313.9L61.6,312.4L61.8,311.6L62.0,310.3L62.2,312.2L62.4,311.9L62.6,310.6L62.8,310.6L63.0,309.4L63.2,310.8L63.4,311.8L63.6,311.8L63.8,311.3L64.0,311.5L64.2,309.9L64.4,309.9L64.6,311.7L64.8,310.8L65.0,309.4L65.2,310.6L65.4,310.9L65.6,310.6L65.8,309.8L66.0,309.0L66.2,309.8L66.4,311.1L66.6,309.3L66.8,308.2L67.0,309.2L67.2,307.3L67.4,308.8L67.6,308.1L67.8,309.3L68.0,308.2L68.2,309.1L68.4,310.4L68.6,307.5L68.8,306.7L69.0,307.9L69.2,307.2L69.4,307.3L69.6,306.3L69.8,307.5L70.0,306.8L70.2,304.2L70.4,306.1L70.6,306.5L70.8,307.2L71.0,305.1L71.2,304.6L71.4,306.6L71.6,304.5L71.8,305.0L72.0,305.2L72.2,305.3L72.4,304.3L72.6,302.9L72.8,305.0L73.0,303.2L73.2,303.0L73.4,305.5L73.6,304.1L73.8,301.8L74.0,302.2L74.2,302.3L74.4,301.5L74.6,300.0L74.8,302.8L75.0,302.6L75.2,301.6L75.4,300.6L75.6,300.9L75.8,301.0L76.0,298.8L76.2,299.3L76.4,298.7L76.6,299.7L76.8,298.9L77.0,296.8L77.2,297.2L77.4,299.5L77.6,296.1L77.8,297.0L78.0,295.8L78.2,297.5L78.4,295.7L78.6,295.0L78.8,293.8L79.0,294.5L79.2,295.3L79.4,294.8L79.6,292.3L79.8,295.1L80.0,292.7L80.2,291.3L80.4,292.0L80.6,290.6L80.8,290.1L81.0,289.5L81.2,289.5L81.4,288.5L81.6,286.6L81.8,288.4L82.0,286.7L82.2,288.0L82.4,286.7L82.6,286.2L82.8,285.2L83.0,285.8L83.2,283.5L83.4,282.2L83.6,283.1L83.8,279.1L84.0,281.0L84.2,280.9L84.4,279.5L84.6,280.6L84.8,279.3L85.0,278.0L85.2,276.8L85.4,277.7L85.6,275.1L85.8,274.7L86.0,275.2L86.2,274.4L86.4,275.3L86.6,272.3L86.8,269.9L87.0,272.1L87.2,272.2L87.4,270.1L87.6,271.4L87.8,271.0L88.0,267.8L88.2,267.5L88.4,266.2L88.6,267.6L88.8,267.8L89.0,268.2L89.2,266.7L89.4,267.7L89.6,267.7L89.8,268.2L90.0,269.2L90.2,269.6L90.4,271.9L90.6,273.2L90.8,274.2L91.0,274.2L91.2,274.2L91.4,275.5L91.6,276.8L91.8,276.5L92.0,277.6L92.2,277.8L92.4,278.2L92.6,279.5L92.8,278.9L93.0,281.9L93.2,279.7L93.4,282.5L93.6,281.2L93.8,284.9L94.0,284.8L94.2,283.6L94.4,284.5L94.6,284.4L94.8,286.1L95.0,287.2L95.2,290.1L95.4,286.4L95.6,289.8L95.8,288.4L96.0,289.9L96.2,291.0L96.4,291.0L96.6,291.2L96.8,290.9L97.0,291.4L97.2,292.0L97.4,293.4L97.6,290.9L97.8,292.3L98.0,291.8L98.2,292.5L98.4,293.0L98.6,295.4L98.8,296.6L99.0,295.8L99.2,293.1L99.4,294.5L99.6,293.3L99.8,295.0L100.0,296.0L100.2,295.3L100.4,295.6L100.6,294.6L100.8,292.7L101.0,292.7L101.2,294.7L101.4,295.3L101.6,295.9L101.8,294.0L102.0,294.3L102.2,294.3L102.4,295.1L102.6,293.7L102.8,292.4L103.0,294.6L103.2,293.7L103.4,293.6L103.6,291.6L103.8,292.5L104.0,290.2L104.2,289.3L104.4,290.8L104.6,290.1L104.8,290.6L105.0,291.1L105.2,289.0L105.4,290.5L105.6,287.4L105.8,288.4L106.0,285.7L106.2,286.4L106.4,284.9L106.6,284.0L106.8,283.8L107.0,280.1L107.2,281.2L107.4,279.2L107.6,279.1L107.8,278.1L108.0,275.9L108.2,274.5L108.4,272.4L108.6,274.8L108.8,274.1L109.0,275.9L109.2,274.5L109.4,278.4L109.6,276.8L109.8,280.2L110.0,279.4L110.2,281.9L110.4,282.6L110.6,285.0L110.8,285.7L111.0,288.5L111.2,289.3L111.4,290.7L111.6,293.1L111.8,291.9L112.0,295.4L112.2,295.4L112.4,295.0L112.6,298.2L112.8,298.2L113.0,301.0L113.2,299.3L113.4,300.7L113.6,301.6L113.8,300.0L114.0,303.3L114.2,302.5L114.4,305.8L114.6,306.8L114.8,305.7L115.0,304.5L115.2,306.6L115.4,306.9L115.6,307.7L115.8,306.8L116.0,306.1L116.2,307.5L116.4,306.8L116.6,310.0L116.8,307.5L117.0,307.8L117.2,308.7L117.4,307.7L117.6,308.8L117.8,309.3L118.0,309.2L118.2,309.7L118.4,311.5L118.6,310.9L118.8,309.0L119.0,310.1L119.2,311.4L119.4,309.9L119.6,310.8L119.8,310.7L120.0,311.4L120.2,310.7L120.4,310.8L120.6,310.1L120.8,311.5L121.0,310.1L121.2,313.0L121.4,311.2L121.6,311.1L121.8,312.2L122.0,311.3L122.2,311.6L122.4,311.5L122.6,310.8L122.8,310.7L123.0,311.0L123.2,313.0L123.4,311.2L123.6,311.5L123.8,311.5L124.0,312.8L124.2,314.2L124.4,311.2L124.6,312.8L124.8,312.4L125.0,312.0L125.2,312.9L125.4,311.0L125.6,313.2L125.8,312.6L126.0,311.3L126.2,314.1L126.4,313.3L126.6,313.7L126.8,310.9L127.0,312.1L127.2,311.9L127.4,313.1L127.6,313.9L127.8,310.4L128.0,312.5L128.2,312.4L128.4,313.6L128.6,312.5L128.8,311.2L129.0,312.4L129.2,311.5L129.4,311.8L129.6,312.7L129.8,312.1L130.0,312.9L130.2,311.0L130.4,315.2L130.6,314.0L130.8,313.5L131.0,311.3L131.2,310.4L131.4,311.8L131.6,312.5L131.8,315.2L132.0,314.2L132.2,312.2L132.4,314.1L132.6,314.1L132.8,312.8L133.0,314.1L133.2,313.2L133.4,312.2L133.6,311.6L133.8,312.8L134.0,314.0L134.2,311.5L134.4,311.2L134.6,313.5L134.8,310.0L135.0,314.9L135.2,312.5L135.4,313.8L135.6,315.0L135.8,311.5L136.0,311.9L136.2,315.5L136.4,312.8L136.6,312.9L136.8,313.3L137.0,314.2L137.2,314.5L137.4,313.2L137.6,312.8L137.8,313.1L138.0,313.5L138.2,314.6L138.4,313.3L138.6,315.2L138.8,312.3L139.0,313.8L139.2,315.1L139.4,314.6L139.6,313.6L139.8,312.3L140.0,312.5L140.2,313.1L140.4,313.6L140.6,313.0L140.8,311.7L141.0,312.4L141.2,313.8L141.4,314.1L141.6,311.7L141.8,312.8L142.0,311.3L142.2,312.5L142.4,316.9L142.6,313.1L142.8,312.7L143.0,312.4L143.2,311.7L143.4,311.0L143.6,313.0L143.8,312.7L144.0,314.5L144.2,311.2L144.4,313.4L144.6,314.4L144.8,310.8L145.0,313.6L145.2,311.1L145.4,313.4L145.6,314.4L145.8,312.8L146.0,313.1L146.2,312.0L146.4,313.1L146.6,314.0L146.8,312.5L147.0,312.6L147.2,313.1L147.4,313.6L147.6,310.9L147.8,312.7L148.0,311.9L148.2,313.1L148.4,313.7L148.6,312.9L148.8,313.9L149.0,311.5L149.2,312.1L149.4,311.4L149.6,312.6L149.8,312.6L150.0,312.2L150.2,311.1L150.4,312.3L150.6,311.9L150.8,313.0L151.0,312.1L151.2,313.6L151.4,312.6L151.6,310.3L151.8,312.1L152.0,310.8L152.2,313.3L152.4,313.8L152.6,312.2L152.8,312.7L153.0,310.7L153.2,309.8L153.4,311.6L153.6,311.9L153.8,310.5L154.0,312.2L154.2,312.4L154.4,312.8L154.6,313.7L154.8,312.9L155.0,311.6L155.2,312.1L155.4,312.6L155.6,310.9L155.8,313.4L156.0,312.9L156.2,311.7L156.4,311.2L156.6,316.0L156.8,312.8L157.0,312.9L157.2,313.8L157.4,312.9L157.6,312.0L157.8,312.6L158.0,310.8L158.2,312.5L158.4,310.1L158.6,312.2L158.8,312.3L159.0,310.0L159.2,313.8L159.4,310.4L159.6,312.8L159.8,311.1L160.0,312.0L160.2,310.9L160.4,314.3L160.6,312.7L160.8,313.5L161.0,312.4L161.2,312.3L161.4,311.7L161.6,311.2L161.8,312.1L162.0,311.6L162.2,311.3L162.4,309.9L162.6,311.1L162.8,312.0L163.0,310.9L163.2,311.7L163.4,311.2L163.6,310.2L163.8,310.3L164.0,310.5L164.2,311.0L164.4,311.0L164.6,312.5L164.8,310.1L165.0,309.0L165.2,311.9L165.4,310.7L165.6,311.0L165.8,313.9L166.0,312.7L166.2,311.7L166.4,312.1L166.6,311.2L166.8,312.0L167.0,310.3L167.2,310.1L167.4,310.4L167.6,312.5L167.8,312.5L168.0,310.1L168.2,312.0L168.4,310.5L168.6,311.8L168.8,310.3L169.0,311.6L169.2,310.4L169.4,310.2L169.6,310.4L169.8,310.6L170.0,309.7L170.2,308.9L170.4,312.1L170.6,309.8L170.8,308.3L171.0,307.7L171.2,307.1L171.4,309.4L171.6,311.5L171.8,308.3L172.0,309.6L172.2,308.0L172.4,311.1L172.6,310.3L172.8,310.2L173.0,311.2L173.2,311.5L173.4,310.8L173.6,309.0L173.8,308.2L174.0,308.5L174.2,307.7L174.4,311.5L174.6,309.3L174.8,309.6L175.0,309.6L175.2,311.5L175.4,308.7L175.6,310.5L175.8,309.6L176.0,309.0L176.2,307.1L176.4,310.1L176.6,308.3L176.8,308.5L177.0,309.2L177.2,309.1L177.4,310.1L177.6,308.2L177.8,309.0L178.0,309.1L178.2,308.8L178.4,309.5L178.6,308.4L178.8,309.9L179.0,307.8L179.2,307.0L179.4,308.5L179.6,309.8L179.8,307.9L180.0,307.7L180.2,308.0L180.4,308.5L180.6,308.1L180.8,308.6L181.0,306.4L181.2,309.8L181.4,308.8L181.6,307.2L181.8,309.5L182.0,308.5L182.2,309.6L182.4,306.7L182.6,309.7L182.8,307.9L183.0,305.6L183.2,308.6L183.4,307.4L183.6,306.6L183.8,307.4L184.0,305.5L184.2,308.2L184.4,307.3L184.6,307.2L184.8,309.0L185.0,307.5L185.2,306.7L185.4,306.3L185.6,307.2L185.8,308.4L186.0,306.6L186.2,306.1L186.4,308.1L186.6,307.2L186.8,307.0L187.0,309.3L187.2,305.7L187.4,307.2L187.6,305.0L187.8,306.5L188.0,307.5L188.2,308.0L188.4,305.4L188.6,307.6L188.8,307.5L189.0,306.5L189.2,309.3L189.4,306.6L189.6,305.6L189.8,306.9L190.0,304.4L190.2,308.1L190.4,307.4L190.6,305.9L190.8,306.9L191.0,306.8L191.2,308.3L191.4,305.6L191.6,304.8L191.8,304.0L192.0,305.9L192.2,304.5L192.4,306.0L192.6,306.6L192.8,305.6L193.0,305.1L193.2,307.4L193.4,305.9L193.6,306.3L193.8,307.1L194.0,304.6L194.2,305.0L194.4,308.7L194.6,305.8L194.8,304.9L195.0,305.7L195.2,305.3L195.4,304.6L195.6,305.5L195.8,305.9L196.0,305.9L196.2,306.5L196.4,304.0L196.6,304.2L196.8,306.7L197.0,305.3L197.2,307.1L197.4,306.1L197.6,304.3L197.8,306.3L198.0,304.7L198.2,306.0L198.4,307.1L198.6,308.0L198.8,305.6L199.0,306.4L199.2,306.0L199.4,306.5L199.6,302.9L199.8,305.2L200.0,305.9L200.2,306.1L200.4,304.8L200.6,306.5L200.8,306.8L201.0,305.6L201.2,305.3L201.4,305.1L201.6,305.7L201.8,306.8L202.0,307.1L202.2,305.0L202.4,304.4L202.6,304.6L202.8,306.5L203.0,305.6L203.2,305.7L203.4,305.9L203.6,305.8L203.8,305.2L204.0,304.2L204.2,304.7L204.4,305.4L204.6,305.7L204.8,304.9L205.0,304.8L205.2,306.7L205.4,304.7L205.6,305.5L205.8,304.9L206.0,304.3L206.2,303.5L206.4,304.6L206.6,304.3L206.8,306.1L207.0,303.9L207.2,304.7L207.4,305.8L207.6,305.0L207.8,305.6L208.0,306.0L208.2,303.3L208.4,304.6L208.6,304.0L208.8,306.4L209.0,304.9L209.2,305.5L209.4,306.8L209.6,304.6L209.8,305.1L210.0,305.5L210.2,304.8L210.4,306.5L210.6,306.0L210.8,306.3L211.0,305.3L211.2,304.9L211.4,304.9L211.6,305.0L211.8,303.6L212.0,305.8L212.2,306.3L212.4,305.5L212.6,305.0L212.8,305.6L213.0,305.9L213.2,306.0L213.4,307.6L213.6,304.8L213.8,306.2L214.0,306.6L214.2,306.0L214.4,305.7L214.6,304.9L214.8,305.4L215.0,306.8L215.2,307.6L215.4,305.4L215.6,306.7L215.8,306.8L216.0,307.3L216.2,306.5L216.4,306.8L216.6,307.3L216.8,305.2L217.0,306.5L217.2,304.6L217.4,304.4L217.6,305.7L217.8,305.0L218.0,307.2L218.2,307.7L218.4,306.4L218.6,306.6L218.8,306.6L219.0,306.6L219.2,307.0L219.4,307.3L219.6,306.5L219.8,306.2L220.0,306.5L220.2,307.9L220.4,306.7L220.6,308.7L220.8,307.0L221.0,308.7L221.2,306.0L221.4,306.6L221.6,307.9L221.8,307.9L222.0,307.3L222.2,309.7L222.4,307.6L222.6,307.9L222.8,307.0L223.0,309.4L223.2,308.6L223.4,308.2L223.6,306.1L223.8,308.2L224.0,307.4L224.2,308.3L224.4,308.9L224.6,307.2L224.8,308.3L225.0,309.0L225.2,308.3L225.4,307.8L225.6,307.1L225.8,307.5L226.0,306.9L226.2,309.4L226.4,308.5L226.6,307.1L226.8,308.4L227.0,307.1L227.2,305.0L227.4,309.8L227.6,309.8L227.8,307.1L228.0,307.9L228.2,308.9L228.4,308.3L228.6,307.9L228.8,308.2L229.0,308.5L229.2,308.2L229.4,309.1L229.6,308.6L229.8,308.1L230.0,308.9L230.2,307.2L230.4,310.5L230.6,307.1L230.8,308.9L231.0,309.4L231.2,309.4L231.4,309.3L231.6,310.4L231.8,307.9L232.0,309.0L232.2,309.3L232.4,308.6L232.6,308.5L232.8,310.5L233.0,308.4L233.2,308.7L233.4,308.9L233.6,309.0L233.8,309.4L234.0,309.1L234.2,309.7L234.4,309.5L234.6,309.8L234.8,310.8L235.0,308.5L235.2,311.1L235.4,308.9L235.6,310.1L235.8,309.6L236.0,309.2L236.2,307.4L236.4,311.2L236.6,308.7L236.8,308.7L237.0,310.7L237.2,309.7L237.4,311.6L237.6,311.4L237.8,310.4L238.0,309.9L238.2,310.5L238.4,308.3L238.6,309.9L238.8,309.9L239.0,309.3L239.2,310.0L239.4,308.3L239.6,310.8L239.8,311.2L240.0,308.5L240.2,310.0L240.4,311.5L240.6,310.4L240.8,308.9L241.0,308.9L241.2,310.9L241.4,311.9L241.6,308.9L241.8,310.1L242.0,309.2L242.2,309.8L242.4,310.4L242.6,310.1L242.8,309.4L243.0,312.3L243.2,310.0L243.4,310.0L243.6,311.4L243.8,310.2L244.0,310.0L244.2,311.3L244.4,309.2L244.6,311.1L244.8,311.4L245.0,311.0L245.2,310.2L245.4,310.4L245.6,308.6L245.8,310.3L246.0,310.7L246.2,311.4L246.4,310.6L246.6,310.1L246.8,309.6L247.0,310.5L247.2,310.7L247.4,311.8L247.6,310.6L247.8,310.1L248.0,310.5L248.2,310.2L248.4,310.4L248.6,308.4L248.8,309.1L249.0,309.5L249.2,311.2L249.4,310.7L249.6,310.9L249.8,312.0L250.0,309.7L250.2,312.0L250.4,311.3L250.6,310.1L250.8,312.5L251.0,309.4L251.2,309.8L251.4,310.7L251.6,311.4L251.8,310.8L252.0,308.8L252.2,310.7L252.4,311.0L252.6,313.7L252.8,312.5L253.0,311.2" fill="none" stroke="#1F4C9E" stroke-width="1.5" stroke-linejoin="round" stroke-linecap="round"/>
<path d="M25.0,384.5L25.2,386.9L25.4,384.4L25.6,386.7L25.8,386.9L26.0,385.7L26.2,386.7L26.4,385.8L26.6,385.4L26.8,388.9L27.0,387.3L27.2,385.8L27.4,385.0L27.6,386.6L27.8,387.3L28.0,387.8L28.2,388.8L28.4,387.1L28.6,384.4L28.8,389.7L29.0,388.3L29.2,387.7L29.4,388.6L29.6,383.8L29.8,385.7L30.0,385.5L30.2,388.3L30.4,384.3L30.6,385.8L30.8,388.9L31.0,387.4L31.2,385.7L31.4,389.5L31.6,384.1L31.8,387.1L32.0,385.9L32.2,387.2L32.4,385.9L32.6,384.9L32.8,386.7L33.0,384.1L33.2,387.2L33.4,385.8L33.6,387.9L33.8,385.6L34.0,385.2L34.2,387.0L34.4,388.4L34.6,382.8L34.8,386.5L35.0,387.4L35.2,383.9L35.4,384.8L35.6,387.4L35.8,384.9L36.0,385.3L36.2,389.2L36.4,384.7L36.6,384.9L36.8,382.4L37.0,384.5L37.2,384.3L37.4,389.2L37.6,388.4L37.8,384.2L38.0,389.6L38.2,387.6L38.4,386.0L38.6,387.7L38.8,387.0L39.0,385.0L39.2,383.4L39.4,384.8L39.6,386.3L39.8,385.7L40.0,385.1L40.2,387.9L40.4,384.5L40.6,387.8L40.8,385.5L41.0,386.5L41.2,384.4L41.4,386.3L41.6,385.0L41.8,383.4L42.0,386.3L42.2,386.2L42.4,387.7L42.6,386.8L42.8,384.6L43.0,385.3L43.2,382.1L43.4,384.4L43.6,388.5L43.8,388.9L44.0,387.6L44.2,386.8L44.4,387.3L44.6,387.1L44.8,383.4L45.0,384.8L45.2,388.3L45.4,388.3L45.6,386.7L45.8,385.8L46.0,385.7L46.2,385.4L46.4,384.8L46.6,383.1L46.8,386.6L47.0,385.6L47.2,386.0L47.4,389.2L47.6,387.3L47.8,385.1L48.0,387.3L48.2,383.8L48.4,388.1L48.6,386.8L48.8,386.0L49.0,387.3L49.2,388.7L49.4,385.5L49.6,384.6L49.8,389.7L50.0,386.2L50.2,388.6L50.4,385.0L50.6,386.7L50.8,385.0L51.0,387.1L51.2,385.5L51.4,384.8L51.6,388.5L51.8,386.4L52.0,382.4L52.2,385.4L52.4,384.2L52.6,383.7L52.8,384.7L53.0,384.9L53.2,385.7L53.4,384.3L53.6,382.5L53.8,384.7L54.0,387.0L54.2,383.2L54.4,386.5L54.6,386.2L54.8,384.7L55.0,385.9L55.2,384.1L55.4,384.6L55.6,383.6L55.8,386.0L56.0,387.5L56.2,384.0L56.4,387.2L56.6,381.5L56.8,383.6L57.0,383.4L57.2,387.9L57.4,384.0L57.6,386.3L57.8,381.5L58.0,385.1L58.2,385.8L58.4,384.8L58.6,380.2L58.8,385.1L59.0,386.1L59.2,387.0L59.4,385.4L59.6,381.8L59.8,384.3L60.0,386.1L60.2,383.1L60.4,385.3L60.6,383.4L60.8,384.2L61.0,385.2L61.2,382.5L61.4,388.4L61.6,383.7L61.8,383.9L62.0,381.9L62.2,383.1L62.4,382.4L62.6,380.3L62.8,380.0L63.0,382.9L63.2,382.1L63.4,377.7L63.6,378.4L63.8,381.3L64.0,381.6L64.2,382.6L64.4,379.3L64.6,382.3L64.8,380.6L65.0,380.1L65.2,380.5L65.4,382.1L65.6,381.1L65.8,381.4L66.0,378.5L66.2,378.9L66.4,377.1L66.6,377.9L66.8,377.9L67.0,377.5L67.2,379.3L67.4,378.5L67.6,378.8L67.8,377.5L68.0,378.8L68.2,376.9L68.4,378.1L68.6,377.0L68.8,377.2L69.0,375.5L69.2,373.3L69.4,372.7L69.6,378.2L69.8,375.2L70.0,375.1L70.2,373.8L70.4,373.0L70.6,378.4L70.8,371.1L71.0,372.4L71.2,371.9L71.4,369.6L71.6,368.8L71.8,369.3L72.0,369.4L72.2,368.7L72.4,370.4L72.6,366.5L72.8,368.7L73.0,370.0L73.2,368.5L73.4,364.5L73.6,360.9L73.8,366.9L74.0,365.8L74.2,363.5L74.4,366.0L74.6,362.5L74.8,362.7L75.0,360.0L75.2,361.6L75.4,359.7L75.6,358.9L75.8,360.9L76.0,358.7L76.2,355.1L76.4,358.1L76.6,357.7L76.8,354.2L77.0,354.2L77.2,354.3L77.4,353.1L77.6,353.0L77.8,353.2L78.0,350.6L78.2,354.2L78.4,348.5L78.6,347.8L78.8,351.2L79.0,350.9L79.2,346.0L79.4,344.7L79.6,342.3L79.8,345.1L80.0,342.5L80.2,339.8L80.4,341.0L80.6,341.7L80.8,339.6L81.0,341.2L81.2,338.4L81.4,336.1L81.6,334.2L81.8,334.1L82.0,334.2L82.2,332.5L82.4,331.8L82.6,329.3L82.8,329.1L83.0,328.8L83.2,325.4L83.4,322.4L83.6,326.5L83.8,323.5L84.0,320.8L84.2,321.0L84.4,319.2L84.6,315.7L84.8,317.4L85.0,314.3L85.2,316.1L85.4,314.6L85.6,315.7L85.8,312.6L86.0,312.5L86.2,310.4L86.4,309.7L86.6,307.4L86.8,311.0L87.0,309.0L87.2,307.2L87.4,308.0L87.6,306.4L87.8,305.4L88.0,307.8L88.2,310.2L88.4,308.5L88.6,307.3L88.8,309.5L89.0,314.4L89.2,310.7L89.4,314.9L89.6,313.3L89.8,316.0L90.0,315.6L90.2,314.1L90.4,317.1L90.6,322.4L90.8,319.6L91.0,321.8L91.2,321.3L91.4,322.6L91.6,324.4L91.8,325.7L92.0,329.7L92.2,326.9L92.4,327.6L92.6,327.8L92.8,327.8L93.0,328.3L93.2,333.2L93.4,329.9L93.6,336.5L93.8,336.5L94.0,335.6L94.2,334.7L94.4,337.4L94.6,337.9L94.8,340.4L95.0,337.8L95.2,339.1L95.4,340.2L95.6,340.4L95.8,340.4L96.0,339.2L96.2,339.9L96.4,342.2L96.6,343.4L96.8,345.7L97.0,348.2L97.2,347.4L97.4,345.5L97.6,348.3L97.8,345.1L98.0,344.7L98.2,349.8L98.4,344.3L98.6,345.7L98.8,346.2L99.0,349.4L99.2,346.2L99.4,348.6L99.6,346.4L99.8,344.9L100.0,347.2L100.2,346.9L100.4,344.5L100.6,344.9L100.8,344.8L101.0,347.7L101.2,346.7L101.4,346.1L101.6,346.4L101.8,344.3L102.0,345.2L102.2,342.7L102.4,340.7L102.6,341.1L102.8,341.9L103.0,341.0L103.2,341.9L103.4,336.5L103.6,338.3L103.8,338.6L104.0,335.6L104.2,336.9L104.4,335.0L104.6,333.0L104.8,336.0L105.0,330.9L105.2,334.2L105.4,331.0L105.6,329.3L105.8,328.5L106.0,328.0L106.2,327.0L106.4,328.1L106.6,323.6L106.8,328.4L107.0,327.2L107.2,327.7L107.4,323.2L107.6,320.4L107.8,322.8L108.0,323.1L108.2,323.4L108.4,322.7L108.6,325.4L108.8,327.7L109.0,326.7L109.2,334.4L109.4,331.3L109.6,336.4L109.8,341.1L110.0,341.4L110.2,346.1L110.4,352.3L110.6,352.4L110.8,356.8L111.0,357.7L111.2,359.7L111.4,362.7L111.6,363.2L111.8,365.4L112.0,369.6L112.2,369.2L112.4,370.4L112.6,368.3L112.8,371.2L113.0,374.0L113.2,374.3L113.4,374.2L113.6,373.5L113.8,374.2L114.0,376.8L114.2,379.2L114.4,377.4L114.6,379.7L114.8,377.2L115.0,380.0L115.2,376.5L115.4,378.7L115.6,376.7L115.8,379.9L116.0,379.9L116.2,377.6L116.4,378.1L116.6,378.8L116.8,377.3L117.0,378.4L117.2,378.7L117.4,381.7L117.6,383.0L117.8,380.1L118.0,380.5L118.2,381.5L118.4,380.4L118.6,380.9L118.8,382.9L119.0,382.0L119.2,381.6L119.4,380.9L119.6,384.4L119.8,381.0L120.0,382.4L120.2,380.5L120.4,381.4L120.6,382.7L120.8,382.0L121.0,383.6L121.2,383.0L121.4,380.6L121.6,379.2L121.8,384.9L122.0,382.3L122.2,385.9L122.4,383.6L122.6,382.4L122.8,384.7L123.0,383.4L123.2,383.9L123.4,382.3L123.6,385.0L123.8,385.9L124.0,383.2L124.2,387.1L124.4,383.2L124.6,384.6L124.8,381.4L125.0,381.0L125.2,387.8L125.4,386.7L125.6,386.3L125.8,381.5L126.0,384.8L126.2,385.2L126.4,384.7L126.6,385.1L126.8,383.0L127.0,384.4L127.2,382.7L127.4,384.1L127.6,385.4L127.8,383.5L128.0,384.4L128.2,384.1L128.4,384.9L128.6,386.5L128.8,385.4L129.0,385.7L129.2,382.6L129.4,384.5L129.6,386.5L129.8,383.7L130.0,384.5L130.2,383.6L130.4,387.6L130.6,384.6L130.8,384.2L131.0,386.5L131.2,387.3L131.4,386.3L131.6,387.2L131.8,385.9L132.0,385.4L132.2,384.9L132.4,384.8L132.6,384.7L132.8,386.4L133.0,385.6L133.2,386.0L133.4,386.9L133.6,385.8L133.8,383.7L134.0,384.7L134.2,384.2L134.4,382.9L134.6,386.3L134.8,384.1L135.0,384.0L135.2,384.4L135.4,387.8L135.6,385.8L135.8,388.1L136.0,386.3L136.2,385.7L136.4,387.5L136.6,387.5L136.8,386.8L137.0,384.9L137.2,385.9L137.4,384.7L137.6,386.3L137.8,386.9L138.0,389.3L138.2,389.3L138.4,388.0L138.6,388.6L138.8,387.4L139.0,391.7L139.2,389.6L139.4,391.6L139.6,387.8L139.8,387.9L140.0,389.0L140.2,387.5L140.4,387.7L140.6,385.5L140.8,388.7L141.0,387.4L141.2,388.5L141.4,386.7L141.6,384.1L141.8,387.9L142.0,389.0L142.2,384.9L142.4,385.4L142.6,386.5L142.8,386.6L143.0,384.1L143.2,390.0L143.4,388.7L143.6,385.9L143.8,383.9L144.0,387.5L144.2,390.3L144.4,388.3L144.6,388.8L144.8,385.3L145.0,387.3L145.2,384.3L145.4,390.2L145.6,387.8L145.8,383.2L146.0,383.6L146.2,387.6L146.4,387.0L146.6,386.2L146.8,387.8L147.0,390.1L147.2,387.3L147.4,383.6L147.6,386.4L147.8,384.4L148.0,385.3L148.2,387.2L148.4,386.3L148.6,384.8L148.8,386.5L149.0,385.2L149.2,387.5L149.4,386.1L149.6,387.2L149.8,386.1L150.0,387.8L150.2,386.3L150.4,386.4L150.6,385.5L150.8,386.7L151.0,383.4L151.2,390.9L151.4,385.2L151.6,386.6L151.8,385.6L152.0,385.5L152.2,387.0L152.4,385.5L152.6,385.6L152.8,384.0L153.0,384.7L153.2,384.3L153.4,389.3L153.6,384.0L153.8,384.4L154.0,386.5L154.2,388.6L154.4,383.3L154.6,383.5L154.8,386.4L155.0,386.7L155.2,383.7L155.4,383.1L155.6,384.5L155.8,387.4L156.0,386.0L156.2,387.3L156.4,385.9L156.6,386.0L156.8,387.1L157.0,385.8L157.2,386.4L157.4,384.4L157.6,384.9L157.8,386.7L158.0,385.5L158.2,384.6L158.4,387.0L158.6,386.8L158.8,385.9L159.0,384.6L159.2,387.4L159.4,390.1L159.6,384.4L159.8,383.2L160.0,384.5L160.2,384.2L160.4,383.6L160.6,383.7L160.8,387.2L161.0,387.2L161.2,388.2L161.4,387.0L161.6,384.9L161.8,387.5L162.0,384.6L162.2,385.0L162.4,383.6L162.6,387.7L162.8,387.3L163.0,384.8L163.2,385.0L163.4,385.6L163.6,385.9L163.8,387.0L164.0,385.6L164.2,386.2L164.4,382.9L164.6,384.9L164.8,382.4L165.0,388.5L165.2,387.8L165.4,386.6L165.6,387.3L165.8,388.8L166.0,387.0L166.2,382.6L166.4,384.9L166.6,381.2L166.8,383.7L167.0,382.9L167.2,385.0L167.4,385.6L167.6,383.3L167.8,384.3L168.0,385.2L168.2,384.4L168.4,384.3L168.6,380.5L168.8,383.7L169.0,385.8L169.2,384.8L169.4,381.8L169.6,383.8L169.8,384.6L170.0,382.4L170.2,385.2L170.4,382.6L170.6,383.3L170.8,383.7L171.0,387.6L171.2,383.2L171.4,382.7L171.6,384.8L171.8,382.7L172.0,383.8L172.2,379.6L172.4,383.8L172.6,383.2L172.8,381.0L173.0,385.4L173.2,382.7L173.4,382.7L173.6,380.7L173.8,380.1L174.0,381.8L174.2,380.2L174.4,383.5L174.6,384.1L174.8,381.5L175.0,379.8L175.2,381.8L175.4,380.6L175.6,382.6L175.8,382.5L176.0,381.4L176.2,382.2L176.4,383.8L176.6,384.9L176.8,381.0L177.0,383.1L177.2,381.4L177.4,379.9L177.6,383.8L177.8,382.3L178.0,381.8L178.2,382.0L178.4,381.1L178.6,379.5L178.8,384.2L179.0,382.6L179.2,381.5L179.4,382.6L179.6,383.0L179.8,380.4L180.0,381.7L180.2,380.0L180.4,381.6L180.6,380.0L180.8,384.5L181.0,379.7L181.2,381.1L181.4,380.9L181.6,379.4L181.8,381.5L182.0,379.7L182.2,379.1L182.4,379.7L182.6,378.3L182.8,381.5L183.0,380.5L183.2,381.0L183.4,376.9L183.6,379.6L183.8,377.8L184.0,379.1L184.2,381.1L184.4,379.3L184.6,378.4L184.8,380.6L185.0,380.3L185.2,381.6L185.4,375.2L185.6,378.9L185.8,377.5L186.0,376.7L186.2,378.3L186.4,376.0L186.6,374.1L186.8,376.3L187.0,377.3L187.2,380.8L187.4,376.3L187.6,375.5L187.8,374.0L188.0,376.7L188.2,376.8L188.4,377.4L188.6,374.6L188.8,375.7L189.0,373.0L189.2,377.1L189.4,374.0L189.6,372.0L189.8,378.5L190.0,377.3L190.2,377.0L190.4,376.9L190.6,374.4L190.8,377.9L191.0,374.2L191.2,379.3L191.4,376.4L191.6,372.8L191.8,377.4L192.0,379.2L192.2,375.4L192.4,377.6L192.6,375.4L192.8,374.7L193.0,371.4L193.2,377.8L193.4,374.9L193.6,376.3L193.8,373.7L194.0,374.1L194.2,377.5L194.4,374.9L194.6,374.8L194.8,373.4L195.0,375.8L195.2,376.8L195.4,374.6L195.6,375.1L195.8,373.3L196.0,377.7L196.2,374.2L196.4,375.0L196.6,378.1L196.8,374.8L197.0,372.5L197.2,373.6L197.4,374.5L197.6,378.1L197.8,375.5L198.0,374.7L198.2,376.4L198.4,377.2L198.6,373.7L198.8,377.4L199.0,376.4L199.2,375.6L199.4,370.8L199.6,375.2L199.8,377.2L200.0,374.3L200.2,378.7L200.4,374.8L200.6,372.9L200.8,375.7L201.0,375.1L201.2,376.0L201.4,374.2L201.6,376.8L201.8,373.6L202.0,374.7L202.2,372.3L202.4,373.1L202.6,374.8L202.8,373.3L203.0,373.6L203.2,374.0L203.4,374.7L203.6,375.6L203.8,375.6L204.0,376.0L204.2,374.5L204.4,373.2L204.6,371.4L204.8,373.5L205.0,372.7L205.2,370.9L205.4,376.8L205.6,370.8L205.8,374.6L206.0,374.9L206.2,373.5L206.4,378.3L206.6,373.9L206.8,372.7L207.0,377.1L207.2,372.8L207.4,371.8L207.6,372.6L207.8,373.3L208.0,374.6L208.2,375.2L208.4,372.1L208.6,375.4L208.8,378.7L209.0,373.7L209.2,374.8L209.4,376.3L209.6,377.3L209.8,374.2L210.0,373.7L210.2,373.7L210.4,377.5L210.6,377.2L210.8,372.0L211.0,372.1L211.2,373.8L211.4,373.4L211.6,376.8L211.8,376.6L212.0,379.7L212.2,377.7L212.4,376.7L212.6,378.6L212.8,375.1L213.0,374.3L213.2,376.9L213.4,378.5L213.6,374.2L213.8,378.6L214.0,378.6L214.2,376.4L214.4,377.6L214.6,376.9L214.8,377.6L215.0,379.0L215.2,376.3L215.4,379.6L215.6,379.4L215.8,379.5L216.0,374.6L216.2,374.9L216.4,379.4L216.6,377.3L216.8,377.2L217.0,377.1L217.2,376.2L217.4,378.1L217.6,377.5L217.8,377.7L218.0,379.7L218.2,377.0L218.4,381.0L218.6,375.3L218.8,383.6L219.0,377.0L219.2,380.4L219.4,381.1L219.6,379.6L219.8,381.0L220.0,379.6L220.2,376.8L220.4,380.6L220.6,382.0L220.8,379.2L221.0,377.3L221.2,379.3L221.4,381.0L221.6,381.0L221.8,382.5L222.0,381.6L222.2,381.6L222.4,377.4L222.6,384.8L222.8,381.1L223.0,382.6L223.2,380.5L223.4,381.0L223.6,381.4L223.8,384.1L224.0,384.1L224.2,382.6L224.4,385.1L224.6,381.0L224.8,382.7L225.0,381.1L225.2,384.2L225.4,382.1L225.6,383.8L225.8,385.2L226.0,378.7L226.2,386.1L226.4,383.0L226.6,382.0L226.8,379.3L227.0,382.2L227.2,378.8L227.4,383.0L227.6,382.6L227.8,386.2L228.0,382.5L228.2,385.0L228.4,385.3L228.6,386.9L228.8,383.0L229.0,384.8L229.2,380.9L229.4,381.7L229.6,383.3L229.8,383.8L230.0,381.8L230.2,383.3L230.4,385.3L230.6,383.4L230.8,384.0L231.0,382.8L231.2,386.8L231.4,387.6L231.6,384.9L231.8,384.4L232.0,387.6L232.2,385.6L232.4,383.7L232.6,382.6L232.8,384.0L233.0,389.0L233.2,384.2L233.4,390.3L233.6,385.4L233.8,385.1L234.0,387.8L234.2,385.2L234.4,386.4L234.6,384.0L234.8,383.7L235.0,384.7L235.2,386.4L235.4,384.9L235.6,382.8L235.8,387.1L236.0,386.1L236.2,385.9L236.4,385.4L236.6,382.7L236.8,389.4L237.0,385.9L237.2,387.8L237.4,389.3L237.6,389.0L237.8,387.4L238.0,387.1L238.2,387.6L238.4,388.7L238.6,388.1L238.8,386.3L239.0,387.9L239.2,387.8L239.4,388.4L239.6,387.5L239.8,389.6L240.0,387.6L240.2,388.8L240.4,387.3L240.6,386.3L240.8,385.7L241.0,387.1L241.2,388.3L241.4,389.6L241.6,387.2L241.8,386.5L242.0,386.5L242.2,389.7L242.4,387.7L242.6,386.6L242.8,388.8L243.0,385.2L243.2,387.7L243.4,387.5L243.6,387.3L243.8,385.6L244.0,389.3L244.2,390.6L244.4,385.4L244.6,387.9L244.8,388.8L245.0,391.7L245.2,387.0L245.4,386.1L245.6,387.8L245.8,391.3L246.0,387.9L246.2,388.3L246.4,391.0L246.6,384.2L246.8,384.1L247.0,389.5L247.2,389.3L247.4,385.5L247.6,388.9L247.8,388.1L248.0,388.4L248.2,386.6L248.4,387.3L248.6,386.5L248.8,388.2L249.0,387.7L249.2,391.1L249.4,389.2L249.6,385.4L249.8,388.9L250.0,390.7L250.2,388.7L250.4,390.1L250.6,388.2L250.8,389.5L251.0,386.7L251.2,389.7L251.4,385.9L251.6,390.6L251.8,385.7L252.0,384.7L252.2,389.3L252.4,388.1L252.6,388.7L252.8,389.2L253.0,388.5" fill="none" stroke="#f08a8e" stroke-width="0.5" stroke-linejoin="round" stroke-linecap="round" opacity="0.5"/>
<path d="M25.0,384.5L25.5,386.7L26.0,387.0L26.5,387.3L27.0,390.4L27.5,384.8L28.0,386.4L28.5,387.4L29.0,385.4L29.5,383.8L30.0,385.1L30.5,388.5L31.0,385.7L31.5,387.6L32.0,384.8L32.5,387.2L33.0,384.9L33.5,384.6L34.0,386.5L34.5,386.4L35.0,389.3L35.5,383.0L36.0,387.3L36.5,389.6L37.0,389.1L37.5,385.5L38.0,384.9L38.5,385.3L39.0,386.9L39.5,386.7L40.0,387.0L40.5,387.5L41.0,384.1L41.5,384.0L42.0,383.8L42.5,383.5L43.0,386.1L43.5,386.9L44.0,391.5L44.5,387.4L45.0,386.3L45.5,389.2L46.0,384.8L46.5,387.0L47.0,388.3L47.5,387.9L48.0,387.1L48.5,385.6L49.0,383.8L49.5,385.9L50.0,384.9L50.5,387.5L51.0,385.7L51.5,387.1L52.0,382.5L52.5,387.8L53.0,383.9L53.5,382.4L54.0,382.7L54.5,384.2L55.0,387.7L55.5,386.8L56.0,382.8L56.5,385.3L57.0,384.8L57.5,381.8L58.0,382.9L58.5,380.7L59.0,383.0L59.5,379.2L60.0,383.0L60.5,382.3L61.0,382.2L61.5,381.8L62.0,385.5L62.5,382.1L63.0,382.9L63.5,383.6L64.0,383.6L64.5,382.8L65.0,379.9L65.5,378.1L66.0,378.1L66.5,378.0L67.0,378.3L67.5,377.5L68.0,379.2L68.5,376.1L69.0,379.3L69.5,377.1L70.0,373.3L70.5,375.4L71.0,366.6L71.5,374.1L72.0,370.8L72.5,369.5L73.0,364.0L73.5,371.4L74.0,364.4L74.5,363.2L75.0,364.1L75.5,359.7L76.0,356.6L76.5,358.0L77.0,352.8L77.5,354.7L78.0,351.7L78.5,351.5L79.0,344.4L79.5,347.1L80.0,342.8L80.5,343.9L81.0,336.1L81.5,338.6L82.0,333.5L82.5,331.0L83.0,325.3L83.5,325.2L84.0,322.9L84.5,317.4L85.0,314.3L85.5,312.7L86.0,314.9L86.5,310.4L87.0,310.7L87.5,308.0L88.0,307.6L88.5,309.8L89.0,310.5L89.5,315.8L90.0,316.1L90.5,318.7L91.0,318.0L91.5,324.0L92.0,324.5L92.5,327.4L93.0,333.1L93.5,331.3L94.0,335.7L94.5,338.9L95.0,341.5L95.5,339.5L96.0,342.8L96.5,344.1L97.0,342.0L97.5,340.5L98.0,341.6L98.5,347.5L99.0,347.1L99.5,344.4L100.0,345.5L100.5,345.6L101.0,345.3L101.5,345.6L102.0,348.9L102.5,341.0L103.0,341.1L103.5,337.4L104.0,335.9L104.5,333.5L105.0,332.8L105.5,330.1L106.0,329.9L106.5,327.6L107.0,324.0L107.5,328.5L108.0,320.9L108.5,325.3L109.0,333.8L109.5,333.1L110.0,345.4L110.5,354.1L111.0,357.9L111.5,358.8L112.0,370.8L112.5,370.1L113.0,370.8L113.5,376.6L114.0,374.5L114.5,379.6L115.0,376.8L115.5,379.5L116.0,376.7L116.5,378.6L117.0,378.1L117.5,379.0L118.0,381.4L118.5,380.9L119.0,382.0L119.5,384.5L120.0,381.9L120.5,378.6L121.0,382.1L121.5,383.2L122.0,385.4L122.5,385.7L123.0,385.8L123.5,383.5L124.0,385.3L124.5,381.2L125.0,386.9L125.5,385.2L126.0,385.5L126.5,383.7L127.0,384.7L127.5,383.3L128.0,386.0L128.5,382.2L129.0,387.0L129.5,386.2L130.0,389.3L130.5,385.2L131.0,385.2L131.5,385.9L132.0,385.7L132.5,385.5L133.0,383.6L133.5,383.6L134.0,384.8L134.5,385.5L135.0,383.8L135.5,383.9L136.0,385.8L136.5,388.0L137.0,386.2L137.5,388.1L138.0,388.8L138.5,388.5L139.0,386.1L139.5,386.3L140.0,383.4L140.5,385.8L141.0,388.1L141.5,384.9L142.0,389.8L142.5,390.0L143.0,386.2L143.5,388.8L144.0,384.0L144.5,384.7L145.0,386.1L145.5,386.8L146.0,386.4L146.5,385.0L147.0,390.7L147.5,387.3L148.0,387.2L148.5,388.0L149.0,386.9L149.5,386.1L150.0,385.4L150.5,383.1L151.0,389.5L151.5,384.5L152.0,383.0L152.5,384.7L153.0,383.0L153.5,390.3L154.0,387.0L154.5,389.1L155.0,389.1L155.5,387.3L156.0,387.3L156.5,384.6L157.0,385.9L157.5,384.8L158.0,386.0L158.5,384.5L159.0,388.5L159.5,387.4L160.0,385.6L160.5,382.4L161.0,387.1L161.5,387.5L162.0,385.5L162.5,383.1L163.0,386.5L163.5,387.7L164.0,381.6L164.5,386.7L165.0,381.8L165.5,385.6L166.0,389.0L166.5,385.5L167.0,386.1L167.5,384.3L168.0,384.8L168.5,389.4L169.0,387.2L169.5,383.7L170.0,383.4L170.5,384.0L171.0,388.3L171.5,384.1L172.0,385.8L172.5,382.6L173.0,380.6L173.5,385.7L174.0,382.7L174.5,381.1L175.0,381.1L175.5,381.0L176.0,381.0L176.5,378.9L177.0,384.4L177.5,382.5L178.0,383.6L178.5,380.7L179.0,381.9L179.5,381.3L180.0,383.1L180.5,382.2L181.0,381.1L181.5,378.8L182.0,377.5L182.5,378.1L183.0,378.2L183.5,378.2L184.0,376.5L184.5,382.2L185.0,379.2L185.5,374.3L186.0,376.0L186.5,375.3L187.0,378.3L187.5,379.8L188.0,375.4L188.5,378.4L189.0,376.4L189.5,379.1L190.0,379.3L190.5,376.9L191.0,377.6L191.5,376.0L192.0,375.2L192.5,373.5L193.0,376.5L193.5,375.6L194.0,374.9L194.5,375.4L195.0,375.2L195.5,373.4L196.0,374.3L196.5,377.6L197.0,374.8L197.5,378.0L198.0,372.8L198.5,372.3L199.0,375.2L199.5,376.5L200.0,373.5L200.5,376.0L201.0,376.6L201.5,376.8L202.0,374.3L202.5,374.4L203.0,371.1L203.5,374.4L204.0,374.8L204.5,377.0L205.0,371.5L205.5,372.3L206.0,371.9L206.5,375.7L207.0,369.0L207.5,372.1L208.0,378.7L208.5,376.1L209.0,372.3L209.5,375.1L210.0,377.1L210.5,376.8L211.0,375.4L211.5,374.5L212.0,378.0L212.5,376.5L213.0,378.4L213.5,377.8L214.0,376.2L214.5,380.3L215.0,376.6L215.5,378.7L216.0,376.8L216.5,377.8L217.0,378.0L217.5,377.4L218.0,379.4L218.5,381.8L219.0,383.1L219.5,382.5L220.0,379.5L220.5,383.0L221.0,381.1L221.5,384.1L222.0,378.2L222.5,383.9L223.0,379.9L223.5,383.6L224.0,380.6L224.5,383.6L225.0,381.3L225.5,378.3L226.0,380.4L226.5,382.0L227.0,382.8L227.5,378.4L228.0,380.7L228.5,381.9L229.0,383.1L229.5,384.2L230.0,382.3L230.5,381.1L231.0,384.9L231.5,383.9L232.0,386.5L232.5,383.9L233.0,386.4L233.5,383.5L234.0,386.1L234.5,385.9L235.0,386.9L235.5,384.3L236.0,386.1L236.5,384.8L237.0,386.4L237.5,388.2L238.0,393.1L238.5,387.2L239.0,388.6L239.5,387.4L240.0,389.5L240.5,388.2L241.0,389.4L241.5,388.1L242.0,392.3L242.5,390.3L243.0,384.1L243.5,388.2L244.0,387.8L244.5,383.2L245.0,386.0L245.5,386.8L246.0,386.3L246.5,388.1L247.0,384.3L247.5,389.5L248.0,389.6L248.5,388.8L249.0,387.5L249.5,388.2L250.0,387.3L250.5,390.6L251.0,389.3L251.5,392.4L252.0,387.7L252.5,391.4L253.0,387.4" fill="none" stroke="#E31B23" stroke-width="0.8" stroke-linejoin="round" stroke-linecap="round"/>
<path d="M25.0,386.1L25.2,385.2L25.4,386.9L25.6,386.2L25.8,387.0L26.0,387.9L26.2,386.2L26.4,386.7L26.6,387.3L26.8,386.2L27.0,385.7L27.2,386.7L27.4,386.8L27.6,387.1L27.8,387.2L28.0,385.6L28.2,386.8L28.4,387.6L28.6,385.8L28.8,386.7L29.0,385.7L29.2,386.5L29.4,388.1L29.6,386.5L29.8,385.3L30.0,386.7L30.2,386.5L30.4,387.5L30.6,384.9L30.8,385.3L31.0,386.2L31.2,384.7L31.4,387.5L31.6,384.2L31.8,385.4L32.0,384.8L32.2,385.6L32.4,387.2L32.6,386.9L32.8,387.3L33.0,386.9L33.2,384.2L33.4,386.6L33.6,384.4L33.8,385.8L34.0,385.9L34.2,385.7L34.4,386.8L34.6,385.5L34.8,388.1L35.0,386.9L35.2,387.6L35.4,387.1L35.6,387.2L35.8,386.3L36.0,388.4L36.2,385.2L36.4,386.8L36.6,386.3L36.8,386.1L37.0,386.6L37.2,385.5L37.4,387.2L37.6,387.1L37.8,386.4L38.0,387.1L38.2,385.2L38.4,384.4L38.6,385.7L38.8,386.1L39.0,388.9L39.2,386.1L39.4,387.4L39.6,387.2L39.8,388.5L40.0,386.4L40.2,387.0L40.4,386.1L40.6,385.4L40.8,385.3L41.0,385.5L41.2,387.8L41.4,386.6L41.6,386.1L41.8,386.3L42.0,385.7L42.2,386.3L42.4,386.3L42.6,387.0L42.8,387.3L43.0,384.6L43.2,386.6L43.4,387.8L43.6,385.2L43.8,386.0L44.0,386.5L44.2,387.5L44.4,386.9L44.6,386.1L44.8,386.8L45.0,387.4L45.2,386.7L45.4,388.3L45.6,386.8L45.8,385.2L46.0,385.5L46.2,386.2L46.4,386.1L46.6,387.0L46.8,386.7L47.0,388.1L47.2,387.2L47.4,387.9L47.6,385.5L47.8,385.9L48.0,387.0L48.2,386.4L48.4,387.0L48.6,386.6L48.8,385.7L49.0,388.1L49.2,387.5L49.4,384.6L49.6,385.6L49.8,386.2L50.0,386.9L50.2,386.1L50.4,384.7L50.6,386.9L50.8,385.8L51.0,387.3L51.2,386.3L51.4,387.0L51.6,386.8L51.8,386.8L52.0,385.3L52.2,386.9L52.4,386.0L52.6,384.5L52.8,385.3L53.0,385.3L53.2,386.2L53.4,386.4L53.6,384.4L53.8,386.3L54.0,385.5L54.2,384.4L54.4,386.4L54.6,384.7L54.8,384.2L55.0,386.2L55.2,386.3L55.4,384.6L55.6,386.4L55.8,386.3L56.0,384.7L56.2,387.3L56.4,385.1L56.6,385.4L56.8,382.6L57.0,385.8L57.2,384.4L57.4,385.5L57.6,383.2L57.8,386.2L58.0,386.5L58.2,386.9L58.4,381.8L58.6,385.5L58.8,385.2L59.0,381.6L59.2,384.0L59.4,384.6L59.6,386.2L59.8,383.8L60.0,384.8L60.2,384.4L60.4,384.7L60.6,383.8L60.8,385.0L61.0,384.9L61.2,382.3L61.4,384.8L61.6,382.7L61.8,383.1L62.0,384.4L62.2,383.2L62.4,383.5L62.6,383.6L62.8,383.3L63.0,381.9L63.2,381.3L63.4,382.9L63.6,382.8L63.8,382.3L64.0,381.6L64.2,382.5L64.4,381.5L64.6,379.9L64.8,381.5L65.0,381.6L65.2,381.6L65.4,379.6L65.6,379.5L65.8,380.3L66.0,379.2L66.2,379.4L66.4,380.2L66.6,379.3L66.8,380.6L67.0,378.7L67.2,379.9L67.4,379.0L67.6,380.2L67.8,377.3L68.0,377.0L68.2,378.1L68.4,376.0L68.6,375.8L68.8,376.2L69.0,376.1L69.2,374.0L69.4,375.5L69.6,374.6L69.8,374.6L70.0,374.6L70.2,373.9L70.4,375.0L70.6,374.1L70.8,372.9L71.0,372.7L71.2,373.2L71.4,372.4L71.6,372.4L71.8,370.4L72.0,370.2L72.2,371.7L72.4,369.0L72.6,370.3L72.8,369.0L73.0,367.1L73.2,365.6L73.4,367.2L73.6,365.3L73.8,364.8L74.0,363.3L74.2,365.8L74.4,364.1L74.6,363.3L74.8,363.0L75.0,362.1L75.2,361.3L75.4,361.1L75.6,359.5L75.8,356.4L76.0,359.2L76.2,358.2L76.4,357.1L76.6,358.0L76.8,354.2L77.0,352.0L77.2,355.9L77.4,354.1L77.6,351.2L77.8,351.8L78.0,352.2L78.2,349.5L78.4,350.4L78.6,351.1L78.8,349.4L79.0,347.0L79.2,346.4L79.4,344.1L79.6,344.3L79.8,342.9L80.0,341.3L80.2,340.0L80.4,342.5L80.6,339.6L80.8,337.5L81.0,337.1L81.2,338.1L81.4,337.1L81.6,333.7L81.8,333.5L82.0,333.1L82.2,330.8L82.4,328.8L82.6,328.0L82.8,327.9L83.0,326.1L83.2,324.4L83.4,324.5L83.6,324.6L83.8,323.3L84.0,321.4L84.2,322.7L84.4,318.9L84.6,318.7L84.8,316.4L85.0,317.6L85.2,315.7L85.4,313.1L85.6,313.0L85.8,314.8L86.0,312.7L86.2,311.1L86.4,311.4L86.6,308.3L86.8,308.5L87.0,307.5L87.2,307.5L87.4,307.4L87.6,307.8L87.8,307.8L88.0,308.5L88.2,311.1L88.4,308.6L88.6,309.8L88.8,311.2L89.0,310.6L89.2,311.9L89.4,313.4L89.6,312.9L89.8,315.3L90.0,317.1L90.2,315.7L90.4,315.5L90.6,319.0L90.8,318.8L91.0,321.1L91.2,321.5L91.4,323.3L91.6,325.2L91.8,325.8L92.0,325.6L92.2,325.8L92.4,325.5L92.6,326.8L92.8,329.3L93.0,331.2L93.2,331.4L93.4,332.5L93.6,332.5L93.8,333.4L94.0,334.4L94.2,337.4L94.4,335.3L94.6,338.7L94.8,337.6L95.0,339.7L95.2,340.0L95.4,341.1L95.6,342.2L95.8,340.7L96.0,341.1L96.2,342.3L96.4,342.5L96.6,344.5L96.8,343.9L97.0,344.3L97.2,345.0L97.4,344.3L97.6,346.2L97.8,343.4L98.0,345.8L98.2,346.4L98.4,345.3L98.6,345.7L98.8,347.6L99.0,346.6L99.2,345.2L99.4,345.8L99.6,348.1L99.8,346.0L100.0,348.1L100.2,348.1L100.4,346.3L100.6,346.9L100.8,345.3L101.0,345.6L101.2,345.1L101.4,346.3L101.6,344.2L101.8,345.0L102.0,344.5L102.2,344.2L102.4,340.8L102.6,340.4L102.8,340.6L103.0,340.6L103.2,340.2L103.4,339.5L103.6,340.7L103.8,338.6L104.0,337.8L104.2,335.9L104.4,336.5L104.6,335.6L104.8,334.8L105.0,333.1L105.2,333.1L105.4,333.2L105.6,330.0L105.8,327.8L106.0,330.1L106.2,329.2L106.4,327.4L106.6,326.3L106.8,329.2L107.0,325.3L107.2,324.0L107.4,324.3L107.6,324.8L107.8,323.2L108.0,322.9L108.2,323.2L108.4,323.1L108.6,325.6L108.8,327.4L109.0,328.2L109.2,331.4L109.4,332.0L109.6,336.9L109.8,338.3L110.0,342.4L110.2,344.2L110.4,349.0L110.6,351.6L110.8,356.6L111.0,357.0L111.2,359.9L111.4,359.6L111.6,362.3L111.8,365.6L112.0,366.5L112.2,369.9L112.4,369.1L112.6,370.5L112.8,371.4L113.0,371.8L113.2,373.5L113.4,372.8L113.6,374.7L113.8,376.4L114.0,376.2L114.2,376.9L114.4,376.9L114.6,377.5L114.8,378.4L115.0,377.6L115.2,376.4L115.4,378.5L115.6,378.4L115.8,379.2L116.0,379.0L116.2,380.8L116.4,378.1L116.6,378.5L116.8,380.4L117.0,378.9L117.2,380.5L117.4,380.3L117.6,378.5L117.8,381.5L118.0,382.4L118.2,381.3L118.4,379.8L118.6,382.1L118.8,380.4L119.0,381.4L119.2,382.1L119.4,381.0L119.6,380.1L119.8,381.9L120.0,382.1L120.2,381.3L120.4,381.5L120.6,383.2L120.8,382.5L121.0,382.2L121.2,382.2L121.4,383.1L121.6,383.1L121.8,383.0L122.0,381.8L122.2,383.0L122.4,382.8L122.6,383.7L122.8,384.9L123.0,384.8L123.2,384.5L123.4,384.0L123.6,383.6L123.8,384.3L124.0,383.5L124.2,383.7L124.4,383.2L124.6,384.0L124.8,384.1L125.0,386.1L125.2,384.8L125.4,383.9L125.6,385.1L125.8,383.9L126.0,385.4L126.2,385.2L126.4,387.4L126.6,383.4L126.8,384.5L127.0,384.5L127.2,384.9L127.4,385.4L127.6,383.7L127.8,384.0L128.0,385.1L128.2,385.8L128.4,383.7L128.6,383.3L128.8,386.1L129.0,385.8L129.2,386.1L129.4,384.1L129.6,384.9L129.8,385.4L130.0,385.6L130.2,385.1L130.4,385.2L130.6,386.3L130.8,384.9L131.0,384.8L131.2,385.0L131.4,384.9L131.6,385.6L131.8,385.3L132.0,385.1L132.2,387.1L132.4,386.0L132.6,385.4L132.8,387.0L133.0,385.2L133.2,385.8L133.4,385.8L133.6,385.3L133.8,385.5L134.0,386.1L134.2,384.6L134.4,385.7L134.6,386.3L134.8,386.4L135.0,386.5L135.2,388.6L135.4,386.9L135.6,386.1L135.8,386.2L136.0,386.4L136.2,386.8L136.4,386.1L136.6,388.0L136.8,385.4L137.0,387.2L137.2,387.1L137.4,385.5L137.6,387.3L137.8,387.3L138.0,386.1L138.2,389.1L138.4,387.6L138.6,386.6L138.8,386.4L139.0,386.2L139.2,387.3L139.4,387.1L139.6,385.7L139.8,386.1L140.0,386.4L140.2,386.7L140.4,386.8L140.6,386.5L140.8,387.7L141.0,388.0L141.2,387.2L141.4,384.9L141.6,386.9L141.8,387.6L142.0,386.9L142.2,387.3L142.4,387.1L142.6,385.5L142.8,384.4L143.0,387.6L143.2,386.4L143.4,387.3L143.6,386.6L143.8,386.7L144.0,388.3L144.2,385.7L144.4,386.8L144.6,385.8L144.8,386.9L145.0,387.3L145.2,387.5L145.4,386.9L145.6,385.4L145.8,387.0L146.0,387.6L146.2,387.7L146.4,388.9L146.6,387.3L146.8,385.7L147.0,386.2L147.2,386.7L147.4,387.7L147.6,385.5L147.8,387.5L148.0,387.3L148.2,385.7L148.4,387.2L148.6,385.8L148.8,386.5L149.0,386.2L149.2,386.8L149.4,385.3L149.6,387.0L149.8,384.3L150.0,386.1L150.2,385.9L150.4,388.0L150.6,387.0L150.8,385.9L151.0,385.5L151.2,386.4L151.4,385.7L151.6,388.6L151.8,383.6L152.0,386.4L152.2,383.9L152.4,387.3L152.6,385.5L152.8,387.9L153.0,385.7L153.2,387.3L153.4,386.4L153.6,387.4L153.8,386.2L154.0,383.2L154.2,385.5L154.4,384.6L154.6,387.1L154.8,386.7L155.0,386.1L155.2,386.6L155.4,386.3L155.6,385.5L155.8,388.0L156.0,386.3L156.2,385.9L156.4,384.6L156.6,385.4L156.8,386.0L157.0,385.8L157.2,385.5L157.4,385.9L157.6,384.8L157.8,385.9L158.0,384.4L158.2,385.0L158.4,385.2L158.6,386.7L158.8,386.4L159.0,385.9L159.2,384.7L159.4,385.4L159.6,386.6L159.8,387.0L160.0,384.3L160.2,385.3L160.4,385.9L160.6,386.1L160.8,385.7L161.0,386.4L161.2,384.3L161.4,387.2L161.6,384.5L161.8,385.7L162.0,386.2L162.2,386.8L162.4,386.5L162.6,386.5L162.8,386.9L163.0,385.4L163.2,386.3L163.4,387.1L163.6,384.8L163.8,384.1L164.0,384.5L164.2,386.9L164.4,386.7L164.6,385.1L164.8,385.7L165.0,385.9L165.2,386.5L165.4,383.5L165.6,384.8L165.8,385.1L166.0,385.7L166.2,385.4L166.4,385.0L166.6,385.5L166.8,382.6L167.0,388.2L167.2,385.8L167.4,385.8L167.6,384.2L167.8,385.3L168.0,386.8L168.2,386.5L168.4,384.7L168.6,383.3L168.8,384.7L169.0,384.2L169.2,385.2L169.4,383.0L169.6,384.1L169.8,384.5L170.0,383.7L170.2,385.1L170.4,382.9L170.6,382.7L170.8,383.5L171.0,384.6L171.2,383.4L171.4,383.1L171.6,384.4L171.8,383.8L172.0,383.0L172.2,383.6L172.4,383.1L172.6,383.9L172.8,383.4L173.0,382.4L173.2,382.6L173.4,382.6L173.6,383.4L173.8,383.3L174.0,382.0L174.2,382.6L174.4,383.0L174.6,383.8L174.8,382.9L175.0,384.5L175.2,382.5L175.4,383.2L175.6,382.0L175.8,381.3L176.0,382.3L176.2,382.6L176.4,382.4L176.6,382.2L176.8,381.6L177.0,381.1L177.2,381.5L177.4,382.2L177.6,382.7L177.8,378.3L178.0,382.2L178.2,382.6L178.4,382.7L178.6,381.7L178.8,381.9L179.0,380.7L179.2,381.0L179.4,381.5L179.6,379.8L179.8,380.0L180.0,380.9L180.2,379.3L180.4,380.6L180.6,379.0L180.8,380.6L181.0,380.3L181.2,379.7L181.4,379.2L181.6,379.5L181.8,377.7L182.0,379.5L182.2,379.9L182.4,380.9L182.6,379.1L182.8,379.4L183.0,380.9L183.2,381.1L183.4,378.8L183.6,380.3L183.8,380.3L184.0,379.6L184.2,378.0L184.4,377.9L184.6,379.4L184.8,381.1L185.0,378.4L185.2,380.1L185.4,380.4L185.6,377.1L185.8,377.7L186.0,379.7L186.2,379.1L186.4,378.6L186.6,377.9L186.8,378.5L187.0,377.1L187.2,380.2L187.4,376.4L187.6,375.7L187.8,377.6L188.0,378.8L188.2,376.8L188.4,377.1L188.6,376.1L188.8,376.9L189.0,375.9L189.2,375.8L189.4,375.3L189.6,376.1L189.8,378.5L190.0,376.4L190.2,376.6L190.4,378.6L190.6,375.6L190.8,375.2L191.0,376.6L191.2,374.8L191.4,376.4L191.6,377.2L191.8,374.9L192.0,375.4L192.2,377.6L192.4,374.8L192.6,375.2L192.8,376.1L193.0,375.5L193.2,374.9L193.4,377.4L193.6,375.1L193.8,376.0L194.0,375.2L194.2,375.4L194.4,374.2L194.6,376.5L194.8,375.1L195.0,376.8L195.2,374.3L195.4,375.0L195.6,375.9L195.8,375.5L196.0,374.7L196.2,375.2L196.4,374.0L196.6,375.3L196.8,372.6L197.0,375.4L197.2,376.6L197.4,376.1L197.6,376.0L197.8,374.7L198.0,375.6L198.2,374.7L198.4,374.9L198.6,374.9L198.8,371.6L199.0,375.9L199.2,375.4L199.4,375.7L199.6,373.9L199.8,375.5L200.0,375.3L200.2,372.5L200.4,373.0L200.6,374.8L200.8,374.0L201.0,374.6L201.2,374.0L201.4,376.1L201.6,372.7L201.8,373.2L202.0,373.5L202.2,373.1L202.4,373.9L202.6,374.4L202.8,373.0L203.0,374.7L203.2,375.7L203.4,375.4L203.6,376.3L203.8,375.4L204.0,374.2L204.2,376.0L204.4,374.9L204.6,376.0L204.8,373.9L205.0,372.0L205.2,372.9L205.4,374.2L205.6,374.6L205.8,373.8L206.0,375.0L206.2,372.8L206.4,373.2L206.6,374.9L206.8,374.1L207.0,374.2L207.2,375.6L207.4,375.4L207.6,373.6L207.8,374.7L208.0,372.8L208.2,374.6L208.4,375.1L208.6,373.1L208.8,376.5L209.0,377.0L209.2,375.6L209.4,376.1L209.6,376.8L209.8,375.2L210.0,376.5L210.2,375.9L210.4,374.1L210.6,374.8L210.8,375.2L211.0,377.0L211.2,376.1L211.4,377.0L211.6,375.7L211.8,374.9L212.0,378.4L212.2,379.2L212.4,376.9L212.6,376.4L212.8,377.9L213.0,375.6L213.2,376.6L213.4,375.5L213.6,377.5L213.8,377.4L214.0,376.8L214.2,376.6L214.4,375.8L214.6,376.6L214.8,378.8L215.0,377.3L215.2,379.0L215.4,376.9L215.6,377.8L215.8,377.5L216.0,377.8L216.2,378.9L216.4,376.2L216.6,379.1L216.8,379.1L217.0,378.5L217.2,378.7L217.4,378.5L217.6,379.5L217.8,378.9L218.0,378.1L218.2,379.2L218.4,380.1L218.6,379.6L218.8,379.3L219.0,379.6L219.2,379.0L219.4,379.1L219.6,377.7L219.8,379.6L220.0,380.8L220.2,379.5L220.4,379.1L220.6,381.0L220.8,380.3L221.0,380.4L221.2,380.8L221.4,381.1L221.6,380.5L221.8,379.8L222.0,382.5L222.2,380.8L222.4,380.1L222.6,381.1L222.8,382.2L223.0,379.7L223.2,382.5L223.4,381.1L223.6,383.4L223.8,382.1L224.0,381.4L224.2,382.9L224.4,383.0L224.6,381.4L224.8,382.1L225.0,381.4L225.2,382.9L225.4,380.7L225.6,382.0L225.8,380.1L226.0,382.9L226.2,380.2L226.4,381.4L226.6,382.8L226.8,382.3L227.0,382.3L227.2,381.8L227.4,382.4L227.6,381.2L227.8,383.4L228.0,383.9L228.2,384.0L228.4,383.3L228.6,384.6L228.8,383.9L229.0,384.5L229.2,384.0L229.4,383.7L229.6,383.0L229.8,381.2L230.0,384.6L230.2,383.9L230.4,386.1L230.6,382.2L230.8,385.1L231.0,383.4L231.2,384.4L231.4,383.6L231.6,384.9L231.8,384.6L232.0,385.6L232.2,385.0L232.4,385.4L232.6,386.3L232.8,385.6L233.0,385.0L233.2,386.5L233.4,385.2L233.6,385.8L233.8,385.2L234.0,384.9L234.2,382.6L234.4,386.4L234.6,384.6L234.8,386.6L235.0,387.8L235.2,384.7L235.4,387.0L235.6,386.1L235.8,386.7L236.0,385.2L236.2,386.5L236.4,386.7L236.6,388.0L236.8,388.8L237.0,387.1L237.2,386.5L237.4,389.1L237.6,386.9L237.8,387.0L238.0,387.2L238.2,387.5L238.4,387.8L238.6,386.5L238.8,387.0L239.0,389.0L239.2,388.8L239.4,387.6L239.6,387.5L239.8,387.0L240.0,388.3L240.2,386.8L240.4,387.4L240.6,386.9L240.8,386.7L241.0,387.4L241.2,387.4L241.4,386.8L241.6,387.3L241.8,387.5L242.0,387.0L242.2,386.8L242.4,387.3L242.6,388.2L242.8,388.6L243.0,387.7L243.2,387.3L243.4,387.6L243.6,389.5L243.8,388.5L244.0,386.7L244.2,387.6L244.4,387.2L244.6,387.3L244.8,386.0L245.0,387.8L245.2,386.4L245.4,387.2L245.6,389.3L245.8,388.8L246.0,387.0L246.2,386.8L246.4,387.0L246.6,386.0L246.8,386.9L247.0,387.7L247.2,386.9L247.4,388.7L247.6,387.9L247.8,387.5L248.0,389.8L248.2,388.8L248.4,388.1L248.6,389.9L248.8,389.4L249.0,387.4L249.2,388.5L249.4,387.7L249.6,386.8L249.8,390.1L250.0,389.7L250.2,387.0L250.4,388.8L250.6,386.6L250.8,389.4L251.0,388.3L251.2,388.1L251.4,389.6L251.6,388.4L251.8,388.1L252.0,389.3L252.2,388.1L252.4,389.3L252.6,388.5L252.8,389.3L253.0,389.1" fill="none" stroke="#E31B23" stroke-width="1.5" stroke-linejoin="round" stroke-linecap="round"/>
<path d="M25.0,428.8L25.2,425.9L25.4,430.6L25.6,427.3L25.8,430.4L26.0,426.5L26.2,427.1L26.4,427.1L26.6,429.4L26.8,426.8L27.0,428.2L27.2,424.9L27.4,426.7L27.6,427.8L27.8,427.3L28.0,424.4L28.2,428.3L28.4,425.9L28.6,430.6L28.8,427.2L29.0,431.1L29.2,428.5L29.4,428.2L29.6,426.7L29.8,427.3L30.0,428.2L30.2,424.3L30.4,429.1L30.6,425.5L30.8,427.0L31.0,422.9L31.2,428.2L31.4,428.6L31.6,427.9L31.8,427.9L32.0,426.8L32.2,427.6L32.4,429.4L32.6,426.7L32.8,428.2L33.0,428.6L33.2,427.0L33.4,427.8L33.6,427.7L33.8,426.6L34.0,431.4L34.2,426.7L34.4,430.2L34.6,429.1L34.8,424.0L35.0,427.8L35.2,429.0L35.4,428.7L35.6,425.8L35.8,427.8L36.0,425.4L36.2,425.6L36.4,426.9L36.6,427.6L36.8,430.0L37.0,427.9L37.2,429.0L37.4,425.3L37.6,425.4L37.8,426.5L38.0,430.2L38.2,425.1L38.4,424.7L38.6,427.2L38.8,429.2L39.0,424.6L39.2,426.8L39.4,425.0L39.6,429.6L39.8,428.4L40.0,427.7L40.2,427.2L40.4,426.9L40.6,427.5L40.8,426.2L41.0,425.8L41.2,425.4L41.4,427.2L41.6,425.9L41.8,428.7L42.0,423.7L42.2,428.1L42.4,428.1L42.6,429.2L42.8,426.8L43.0,424.7L43.2,425.7L43.4,429.1L43.6,426.7L43.8,426.5L44.0,426.2L44.2,427.1L44.4,426.8L44.6,424.6L44.8,426.2L45.0,428.8L45.2,429.5L45.4,426.9L45.6,426.3L45.8,429.4L46.0,426.8L46.2,425.2L46.4,426.9L46.6,428.3L46.8,429.7L47.0,426.3L47.2,428.0L47.4,426.6L47.6,429.0L47.8,427.5L48.0,427.5L48.2,425.5L48.4,426.6L48.6,426.5L48.8,421.1L49.0,428.5L49.2,427.1L49.4,426.7L49.6,426.5L49.8,427.1L50.0,427.5L50.2,424.9L50.4,427.3L50.6,427.2L50.8,427.1L51.0,424.6L51.2,426.8L51.4,424.9L51.6,427.6L51.8,429.2L52.0,428.5L52.2,426.4L52.4,426.0L52.6,425.9L52.8,427.4L53.0,425.7L53.2,425.8L53.4,422.5L53.6,425.2L53.8,425.3L54.0,425.6L54.2,428.5L54.4,424.2L54.6,424.2L54.8,427.3L55.0,424.6L55.2,425.9L55.4,426.4L55.6,426.1L55.8,424.8L56.0,427.5L56.2,428.4L56.4,424.3L56.6,425.4L56.8,427.4L57.0,425.4L57.2,424.1L57.4,425.0L57.6,427.0L57.8,423.9L58.0,425.9L58.2,426.1L58.4,424.3L58.6,426.3L58.8,426.4L59.0,426.9L59.2,426.8L59.4,422.7L59.6,426.6L59.8,426.0L60.0,426.6L60.2,423.5L60.4,426.3L60.6,425.3L60.8,422.6L61.0,426.5L61.2,423.0L61.4,422.5L61.6,424.7L61.8,422.9L62.0,424.4L62.2,423.3L62.4,424.0L62.6,424.8L62.8,423.3L63.0,424.6L63.2,424.5L63.4,421.6L63.6,424.3L63.8,423.8L64.0,422.8L64.2,424.3L64.4,425.1L64.6,423.5L64.8,419.7L65.0,422.7L65.2,421.6L65.4,421.2L65.6,422.1L65.8,420.8L66.0,423.8L66.2,421.4L66.4,420.8L66.6,421.9L66.8,421.8L67.0,422.3L67.2,421.2L67.4,419.9L67.6,420.0L67.8,416.1L68.0,417.0L68.2,421.0L68.4,418.6L68.6,421.9L68.8,421.7L69.0,416.5L69.2,418.9L69.4,423.0L69.6,416.8L69.8,418.5L70.0,417.3L70.2,417.0L70.4,416.6L70.6,416.7L70.8,417.7L71.0,414.8L71.2,416.6L71.4,414.3L71.6,416.0L71.8,415.3L72.0,413.2L72.2,414.4L72.4,412.6L72.6,412.1L72.8,415.1L73.0,409.8L73.2,413.4L73.4,413.3L73.6,410.8L73.8,413.3L74.0,412.7L74.2,408.7L74.4,411.4L74.6,411.0L74.8,408.6L75.0,410.5L75.2,410.2L75.4,407.1L75.6,404.4L75.8,407.7L76.0,405.2L76.2,403.0L76.4,404.6L76.6,400.7L76.8,403.5L77.0,405.9L77.2,398.1L77.4,402.9L77.6,400.0L77.8,400.3L78.0,398.8L78.2,400.7L78.4,398.9L78.6,396.9L78.8,395.3L79.0,396.0L79.2,397.9L79.4,393.2L79.6,395.2L79.8,394.3L80.0,389.7L80.2,394.1L80.4,391.5L80.6,394.5L80.8,393.0L81.0,388.8L81.2,387.9L81.4,385.4L81.6,383.7L81.8,386.3L82.0,383.5L82.2,382.1L82.4,381.5L82.6,381.8L82.8,381.2L83.0,378.6L83.2,377.2L83.4,376.6L83.6,378.8L83.8,370.9L84.0,371.3L84.2,373.0L84.4,371.4L84.6,372.2L84.8,371.2L85.0,371.3L85.2,365.6L85.4,366.9L85.6,364.5L85.8,365.4L86.0,363.1L86.2,363.2L86.4,359.7L86.6,360.4L86.8,358.5L87.0,358.1L87.2,357.0L87.4,355.3L87.6,358.1L87.8,355.9L88.0,357.1L88.2,354.2L88.4,353.2L88.6,355.9L88.8,357.3L89.0,359.5L89.2,360.5L89.4,361.3L89.6,362.4L89.8,362.0L90.0,361.9L90.2,361.4L90.4,364.7L90.6,363.7L90.8,364.1L91.0,367.4L91.2,367.7L91.4,369.7L91.6,368.0L91.8,372.1L92.0,371.6L92.2,371.5L92.4,371.3L92.6,371.5L92.8,371.8L93.0,377.1L93.2,373.2L93.4,377.4L93.6,376.6L93.8,376.9L94.0,377.8L94.2,379.2L94.4,381.6L94.6,381.6L94.8,381.2L95.0,379.4L95.2,379.2L95.4,385.8L95.6,381.6L95.8,381.1L96.0,386.1L96.2,382.3L96.4,386.5L96.6,387.3L96.8,386.7L97.0,388.4L97.2,385.0L97.4,385.6L97.6,387.4L97.8,387.9L98.0,387.9L98.2,389.0L98.4,387.1L98.6,384.9L98.8,389.3L99.0,388.4L99.2,390.3L99.4,392.5L99.6,388.8L99.8,389.2L100.0,386.3L100.2,388.9L100.4,387.5L100.6,387.0L100.8,387.6L101.0,383.8L101.2,386.2L101.4,385.6L101.6,387.1L101.8,381.0L102.0,382.7L102.2,385.2L102.4,379.7L102.6,378.4L102.8,380.8L103.0,380.8L103.2,375.6L103.4,373.0L103.6,371.9L103.8,371.0L104.0,369.1L104.2,367.9L104.4,368.3L104.6,366.9L104.8,366.4L105.0,364.4L105.2,361.1L105.4,363.1L105.6,361.1L105.8,358.5L106.0,357.8L106.2,357.6L106.4,356.6L106.6,355.7L106.8,356.6L107.0,357.1L107.2,355.5L107.4,356.7L107.6,356.1L107.8,359.6L108.0,362.5L108.2,365.0L108.4,365.7L108.6,367.2L108.8,368.5L109.0,372.5L109.2,372.7L109.4,377.1L109.6,379.3L109.8,380.0L110.0,384.3L110.2,385.7L110.4,389.3L110.6,389.7L110.8,393.6L111.0,397.6L111.2,397.1L111.4,399.8L111.6,399.2L111.8,401.4L112.0,400.6L112.2,405.2L112.4,405.3L112.6,408.6L112.8,405.7L113.0,408.4L113.2,410.7L113.4,411.9L113.6,409.2L113.8,412.0L114.0,417.7L114.2,415.5L114.4,415.1L114.6,411.0L114.8,414.8L115.0,417.9L115.2,417.7L115.4,418.3L115.6,419.4L115.8,418.2L116.0,419.8L116.2,415.6L116.4,423.0L116.6,418.6L116.8,418.3L117.0,422.2L117.2,420.9L117.4,421.8L117.6,419.4L117.8,421.2L118.0,422.2L118.2,419.3L118.4,421.1L118.6,421.4L118.8,421.5L119.0,420.9L119.2,420.0L119.4,422.9L119.6,422.6L119.8,424.2L120.0,422.2L120.2,421.2L120.4,420.0L120.6,422.6L120.8,421.9L121.0,425.9L121.2,426.4L121.4,425.2L121.6,421.1L121.8,420.4L122.0,422.3L122.2,421.3L122.4,425.2L122.6,423.1L122.8,422.2L123.0,422.9L123.2,425.1L123.4,421.5L123.6,423.9L123.8,420.9L124.0,422.8L124.2,422.1L124.4,423.8L124.6,423.6L124.8,425.3L125.0,424.5L125.2,422.4L125.4,421.3L125.6,422.2L125.8,422.9L126.0,423.2L126.2,422.4L126.4,425.5L126.6,425.3L126.8,423.3L127.0,423.0L127.2,423.5L127.4,423.9L127.6,423.9L127.8,421.3L128.0,423.3L128.2,421.0L128.4,424.2L128.6,425.3L128.8,422.5L129.0,424.6L129.2,423.3L129.4,423.2L129.6,427.7L129.8,425.9L130.0,425.3L130.2,423.8L130.4,425.2L130.6,424.3L130.8,425.4L131.0,423.1L131.2,424.5L131.4,424.0L131.6,422.4L131.8,427.6L132.0,426.1L132.2,423.5L132.4,422.4L132.6,423.6L132.8,423.5L133.0,423.9L133.2,422.4L133.4,423.6L133.6,425.1L133.8,425.7L134.0,421.7L134.2,425.0L134.4,423.4L134.6,423.4L134.8,424.6L135.0,424.0L135.2,426.3L135.4,426.4L135.6,424.7L135.8,424.2L136.0,428.3L136.2,428.4L136.4,426.0L136.6,425.1L136.8,427.1L137.0,427.8L137.2,424.6L137.4,428.5L137.6,425.2L137.8,427.3L138.0,424.7L138.2,425.7L138.4,424.8L138.6,425.7L138.8,427.4L139.0,424.2L139.2,425.2L139.4,426.6L139.6,425.0L139.8,429.2L140.0,423.4L140.2,430.0L140.4,424.6L140.6,427.4L140.8,428.4L141.0,426.6L141.2,423.3L141.4,425.0L141.6,425.7L141.8,426.5L142.0,427.2L142.2,427.4L142.4,427.9L142.6,423.8L142.8,427.1L143.0,422.4L143.2,425.6L143.4,423.5L143.6,422.3L143.8,426.8L144.0,425.2L144.2,426.9L144.4,422.5L144.6,423.1L144.8,425.0L145.0,424.0L145.2,425.2L145.4,424.0L145.6,424.4L145.8,423.1L146.0,427.1L146.2,424.4L146.4,422.9L146.6,426.0L146.8,425.7L147.0,425.2L147.2,425.2L147.4,424.1L147.6,424.5L147.8,421.0L148.0,422.0L148.2,422.6L148.4,425.1L148.6,426.6L148.8,424.3L149.0,424.1L149.2,426.4L149.4,423.9L149.6,425.5L149.8,425.1L150.0,422.1L150.2,424.9L150.4,424.7L150.6,422.4L150.8,422.5L151.0,422.1L151.2,426.5L151.4,427.8L151.6,425.4L151.8,426.8L152.0,421.8L152.2,426.5L152.4,427.4L152.6,426.7L152.8,422.4L153.0,425.8L153.2,423.7L153.4,425.7L153.6,422.8L153.8,423.9L154.0,422.9L154.2,424.6L154.4,423.6L154.6,425.6L154.8,425.1L155.0,424.4L155.2,423.6L155.4,423.1L155.6,423.6L155.8,424.8L156.0,423.8L156.2,424.0L156.4,423.4L156.6,423.3L156.8,422.3L157.0,420.2L157.2,424.3L157.4,424.3L157.6,421.7L157.8,426.5L158.0,421.3L158.2,424.9L158.4,423.6L158.6,423.7L158.8,425.1L159.0,424.7L159.2,423.1L159.4,421.3L159.6,421.0L159.8,423.3L160.0,425.6L160.2,424.4L160.4,422.9L160.6,423.4L160.8,424.0L161.0,425.7L161.2,421.5L161.4,424.0L161.6,423.2L161.8,421.4L162.0,421.0L162.2,424.8L162.4,423.2L162.6,422.2L162.8,422.7L163.0,424.2L163.2,422.7L163.4,425.2L163.6,422.0L163.8,421.1L164.0,422.2L164.2,420.8L164.4,421.8L164.6,424.4L164.8,425.2L165.0,423.3L165.2,422.6L165.4,420.7L165.6,420.5L165.8,422.8L166.0,422.4L166.2,421.1L166.4,421.3L166.6,424.6L166.8,423.6L167.0,422.0L167.2,422.3L167.4,424.0L167.6,422.4L167.8,422.1L168.0,419.0L168.2,418.8L168.4,418.4L168.6,417.7L168.8,421.5L169.0,422.0L169.2,420.0L169.4,422.1L169.6,422.1L169.8,421.2L170.0,418.8L170.2,423.7L170.4,423.5L170.6,420.1L170.8,424.4L171.0,421.1L171.2,419.7L171.4,420.3L171.6,417.8L171.8,420.3L172.0,418.1L172.2,422.7L172.4,421.3L172.6,418.3L172.8,421.6L173.0,417.7L173.2,420.8L173.4,421.3L173.6,420.6L173.8,418.5L174.0,420.2L174.2,420.0L174.4,420.4L174.6,422.8L174.8,423.1L175.0,422.8L175.2,419.0L175.4,418.8L175.6,420.1L175.8,420.7L176.0,416.4L176.2,418.9L176.4,422.9L176.6,417.7L176.8,418.5L177.0,418.5L177.2,420.5L177.4,419.5L177.6,419.0L177.8,417.0L178.0,420.5L178.2,419.5L178.4,418.3L178.6,419.4L178.8,420.6L179.0,416.7L179.2,416.5L179.4,417.4L179.6,417.6L179.8,413.8L180.0,417.9L180.2,420.8L180.4,418.3L180.6,420.5L180.8,413.8L181.0,418.5L181.2,421.0L181.4,421.2L181.6,417.7L181.8,417.0L182.0,419.0L182.2,416.3L182.4,417.7L182.6,415.4L182.8,418.3L183.0,418.1L183.2,420.8L183.4,418.6L183.6,416.8L183.8,417.7L184.0,415.6L184.2,417.8L184.4,417.4L184.6,418.4L184.8,419.2L185.0,414.2L185.2,418.1L185.4,418.7L185.6,415.4L185.8,420.6L186.0,416.1L186.2,421.4L186.4,418.5L186.6,418.8L186.8,417.5L187.0,418.7L187.2,415.2L187.4,415.5L187.6,413.5L187.8,417.7L188.0,415.5L188.2,418.0L188.4,417.6L188.6,414.3L188.8,417.7L189.0,416.9L189.2,416.7L189.4,417.1L189.6,416.2L189.8,416.3L190.0,418.0L190.2,414.4L190.4,414.0L190.6,414.7L190.8,417.7L191.0,415.4L191.2,419.1L191.4,410.6L191.6,414.6L191.8,415.0L192.0,416.2L192.2,418.0L192.4,415.4L192.6,414.0L192.8,417.1L193.0,418.3L193.2,411.3L193.4,416.6L193.6,416.1L193.8,414.1L194.0,414.7L194.2,416.0L194.4,415.5L194.6,415.0L194.8,413.4L195.0,415.9L195.2,414.2L195.4,415.5L195.6,414.3L195.8,415.6L196.0,416.5L196.2,415.6L196.4,416.3L196.6,412.8L196.8,415.9L197.0,415.6L197.2,414.0L197.4,414.8L197.6,410.3L197.8,415.2L198.0,414.3L198.2,411.1L198.4,415.8L198.6,413.8L198.8,415.4L199.0,414.5L199.2,415.7L199.4,415.0L199.6,414.3L199.8,415.6L200.0,416.2L200.2,410.8L200.4,414.7L200.6,413.6L200.8,412.7L201.0,416.8L201.2,416.2L201.4,412.8L201.6,412.6L201.8,415.9L202.0,413.4L202.2,413.9L202.4,411.1L202.6,414.2L202.8,416.3L203.0,413.6L203.2,414.1L203.4,417.3L203.6,415.8L203.8,416.8L204.0,415.5L204.2,416.6L204.4,411.8L204.6,413.3L204.8,411.9L205.0,418.6L205.2,415.1L205.4,414.7L205.6,413.7L205.8,413.3L206.0,410.3L206.2,419.0L206.4,415.1L206.6,415.4L206.8,412.9L207.0,415.3L207.2,416.1L207.4,415.4L207.6,416.6L207.8,414.2L208.0,416.2L208.2,417.3L208.4,416.8L208.6,416.5L208.8,415.7L209.0,414.3L209.2,417.0L209.4,415.4L209.6,414.6L209.8,417.5L210.0,413.6L210.2,415.4L210.4,417.7L210.6,418.1L210.8,415.9L211.0,416.7L211.2,417.6L211.4,416.6L211.6,415.5L211.8,417.6L212.0,417.2L212.2,417.1L212.4,418.9L212.6,417.6L212.8,416.4L213.0,417.5L213.2,420.6L213.4,416.1L213.6,416.9L213.8,416.1L214.0,418.1L214.2,415.4L214.4,418.4L214.6,419.0L214.8,416.4L215.0,416.4L215.2,415.3L215.4,418.0L215.6,416.1L215.8,417.0L216.0,417.4L216.2,417.0L216.4,419.6L216.6,421.0L216.8,414.7L217.0,417.0L217.2,418.9L217.4,416.7L217.6,417.7L217.8,419.0L218.0,421.1L218.2,420.8L218.4,418.3L218.6,419.1L218.8,418.3L219.0,418.7L219.2,417.1L219.4,416.1L219.6,418.6L219.8,420.9L220.0,420.6L220.2,416.2L220.4,419.1L220.6,418.4L220.8,420.0L221.0,417.8L221.2,421.2L221.4,419.4L221.6,420.8L221.8,421.3L222.0,416.6L222.2,419.6L222.4,422.6L222.6,420.1L222.8,421.9L223.0,420.9L223.2,419.4L223.4,420.8L223.6,422.2L223.8,422.7L224.0,423.0L224.2,418.7L224.4,422.0L224.6,418.4L224.8,420.5L225.0,420.5L225.2,421.9L225.4,421.5L225.6,423.1L225.8,420.0L226.0,422.6L226.2,421.8L226.4,421.2L226.6,419.3L226.8,422.3L227.0,422.0L227.2,422.8L227.4,421.5L227.6,421.2L227.8,422.3L228.0,422.5L228.2,422.9L228.4,425.1L228.6,420.8L228.8,425.4L229.0,417.0L229.2,423.7L229.4,420.7L229.6,425.6L229.8,420.8L230.0,424.1L230.2,420.7L230.4,420.5L230.6,423.9L230.8,424.0L231.0,421.4L231.2,426.8L231.4,422.2L231.6,425.4L231.8,421.1L232.0,421.3L232.2,423.1L232.4,421.3L232.6,423.9L232.8,419.5L233.0,423.5L233.2,422.3L233.4,421.7L233.6,423.8L233.8,423.1L234.0,422.8L234.2,425.0L234.4,424.1L234.6,424.3L234.8,426.0L235.0,423.7L235.2,425.3L235.4,423.2L235.6,425.0L235.8,424.9L236.0,423.2L236.2,421.6L236.4,422.1L236.6,422.7L236.8,425.3L237.0,424.2L237.2,424.0L237.4,425.3L237.6,425.8L237.8,427.0L238.0,423.6L238.2,425.6L238.4,425.9L238.6,423.1L238.8,425.0L239.0,423.2L239.2,424.4L239.4,425.6L239.6,422.0L239.8,423.4L240.0,423.6L240.2,425.1L240.4,423.7L240.6,425.7L240.8,423.6L241.0,424.2L241.2,426.1L241.4,425.7L241.6,425.4L241.8,425.1L242.0,426.9L242.2,427.6L242.4,424.7L242.6,424.1L242.8,423.6L243.0,428.3L243.2,423.9L243.4,423.2L243.6,425.9L243.8,427.3L244.0,423.4L244.2,425.3L244.4,423.1L244.6,424.4L244.8,428.4L245.0,425.9L245.2,425.2L245.4,425.8L245.6,426.2L245.8,425.6L246.0,423.8L246.2,423.8L246.4,429.2L246.6,424.6L246.8,427.9L247.0,424.7L247.2,428.2L247.4,427.2L247.6,425.7L247.8,429.5L248.0,424.5L248.2,425.7L248.4,424.7L248.6,424.9L248.8,425.6L249.0,424.6L249.2,425.7L249.4,429.0L249.6,423.4L249.8,424.2L250.0,424.8L250.2,425.6L250.4,428.1L250.6,427.7L250.8,427.3L251.0,426.9L251.2,430.6L251.4,424.7L251.6,424.7L251.8,426.6L252.0,427.0L252.2,426.3L252.4,425.3L252.6,424.5L252.8,426.3L253.0,425.6" fill="none" stroke="#888888" stroke-width="0.5" stroke-linejoin="round" stroke-linecap="round" opacity="0.5"/>
<path d="M25.0,426.5L25.5,425.3L26.0,430.1L26.5,428.4L27.0,431.1L27.5,426.4L28.0,427.6L28.5,426.9L29.0,427.5L29.5,426.9L30.0,427.1L30.5,423.5L31.0,426.8L31.5,428.8L32.0,423.5L32.5,426.7L33.0,428.5L33.5,429.9L34.0,427.2L34.5,428.2L35.0,430.8L35.5,429.9L36.0,426.4L36.5,426.1L37.0,429.3L37.5,427.7L38.0,426.2L38.5,426.8L39.0,427.9L39.5,426.8L40.0,426.7L40.5,426.7L41.0,424.2L41.5,430.6L42.0,429.6L42.5,430.2L43.0,426.9L43.5,427.4L44.0,428.3L44.5,428.8L45.0,423.5L45.5,427.8L46.0,425.1L46.5,427.0L47.0,425.8L47.5,430.5L48.0,428.1L48.5,427.0L49.0,429.8L49.5,426.9L50.0,425.6L50.5,426.7L51.0,426.3L51.5,427.1L52.0,428.7L52.5,426.6L53.0,426.6L53.5,428.6L54.0,427.1L54.5,428.3L55.0,426.5L55.5,423.5L56.0,423.8L56.5,422.6L57.0,428.0L57.5,426.4L58.0,424.6L58.5,423.4L59.0,426.0L59.5,424.9L60.0,425.6L60.5,423.0L61.0,422.2L61.5,427.2L62.0,421.9L62.5,423.5L63.0,425.9L63.5,419.3L64.0,424.0L64.5,422.4L65.0,421.7L65.5,422.1L66.0,418.8L66.5,416.3L67.0,424.0L67.5,419.3L68.0,421.2L68.5,421.2L69.0,419.1L69.5,419.0L70.0,419.1L70.5,420.0L71.0,417.0L71.5,417.7L72.0,413.8L72.5,412.8L73.0,412.9L73.5,412.8L74.0,412.2L74.5,414.2L75.0,411.2L75.5,408.1L76.0,410.4L76.5,405.6L77.0,404.1L77.5,402.8L78.0,399.7L78.5,396.4L79.0,397.0L79.5,394.2L80.0,391.3L80.5,391.4L81.0,388.8L81.5,385.3L82.0,380.3L82.5,380.9L83.0,382.0L83.5,377.6L84.0,375.4L84.5,370.6L85.0,370.1L85.5,364.0L86.0,361.8L86.5,361.5L87.0,355.7L87.5,356.7L88.0,355.9L88.5,360.0L89.0,356.7L89.5,360.4L90.0,360.4L90.5,362.9L91.0,361.0L91.5,366.8L92.0,373.3L92.5,373.9L93.0,375.1L93.5,381.5L94.0,379.6L94.5,377.9L95.0,381.3L95.5,382.8L96.0,387.4L96.5,383.7L97.0,387.6L97.5,389.6L98.0,386.4L98.5,388.5L99.0,384.7L99.5,389.0L100.0,383.4L100.5,386.0L101.0,389.1L101.5,385.4L102.0,382.9L102.5,380.0L103.0,380.9L103.5,374.6L104.0,372.5L104.5,366.5L105.0,363.5L105.5,359.2L106.0,357.9L106.5,354.8L107.0,357.3L107.5,358.6L108.0,361.5L108.5,365.3L109.0,366.4L109.5,376.9L110.0,384.4L110.5,390.7L111.0,388.9L111.5,394.6L112.0,404.0L112.5,405.7L113.0,409.4L113.5,410.7L114.0,414.6L114.5,411.5L115.0,415.9L115.5,419.5L116.0,418.7L116.5,417.3L117.0,420.5L117.5,420.9L118.0,419.2L118.5,423.0L119.0,423.4L119.5,421.9L120.0,424.1L120.5,420.1L121.0,424.0L121.5,422.2L122.0,420.9L122.5,421.7L123.0,425.3L123.5,422.0L124.0,422.5L124.5,422.0L125.0,421.8L125.5,425.4L126.0,428.0L126.5,426.4L127.0,424.8L127.5,425.4L128.0,423.4L128.5,423.2L129.0,422.0L129.5,427.2L130.0,423.8L130.5,423.2L131.0,423.4L131.5,425.1L132.0,423.7L132.5,424.9L133.0,425.2L133.5,427.6L134.0,422.6L134.5,425.7L135.0,423.8L135.5,424.4L136.0,428.5L136.5,426.6L137.0,424.7L137.5,426.5L138.0,425.5L138.5,427.8L139.0,424.7L139.5,426.7L140.0,425.4L140.5,425.8L141.0,425.4L141.5,424.4L142.0,425.7L142.5,427.4L143.0,424.2L143.5,424.6L144.0,426.0L144.5,423.7L145.0,426.8L145.5,426.4L146.0,420.4L146.5,423.6L147.0,422.7L147.5,426.4L148.0,426.5L148.5,422.2L149.0,423.2L149.5,424.3L150.0,423.7L150.5,425.8L151.0,426.2L151.5,425.4L152.0,426.3L152.5,425.9L153.0,423.8L153.5,423.0L154.0,422.4L154.5,425.4L155.0,425.5L155.5,425.6L156.0,422.9L156.5,422.7L157.0,423.9L157.5,425.8L158.0,424.0L158.5,423.6L159.0,421.5L159.5,423.9L160.0,424.0L160.5,421.0L161.0,426.3L161.5,421.0L162.0,424.5L162.5,422.2L163.0,422.9L163.5,420.9L164.0,421.3L164.5,423.7L165.0,421.9L165.5,421.5L166.0,423.9L166.5,423.4L167.0,422.3L167.5,422.3L168.0,425.1L168.5,421.3L169.0,422.3L169.5,422.2L170.0,418.5L170.5,417.4L171.0,421.3L171.5,422.7L172.0,421.2L172.5,419.7L173.0,419.3L173.5,422.1L174.0,419.8L174.5,417.1L175.0,421.5L175.5,420.5L176.0,420.7L176.5,421.9L177.0,422.4L177.5,420.7L178.0,419.2L178.5,415.2L179.0,419.8L179.5,418.8L180.0,421.6L180.5,421.3L181.0,419.6L181.5,421.3L182.0,418.3L182.5,418.2L183.0,416.5L183.5,417.4L184.0,418.3L184.5,419.8L185.0,416.1L185.5,419.0L186.0,421.9L186.5,414.5L187.0,416.5L187.5,416.9L188.0,418.7L188.5,420.5L189.0,418.9L189.5,416.3L190.0,414.5L190.5,416.0L191.0,415.9L191.5,416.3L192.0,414.0L192.5,418.7L193.0,414.2L193.5,416.9L194.0,416.0L194.5,413.3L195.0,415.5L195.5,415.4L196.0,414.9L196.5,416.8L197.0,414.2L197.5,420.1L198.0,417.2L198.5,413.2L199.0,410.0L199.5,417.3L200.0,415.3L200.5,414.9L201.0,412.7L201.5,411.7L202.0,410.8L202.5,419.5L203.0,417.5L203.5,413.3L204.0,418.2L204.5,411.0L205.0,416.2L205.5,416.3L206.0,413.4L206.5,414.4L207.0,413.3L207.5,415.6L208.0,418.3L208.5,417.8L209.0,416.8L209.5,418.4L210.0,412.8L210.5,420.5L211.0,416.5L211.5,414.2L212.0,416.2L212.5,415.8L213.0,417.4L213.5,418.0L214.0,412.9L214.5,420.2L215.0,421.3L215.5,415.9L216.0,421.1L216.5,420.8L217.0,420.4L217.5,421.8L218.0,416.0L218.5,420.3L219.0,417.0L219.5,423.9L220.0,417.4L220.5,417.1L221.0,421.9L221.5,421.0L222.0,420.0L222.5,420.4L223.0,421.5L223.5,423.8L224.0,419.1L224.5,419.6L225.0,419.7L225.5,420.8L226.0,421.2L226.5,418.7L227.0,422.0L227.5,419.1L228.0,421.1L228.5,421.4L229.0,421.5L229.5,425.1L230.0,425.6L230.5,424.6L231.0,425.8L231.5,422.2L232.0,425.7L232.5,423.0L233.0,423.7L233.5,423.9L234.0,420.9L234.5,422.5L235.0,423.5L235.5,424.7L236.0,423.9L236.5,422.6L237.0,422.1L237.5,424.6L238.0,422.3L238.5,422.4L239.0,424.6L239.5,425.2L240.0,423.3L240.5,421.5L241.0,425.7L241.5,426.8L242.0,424.4L242.5,424.6L243.0,420.7L243.5,427.2L244.0,423.3L244.5,427.0L245.0,424.5L245.5,425.4L246.0,425.4L246.5,422.3L247.0,431.4L247.5,422.9L248.0,426.3L248.5,424.5L249.0,425.8L249.5,429.1L250.0,422.6L250.5,426.2L251.0,427.5L251.5,426.8L252.0,427.5L252.5,425.2L253.0,423.5" fill="none" stroke="#111111" stroke-width="0.8" stroke-linejoin="round" stroke-linecap="round"/>
<path d="M25.0,426.1L25.2,427.1L25.4,428.3L25.6,427.6L25.8,429.2L26.0,427.6L26.2,427.7L26.4,427.7L26.6,425.7L26.8,428.1L27.0,426.3L27.2,427.1L27.4,429.9L27.6,426.2L27.8,427.6L28.0,427.8L28.2,427.6L28.4,427.4L28.6,426.8L28.8,429.5L29.0,425.3L29.2,426.3L29.4,429.0L29.6,428.0L29.8,426.6L30.0,426.5L30.2,427.1L30.4,430.2L30.6,427.9L30.8,426.3L31.0,427.6L31.2,426.7L31.4,429.0L31.6,427.7L31.8,428.7L32.0,427.5L32.2,429.5L32.4,427.8L32.6,427.7L32.8,426.3L33.0,426.9L33.2,427.8L33.4,426.8L33.6,430.0L33.8,427.3L34.0,426.5L34.2,428.4L34.4,426.8L34.6,427.7L34.8,427.2L35.0,426.6L35.2,428.8L35.4,427.4L35.6,428.4L35.8,426.9L36.0,425.8L36.2,426.0L36.4,426.7L36.6,427.1L36.8,427.3L37.0,427.8L37.2,426.0L37.4,427.5L37.6,426.0L37.8,426.5L38.0,430.0L38.2,428.6L38.4,426.9L38.6,429.1L38.8,428.7L39.0,428.2L39.2,428.8L39.4,427.0L39.6,427.1L39.8,426.3L40.0,427.8L40.2,425.9L40.4,426.7L40.6,427.7L40.8,426.7L41.0,427.6L41.2,429.1L41.4,426.2L41.6,428.7L41.8,426.5L42.0,426.2L42.2,427.4L42.4,428.3L42.6,426.4L42.8,426.4L43.0,426.7L43.2,426.4L43.4,427.4L43.6,426.4L43.8,426.9L44.0,427.5L44.2,426.7L44.4,428.4L44.6,426.4L44.8,426.3L45.0,429.3L45.2,428.7L45.4,427.2L45.6,428.0L45.8,427.5L46.0,426.6L46.2,427.8L46.4,427.4L46.6,428.4L46.8,425.2L47.0,427.9L47.2,427.3L47.4,426.4L47.6,426.6L47.8,426.7L48.0,425.7L48.2,426.5L48.4,427.9L48.6,425.5L48.8,426.7L49.0,424.6L49.2,426.4L49.4,427.5L49.6,427.0L49.8,427.1L50.0,425.9L50.2,427.6L50.4,426.1L50.6,428.0L50.8,427.2L51.0,426.6L51.2,428.6L51.4,426.6L51.6,428.1L51.8,427.1L52.0,427.0L52.2,428.0L52.4,427.4L52.6,426.8L52.8,426.7L53.0,427.0L53.2,426.8L53.4,426.3L53.6,425.5L53.8,423.8L54.0,426.4L54.2,426.2L54.4,427.7L54.6,426.8L54.8,427.5L55.0,428.1L55.2,426.1L55.4,425.3L55.6,427.0L55.8,425.4L56.0,425.7L56.2,427.5L56.4,426.5L56.6,427.0L56.8,424.4L57.0,425.8L57.2,426.9L57.4,424.3L57.6,425.8L57.8,426.0L58.0,423.1L58.2,427.1L58.4,424.7L58.6,425.2L58.8,427.1L59.0,423.4L59.2,425.7L59.4,424.7L59.6,425.1L59.8,424.2L60.0,426.4L60.2,423.7L60.4,425.1L60.6,425.2L60.8,424.4L61.0,424.1L61.2,424.0L61.4,425.2L61.6,424.5L61.8,423.8L62.0,422.7L62.2,423.9L62.4,424.1L62.6,423.4L62.8,424.8L63.0,421.2L63.2,425.7L63.4,422.8L63.6,421.6L63.8,420.9L64.0,423.5L64.2,423.1L64.4,422.1L64.6,422.2L64.8,422.3L65.0,421.6L65.2,423.0L65.4,422.3L65.6,421.4L65.8,419.6L66.0,422.6L66.2,420.5L66.4,419.7L66.6,422.0L66.8,421.0L67.0,418.2L67.2,418.4L67.4,419.5L67.6,418.4L67.8,419.4L68.0,422.2L68.2,422.4L68.4,419.0L68.6,419.8L68.8,419.7L69.0,418.4L69.2,416.8L69.4,419.4L69.6,417.9L69.8,418.4L70.0,418.5L70.2,416.5L70.4,418.8L70.6,416.8L70.8,416.6L71.0,415.6L71.2,416.5L71.4,416.5L71.6,414.5L71.8,415.4L72.0,414.0L72.2,412.8L72.4,413.4L72.6,414.1L72.8,413.7L73.0,413.9L73.2,411.8L73.4,411.8L73.6,411.9L73.8,412.1L74.0,411.0L74.2,409.8L74.4,408.9L74.6,411.4L74.8,411.0L75.0,408.8L75.2,410.5L75.4,408.2L75.6,408.2L75.8,408.4L76.0,405.9L76.2,405.0L76.4,403.4L76.6,404.9L76.8,404.5L77.0,404.3L77.2,403.4L77.4,402.3L77.6,402.8L77.8,399.9L78.0,400.7L78.2,400.2L78.4,398.8L78.6,400.0L78.8,397.9L79.0,398.1L79.2,396.9L79.4,395.0L79.6,396.5L79.8,394.9L80.0,393.0L80.2,392.2L80.4,390.5L80.6,390.7L80.8,389.8L81.0,389.4L81.2,387.7L81.4,387.7L81.6,385.9L81.8,383.3L82.0,383.3L82.2,381.9L82.4,380.4L82.6,380.4L82.8,380.6L83.0,377.4L83.2,375.4L83.4,376.2L83.6,378.5L83.8,373.7L84.0,373.5L84.2,371.8L84.4,372.1L84.6,371.6L84.8,368.9L85.0,369.3L85.2,365.8L85.4,366.1L85.6,363.5L85.8,364.0L86.0,362.1L86.2,362.0L86.4,359.8L86.6,360.4L86.8,359.5L87.0,358.0L87.2,356.9L87.4,355.7L87.6,355.8L87.8,355.8L88.0,355.2L88.2,356.0L88.4,357.8L88.6,356.7L88.8,357.9L89.0,359.0L89.2,359.2L89.4,359.7L89.6,359.9L89.8,362.8L90.0,361.6L90.2,362.2L90.4,364.2L90.6,366.2L90.8,366.9L91.0,366.4L91.2,368.2L91.4,368.8L91.6,369.2L91.8,370.8L92.0,371.7L92.2,371.9L92.4,374.3L92.6,372.9L92.8,375.5L93.0,377.0L93.2,377.8L93.4,376.6L93.6,376.9L93.8,376.1L94.0,378.5L94.2,381.9L94.4,378.4L94.6,379.1L94.8,382.1L95.0,382.3L95.2,380.3L95.4,382.6L95.6,383.6L95.8,382.1L96.0,385.2L96.2,383.3L96.4,386.4L96.6,386.0L96.8,385.5L97.0,385.1L97.2,386.9L97.4,387.5L97.6,387.6L97.8,387.3L98.0,387.8L98.2,389.1L98.4,387.4L98.6,388.2L98.8,389.1L99.0,388.7L99.2,389.8L99.4,390.7L99.6,388.2L99.8,388.4L100.0,384.7L100.2,387.0L100.4,387.6L100.6,385.3L100.8,387.5L101.0,383.7L101.2,386.7L101.4,384.3L101.6,383.4L101.8,383.5L102.0,382.5L102.2,380.5L102.4,378.9L102.6,378.5L102.8,378.9L103.0,377.0L103.2,376.8L103.4,373.5L103.6,372.5L103.8,371.3L104.0,370.6L104.2,369.7L104.4,369.9L104.6,367.5L104.8,365.7L105.0,365.8L105.2,362.3L105.4,360.5L105.6,361.4L105.8,359.6L106.0,358.4L106.2,358.0L106.4,356.1L106.6,355.8L106.8,355.7L107.0,356.0L107.2,357.1L107.4,356.8L107.6,358.2L107.8,357.3L108.0,363.0L108.2,361.9L108.4,365.4L108.6,370.0L108.8,369.4L109.0,370.4L109.2,376.2L109.4,376.3L109.6,379.0L109.8,381.4L110.0,384.6L110.2,386.8L110.4,388.1L110.6,391.7L110.8,391.8L111.0,395.7L111.2,396.1L111.4,399.2L111.6,399.5L111.8,401.5L112.0,405.2L112.2,404.2L112.4,405.9L112.6,409.0L112.8,408.8L113.0,409.4L113.2,410.4L113.4,413.5L113.6,410.9L113.8,412.4L114.0,413.6L114.2,413.1L114.4,414.8L114.6,416.1L114.8,415.3L115.0,418.2L115.2,416.1L115.4,417.4L115.6,418.1L115.8,421.4L116.0,416.5L116.2,418.9L116.4,421.5L116.6,418.5L116.8,420.5L117.0,419.9L117.2,418.4L117.4,420.6L117.6,419.5L117.8,420.8L118.0,419.4L118.2,422.0L118.4,418.9L118.6,421.6L118.8,423.4L119.0,422.6L119.2,421.7L119.4,421.9L119.6,421.7L119.8,425.1L120.0,422.2L120.2,422.3L120.4,421.6L120.6,421.9L120.8,423.1L121.0,421.9L121.2,421.7L121.4,422.0L121.6,422.3L121.8,422.9L122.0,422.2L122.2,422.6L122.4,422.0L122.6,424.1L122.8,423.0L123.0,422.6L123.2,423.3L123.4,423.0L123.6,421.4L123.8,422.9L124.0,424.9L124.2,423.7L124.4,424.5L124.6,422.6L124.8,421.8L125.0,422.7L125.2,424.8L125.4,422.4L125.6,422.7L125.8,424.7L126.0,423.3L126.2,423.4L126.4,424.1L126.6,423.8L126.8,423.5L127.0,424.1L127.2,423.1L127.4,423.9L127.6,424.7L127.8,422.9L128.0,423.8L128.2,422.9L128.4,424.9L128.6,424.8L128.8,425.2L129.0,425.4L129.2,425.4L129.4,425.1L129.6,423.6L129.8,425.4L130.0,423.5L130.2,427.0L130.4,424.9L130.6,425.2L130.8,423.3L131.0,425.8L131.2,425.9L131.4,423.0L131.6,424.1L131.8,424.2L132.0,424.1L132.2,426.2L132.4,427.1L132.6,423.7L132.8,426.0L133.0,424.6L133.2,426.4L133.4,422.4L133.6,424.5L133.8,426.3L134.0,424.2L134.2,426.3L134.4,424.5L134.6,426.3L134.8,425.7L135.0,424.7L135.2,424.4L135.4,425.0L135.6,426.4L135.8,425.2L136.0,424.6L136.2,428.8L136.4,423.7L136.6,425.1L136.8,425.9L137.0,424.3L137.2,425.4L137.4,425.0L137.6,423.9L137.8,426.0L138.0,424.3L138.2,424.8L138.4,426.9L138.6,424.4L138.8,426.3L139.0,426.9L139.2,426.7L139.4,426.2L139.6,425.5L139.8,424.3L140.0,425.9L140.2,426.2L140.4,425.2L140.6,424.7L140.8,426.6L141.0,424.5L141.2,426.1L141.4,425.1L141.6,423.8L141.8,427.2L142.0,426.1L142.2,426.0L142.4,424.0L142.6,425.3L142.8,425.7L143.0,424.6L143.2,427.1L143.4,423.2L143.6,426.0L143.8,423.3L144.0,423.6L144.2,423.8L144.4,425.8L144.6,424.4L144.8,424.4L145.0,424.1L145.2,423.5L145.4,424.1L145.6,423.9L145.8,424.6L146.0,424.5L146.2,422.4L146.4,424.2L146.6,426.1L146.8,424.3L147.0,424.7L147.2,424.0L147.4,424.0L147.6,424.6L147.8,423.2L148.0,424.4L148.2,422.8L148.4,424.9L148.6,422.8L148.8,425.2L149.0,425.5L149.2,422.7L149.4,425.1L149.6,423.9L149.8,425.5L150.0,423.7L150.2,424.0L150.4,423.9L150.6,425.5L150.8,422.1L151.0,424.9L151.2,424.2L151.4,423.6L151.6,423.8L151.8,425.0L152.0,424.9L152.2,425.7L152.4,423.3L152.6,421.9L152.8,423.3L153.0,423.6L153.2,423.4L153.4,425.1L153.6,426.2L153.8,424.1L154.0,421.8L154.2,424.8L154.4,423.0L154.6,423.7L154.8,424.5L155.0,424.0L155.2,423.5L155.4,423.8L155.6,424.3L155.8,424.1L156.0,425.6L156.2,420.2L156.4,422.5L156.6,422.7L156.8,424.2L157.0,423.5L157.2,424.1L157.4,421.7L157.6,423.0L157.8,423.8L158.0,423.1L158.2,422.7L158.4,423.4L158.6,424.8L158.8,420.8L159.0,424.7L159.2,423.3L159.4,422.0L159.6,423.6L159.8,422.9L160.0,424.1L160.2,422.0L160.4,423.8L160.6,421.8L160.8,423.1L161.0,423.4L161.2,422.6L161.4,423.3L161.6,422.0L161.8,423.7L162.0,422.0L162.2,421.8L162.4,422.4L162.6,422.4L162.8,421.6L163.0,423.3L163.2,422.3L163.4,423.0L163.6,420.8L163.8,420.9L164.0,422.0L164.2,421.2L164.4,422.1L164.6,422.8L164.8,423.3L165.0,423.7L165.2,422.9L165.4,421.3L165.6,422.6L165.8,421.5L166.0,422.6L166.2,420.9L166.4,423.3L166.6,422.3L166.8,421.5L167.0,420.4L167.2,422.0L167.4,421.2L167.6,421.9L167.8,420.9L168.0,421.0L168.2,422.2L168.4,423.0L168.6,420.1L168.8,421.2L169.0,421.8L169.2,421.2L169.4,420.8L169.6,423.5L169.8,420.3L170.0,421.5L170.2,420.6L170.4,421.0L170.6,418.6L170.8,421.9L171.0,420.7L171.2,419.9L171.4,422.6L171.6,420.5L171.8,420.1L172.0,419.8L172.2,421.8L172.4,420.6L172.6,420.2L172.8,419.1L173.0,419.5L173.2,420.8L173.4,420.4L173.6,418.2L173.8,419.4L174.0,420.5L174.2,423.0L174.4,419.4L174.6,417.8L174.8,420.9L175.0,419.5L175.2,418.6L175.4,420.6L175.6,419.7L175.8,418.9L176.0,418.5L176.2,419.7L176.4,419.8L176.6,417.8L176.8,420.7L177.0,418.3L177.2,421.0L177.4,419.9L177.6,419.3L177.8,419.8L178.0,418.8L178.2,419.3L178.4,421.0L178.6,418.6L178.8,420.0L179.0,418.2L179.2,419.0L179.4,420.0L179.6,417.7L179.8,419.2L180.0,416.6L180.2,417.6L180.4,418.3L180.6,419.6L180.8,419.4L181.0,417.6L181.2,418.4L181.4,418.6L181.6,416.8L181.8,418.8L182.0,419.7L182.2,419.5L182.4,417.6L182.6,417.7L182.8,417.1L183.0,417.5L183.2,417.7L183.4,418.6L183.6,417.9L183.8,416.8L184.0,418.6L184.2,418.6L184.4,417.0L184.6,417.3L184.8,417.4L185.0,415.7L185.2,417.5L185.4,418.1L185.6,419.3L185.8,417.4L186.0,416.9L186.2,417.0L186.4,417.7L186.6,417.9L186.8,416.1L187.0,417.1L187.2,417.5L187.4,414.7L187.6,418.2L187.8,416.5L188.0,417.5L188.2,416.5L188.4,416.3L188.6,416.4L188.8,416.7L189.0,417.3L189.2,416.0L189.4,415.1L189.6,415.5L189.8,415.1L190.0,416.9L190.2,415.0L190.4,417.6L190.6,416.0L190.8,415.8L191.0,417.2L191.2,415.4L191.4,415.4L191.6,416.5L191.8,416.5L192.0,414.6L192.2,418.2L192.4,416.2L192.6,414.3L192.8,415.4L193.0,416.5L193.2,415.8L193.4,416.4L193.6,418.0L193.8,416.4L194.0,417.5L194.2,416.1L194.4,414.7L194.6,416.9L194.8,414.6L195.0,416.3L195.2,416.0L195.4,414.4L195.6,414.5L195.8,415.0L196.0,415.6L196.2,416.6L196.4,415.2L196.6,417.1L196.8,416.0L197.0,414.4L197.2,414.4L197.4,415.1L197.6,414.4L197.8,414.9L198.0,415.8L198.2,415.2L198.4,415.9L198.6,414.1L198.8,413.9L199.0,413.4L199.2,412.9L199.4,414.3L199.6,414.8L199.8,414.5L200.0,414.7L200.2,416.8L200.4,413.5L200.6,414.3L200.8,414.1L201.0,413.6L201.2,416.0L201.4,414.5L201.6,415.8L201.8,413.3L202.0,416.4L202.2,416.8L202.4,413.5L202.6,414.4L202.8,414.2L203.0,414.9L203.2,412.9L203.4,414.8L203.6,415.1L203.8,413.8L204.0,412.1L204.2,413.8L204.4,414.2L204.6,415.4L204.8,414.0L205.0,413.6L205.2,415.5L205.4,415.3L205.6,415.7L205.8,415.1L206.0,416.2L206.2,415.7L206.4,413.3L206.6,415.5L206.8,416.1L207.0,415.4L207.2,417.0L207.4,415.0L207.6,416.3L207.8,414.3L208.0,415.7L208.2,415.2L208.4,414.7L208.6,414.5L208.8,416.2L209.0,416.4L209.2,415.4L209.4,414.8L209.6,415.2L209.8,417.0L210.0,415.0L210.2,417.5L210.4,414.7L210.6,416.8L210.8,417.2L211.0,417.9L211.2,416.2L211.4,415.9L211.6,415.3L211.8,417.8L212.0,416.8L212.2,416.5L212.4,416.6L212.6,417.3L212.8,417.2L213.0,418.4L213.2,415.0L213.4,418.2L213.6,416.8L213.8,417.4L214.0,417.2L214.2,417.5L214.4,418.4L214.6,417.9L214.8,416.2L215.0,417.7L215.2,417.8L215.4,418.3L215.6,418.0L215.8,418.0L216.0,419.2L216.2,417.0L216.4,420.5L216.6,417.7L216.8,417.3L217.0,419.2L217.2,419.6L217.4,419.9L217.6,420.1L217.8,419.2L218.0,418.8L218.2,419.2L218.4,418.8L218.6,418.3L218.8,420.6L219.0,420.9L219.2,419.1L219.4,418.9L219.6,418.7L219.8,417.5L220.0,418.6L220.2,418.8L220.4,419.4L220.6,418.5L220.8,417.6L221.0,420.3L221.2,421.5L221.4,417.5L221.6,419.7L221.8,420.8L222.0,418.7L222.2,418.5L222.4,420.1L222.6,419.9L222.8,419.5L223.0,422.0L223.2,421.9L223.4,421.0L223.6,420.3L223.8,420.1L224.0,421.5L224.2,420.4L224.4,422.2L224.6,422.0L224.8,420.1L225.0,421.6L225.2,422.5L225.4,421.7L225.6,420.0L225.8,420.8L226.0,420.8L226.2,421.3L226.4,421.3L226.6,421.0L226.8,422.3L227.0,422.9L227.2,420.9L227.4,420.0L227.6,422.0L227.8,421.7L228.0,422.2L228.2,421.1L228.4,422.2L228.6,421.0L228.8,423.2L229.0,423.8L229.2,421.2L229.4,419.5L229.6,421.7L229.8,421.8L230.0,422.6L230.2,422.5L230.4,423.0L230.6,425.4L230.8,422.0L231.0,422.3L231.2,423.2L231.4,420.9L231.6,423.7L231.8,422.3L232.0,421.5L232.2,422.2L232.4,423.6L232.6,424.1L232.8,424.5L233.0,423.8L233.2,422.6L233.4,424.0L233.6,423.4L233.8,426.0L234.0,421.4L234.2,425.4L234.4,424.5L234.6,424.2L234.8,423.8L235.0,423.3L235.2,423.0L235.4,422.4L235.6,426.2L235.8,425.1L236.0,424.9L236.2,424.7L236.4,422.3L236.6,424.1L236.8,424.6L237.0,425.7L237.2,423.5L237.4,424.9L237.6,424.5L237.8,424.8L238.0,423.9L238.2,425.2L238.4,424.9L238.6,422.9L238.8,426.2L239.0,427.2L239.2,424.0L239.4,426.2L239.6,424.0L239.8,424.5L240.0,426.9L240.2,425.3L240.4,426.7L240.6,425.5L240.8,426.2L241.0,425.0L241.2,426.7L241.4,427.1L241.6,426.0L241.8,424.7L242.0,425.0L242.2,424.4L242.4,426.0L242.6,426.0L242.8,424.7L243.0,426.5L243.2,424.9L243.4,427.5L243.6,426.5L243.8,427.3L244.0,424.9L244.2,424.6L244.4,423.8L244.6,426.4L244.8,424.6L245.0,427.2L245.2,426.0L245.4,426.7L245.6,424.5L245.8,425.3L246.0,426.1L246.2,426.7L246.4,424.7L246.6,426.4L246.8,425.2L247.0,426.9L247.2,425.9L247.4,425.8L247.6,426.6L247.8,427.4L248.0,426.0L248.2,427.5L248.4,425.2L248.6,426.6L248.8,425.2L249.0,426.6L249.2,425.4L249.4,426.5L249.6,427.1L249.8,425.5L250.0,424.7L250.2,426.4L250.4,427.1L250.6,426.8L250.8,425.7L251.0,427.5L251.2,426.4L251.4,427.5L251.6,425.8L251.8,427.2L252.0,428.0L252.2,426.1L252.4,426.6L252.6,427.5L252.8,427.5L253.0,427.3" fill="none" stroke="#111111" stroke-width="1.5" stroke-linejoin="round" stroke-linecap="round"/>
<text x="26.69" y="259.90" font-size="10.3" font-weight="bold" textLength="5.52" lengthAdjust="spacingAndGlyphs" fill="#1c1c1c" stroke="#1c1c1c" stroke-width="0.4">C</text>
<text x="48.47" y="260.40" font-size="11.3" textLength="41.03" lengthAdjust="spacingAndGlyphs" fill="#1c1c1c" stroke="#1c1c1c" stroke-width="0.15">D-band</text>
<text x="106.18" y="260.30" font-size="11.3" textLength="41.11" lengthAdjust="spacingAndGlyphs" fill="#1c1c1c" stroke="#1c1c1c" stroke-width="0.15">G-band</text>
<line x1="177.40" y1="259.50" x2="200.00" y2="259.50" stroke="#1F4C9E" stroke-width="1.9"/>
<line x1="177.40" y1="277.90" x2="200.00" y2="277.90" stroke="#E31B23" stroke-width="1.9"/>
<line x1="177.40" y1="296.00" x2="200.00" y2="296.00" stroke="#111111" stroke-width="1.9"/>
<text x="203.98" y="262.80" font-size="12.2" textLength="44.71" lengthAdjust="spacingAndGlyphs" fill="#1c1c1c" stroke="#1c1c1c" stroke-width="0.15">AC1000</text>
<text x="203.98" y="280.80" font-size="12.2" textLength="37.30" lengthAdjust="spacingAndGlyphs" fill="#1c1c1c" stroke="#1c1c1c" stroke-width="0.15">AC800</text>
<text x="203.98" y="298.80" font-size="12.2" textLength="37.30" lengthAdjust="spacingAndGlyphs" fill="#1c1c1c" stroke="#1c1c1c" stroke-width="0.15">AC600</text>
<text x="13.82" y="450.60" font-size="12.5" textLength="21.94" lengthAdjust="spacingAndGlyphs" fill="#1c1c1c" stroke="#1c1c1c" stroke-width="0.15">500</text>
<text x="48.00" y="450.60" font-size="12.5" textLength="29.32" lengthAdjust="spacingAndGlyphs" fill="#1c1c1c" stroke="#1c1c1c" stroke-width="0.15">1000</text>
<text x="86.10" y="450.60" font-size="12.5" textLength="29.32" lengthAdjust="spacingAndGlyphs" fill="#1c1c1c" stroke="#1c1c1c" stroke-width="0.15">1500</text>
<text x="124.55" y="450.60" font-size="12.5" textLength="28.96" lengthAdjust="spacingAndGlyphs" fill="#1c1c1c" stroke="#1c1c1c" stroke-width="0.15">2000</text>
<text x="162.65" y="450.60" font-size="12.5" textLength="28.96" lengthAdjust="spacingAndGlyphs" fill="#1c1c1c" stroke="#1c1c1c" stroke-width="0.15">2500</text>
<text x="200.91" y="450.60" font-size="12.5" textLength="28.80" lengthAdjust="spacingAndGlyphs" fill="#1c1c1c" stroke="#1c1c1c" stroke-width="0.15">3000</text>
<text x="239.01" y="450.60" font-size="12.5" textLength="28.80" lengthAdjust="spacingAndGlyphs" fill="#1c1c1c" stroke="#1c1c1c" stroke-width="0.15">3500</text>
<text x="82.04" y="472.50" font-size="14.5" textLength="88.28" lengthAdjust="spacingAndGlyphs" fill="#1c1c1c" stroke="#1c1c1c" stroke-width="0.15">Raman shift</text>
<text x="176.16" y="472.50" font-size="14.5" textLength="28.05" lengthAdjust="spacingAndGlyphs" fill="#1c1c1c" stroke="#1c1c1c" stroke-width="0.15">(cm</text>
<text x="199.66" y="461.80" font-size="8.0" textLength="8.83" lengthAdjust="spacingAndGlyphs" fill="#1c1c1c" stroke="#1c1c1c" stroke-width="0.15">-1</text>
<text x="210.93" y="472.60" font-size="14.5" textLength="3.77" lengthAdjust="spacingAndGlyphs" fill="#1c1c1c" stroke="#1c1c1c" stroke-width="0.15">)</text>
<text transform="rotate(-90)" x="-391.32" y="19.10" font-size="14.6" textLength="104.65" lengthAdjust="spacingAndGlyphs" fill="#1c1c1c" stroke="#1c1c1c" stroke-width="0.15">Intensity (a.u.)</text>
<line x1="310.75" y1="248.70" x2="542.90" y2="248.70" stroke="#333" stroke-width="1.6"/>
<line x1="310.75" y1="438.00" x2="542.90" y2="438.00" stroke="#2e2e2e" stroke-width="1.7"/>
<line x1="311.50" y1="247.90" x2="311.50" y2="438.85" stroke="#2a2a2a" stroke-width="1.5"/>
<line x1="542.10" y1="247.90" x2="542.10" y2="438.85" stroke="#3a3a3a" stroke-width="1.6"/>
<line x1="307.40" y1="423.70" x2="311.50" y2="423.70" stroke="#2a2a2a" stroke-width="1.3"/>
<text x="296.14" y="426.70" font-size="10.4" textLength="6.52" lengthAdjust="spacingAndGlyphs" fill="#1c1c1c" stroke="#1c1c1c" stroke-width="0.15">0</text>
<line x1="307.40" y1="396.85" x2="311.50" y2="396.85" stroke="#2a2a2a" stroke-width="1.3"/>
<text x="286.96" y="399.55" font-size="10.4" textLength="18.48" lengthAdjust="spacingAndGlyphs" fill="#1c1c1c" stroke="#1c1c1c" stroke-width="0.15">100</text>
<line x1="307.40" y1="370.00" x2="311.50" y2="370.00" stroke="#2a2a2a" stroke-width="1.3"/>
<text x="287.25" y="372.70" font-size="10.4" textLength="18.17" lengthAdjust="spacingAndGlyphs" fill="#1c1c1c" stroke="#1c1c1c" stroke-width="0.15">200</text>
<line x1="307.40" y1="343.15" x2="311.50" y2="343.15" stroke="#2a2a2a" stroke-width="1.3"/>
<text x="287.39" y="345.85" font-size="10.4" textLength="18.03" lengthAdjust="spacingAndGlyphs" fill="#1c1c1c" stroke="#1c1c1c" stroke-width="0.15">300</text>
<line x1="307.40" y1="316.30" x2="311.50" y2="316.30" stroke="#2a2a2a" stroke-width="1.3"/>
<text x="287.55" y="319.00" font-size="10.4" textLength="17.86" lengthAdjust="spacingAndGlyphs" fill="#1c1c1c" stroke="#1c1c1c" stroke-width="0.15">400</text>
<line x1="307.40" y1="289.45" x2="311.50" y2="289.45" stroke="#2a2a2a" stroke-width="1.3"/>
<text x="287.37" y="292.15" font-size="10.4" textLength="18.06" lengthAdjust="spacingAndGlyphs" fill="#1c1c1c" stroke="#1c1c1c" stroke-width="0.15">500</text>
<line x1="307.40" y1="262.60" x2="311.50" y2="262.60" stroke="#2a2a2a" stroke-width="1.3"/>
<text x="287.25" y="265.30" font-size="10.4" textLength="18.18" lengthAdjust="spacingAndGlyphs" fill="#1c1c1c" stroke="#1c1c1c" stroke-width="0.15">600</text>
<line x1="542.10" y1="438.00" x2="542.10" y2="440.20" stroke="#2a2a2a" stroke-width="1.3"/>
<line x1="330.50" y1="438.00" x2="330.50" y2="441.80" stroke="#2a2a2a" stroke-width="1.3"/>
<text x="319.15" y="453.50" font-size="11.8" textLength="19.50" lengthAdjust="spacingAndGlyphs" fill="#1c1c1c" stroke="#1c1c1c" stroke-width="0.15">0.0</text>
<line x1="368.90" y1="438.00" x2="368.90" y2="441.80" stroke="#2a2a2a" stroke-width="1.3"/>
<text x="357.55" y="453.50" font-size="11.8" textLength="19.66" lengthAdjust="spacingAndGlyphs" fill="#1c1c1c" stroke="#1c1c1c" stroke-width="0.15">0.2</text>
<line x1="407.30" y1="438.00" x2="407.30" y2="441.80" stroke="#2a2a2a" stroke-width="1.3"/>
<text x="395.96" y="453.50" font-size="11.8" textLength="19.35" lengthAdjust="spacingAndGlyphs" fill="#1c1c1c" stroke="#1c1c1c" stroke-width="0.15">0.4</text>
<line x1="445.70" y1="438.00" x2="445.70" y2="441.80" stroke="#2a2a2a" stroke-width="1.3"/>
<text x="434.35" y="453.50" font-size="11.8" textLength="19.57" lengthAdjust="spacingAndGlyphs" fill="#1c1c1c" stroke="#1c1c1c" stroke-width="0.15">0.6</text>
<line x1="484.10" y1="438.00" x2="484.10" y2="441.80" stroke="#2a2a2a" stroke-width="1.3"/>
<text x="472.75" y="453.50" font-size="11.8" textLength="19.56" lengthAdjust="spacingAndGlyphs" fill="#1c1c1c" stroke="#1c1c1c" stroke-width="0.15">0.8</text>
<line x1="522.50" y1="438.00" x2="522.50" y2="441.80" stroke="#2a2a2a" stroke-width="1.3"/>
<text x="510.60" y="453.50" font-size="11.8" textLength="20.06" lengthAdjust="spacingAndGlyphs" fill="#1c1c1c" stroke="#1c1c1c" stroke-width="0.15">1.0</text>
<text x="342.77" y="469.20" font-size="14.0" textLength="126.35" lengthAdjust="spacingAndGlyphs" fill="#1c1c1c" stroke="#1c1c1c" stroke-width="0.15">Relative pressure</text>
<text x="475.89" y="469.20" font-size="14.0" textLength="28.69" lengthAdjust="spacingAndGlyphs" fill="#1c1c1c" stroke="#1c1c1c" stroke-width="0.15">(P/P</text>
<text x="501.76" y="471.10" font-size="8.5" textLength="5.77" lengthAdjust="spacingAndGlyphs" fill="#1c1c1c" stroke="#1c1c1c" stroke-width="0.15">o</text>
<text x="513.02" y="469.20" font-size="14.0" textLength="4.77" lengthAdjust="spacingAndGlyphs" fill="#1c1c1c" stroke="#1c1c1c" stroke-width="0.15">)</text>
<text transform="rotate(-90)" x="-427.52" y="282.40" font-size="11.2" textLength="123.66" lengthAdjust="spacingAndGlyphs" fill="#1c1c1c" stroke="#1c1c1c" stroke-width="0.15">Adsorbed volume (cm</text>
<text transform="rotate(-90)" x="-305.89" y="273.50" font-size="6.6" textLength="4.22" lengthAdjust="spacingAndGlyphs" fill="#1c1c1c" stroke="#1c1c1c" stroke-width="0.15">3</text>
<text transform="rotate(-90)" x="-301.52" y="282.40" font-size="11.2" textLength="6.93" lengthAdjust="spacingAndGlyphs" fill="#1c1c1c" stroke="#1c1c1c" stroke-width="0.15">g</text>
<text transform="rotate(-90)" x="-291.06" y="273.50" font-size="6.6" textLength="5.25" lengthAdjust="spacingAndGlyphs" fill="#1c1c1c" stroke="#1c1c1c" stroke-width="0.15">-1</text>
<text transform="rotate(-90)" x="-286.12" y="282.40" font-size="11.2" textLength="35.19" lengthAdjust="spacingAndGlyphs" fill="#1c1c1c" stroke="#1c1c1c" stroke-width="0.15">, STP)</text>
<text x="312.55" y="262.20" font-size="9.7" font-weight="bold" textLength="7.07" lengthAdjust="spacingAndGlyphs" fill="#1c1c1c" stroke="#1c1c1c" stroke-width="0.4">D</text>
<path d="M331.1,403.2L345.9,401.2L356.8,400.0L368.9,397.8L376.6,396.6L384.3,396.1L390.8,395.4L397.9,394.9L405.0,394.4L415.8,393.1L424.6,392.6L434.2,391.1L442.9,389.5L448.7,388.1L457.5,384.6L467.4,383.8L471.6,373.4L481.5,360.9L489.0,347.0L494.8,331.3L500.8,315.4L504.5,301.3L510.8,281.5L514.9,272.4" fill="none" stroke="#8F98D8" stroke-width="0.9" stroke-linejoin="round" stroke-linecap="round"/>
<path d="M329.3,418.0L344.1,417.8L355.0,417.6L367.1,417.3L374.8,417.1L382.5,416.9L389.0,416.7L396.1,416.5L403.2,416.3L414.0,416.0L422.8,415.8L432.4,415.6L448.3,413.0L462.2,410.9L478.8,407.8L492.2,400.5L501.6,394.7L508.4,384.4L513.0,371.1L515.2,355.5L516.6,341.4L521.0,312.4" fill="none" stroke="#6a6a6a" stroke-width="0.9" stroke-linejoin="round" stroke-linecap="round"/>
<path d="M329.3,412.7L344.1,412.3L355.0,411.8L367.1,411.4L374.8,411.0L382.5,410.5L389.0,410.1L396.1,409.6L403.2,409.2L414.0,408.8L422.8,408.3L432.4,407.9L438.9,407.3L445.6,406.3L453.9,403.7L465.0,397.9L476.2,392.6L488.2,383.0L497.3,373.0L504.7,357.3L509.8,343.0L513.6,326.5L515.7,311.5L518.2,300.7L520.2,289.6" fill="none" stroke="#F07378" stroke-width="0.9" stroke-linejoin="round" stroke-linecap="round"/>
<path d="M332.1,419.2L346.9,419.0L357.8,418.8L369.9,418.5L377.6,418.3L385.3,418.1L391.8,417.9L398.9,417.7L406.0,417.5L416.8,417.2L425.6,417.0L435.2,416.8L446.6,414.0L454.5,413.4L463.2,413.0L472.5,412.0L481.9,409.9L497.4,403.2L507.8,396.4L513.0,385.0L518.2,371.5L519.9,355.5L520.7,341.4L521.6,328.1L522.4,312.4" fill="none" stroke="#222" stroke-width="0.9" stroke-linejoin="round" stroke-linecap="round"/>
<path d="M332.3,414.1L347.1,413.7L358.0,413.2L370.1,412.8L377.8,412.4L385.5,411.9L392.0,411.5L399.1,411.0L406.2,410.6L417.0,410.2L425.8,409.7L435.4,409.3L446.8,407.6L454.9,407.2L468.0,403.7L486.5,398.7L500.6,389.6L508.4,378.3L513.0,361.4L517.4,344.7L519.6,327.8L520.7,311.9L519.9,301.6" fill="none" stroke="#E8353A" stroke-width="0.9" stroke-linejoin="round" stroke-linecap="round"/>
<path d="M330.3,404.3L345.1,402.3L356.0,401.1L368.1,398.9L375.8,397.7L383.5,397.2L390.0,396.5L397.1,396.0L404.2,395.5L415.0,394.2L423.8,393.7L433.4,392.2L442.9,391.8L450.3,391.2L458.3,388.3L468.3,388.3L475.7,382.2L490.3,369.7L498.9,355.6L505.6,339.2L510.4,321.4L513.7,301.3L516.0,284.0L518.6,273.4L520.5,262.7" fill="none" stroke="#3A44A0" stroke-width="0.9" stroke-linejoin="round" stroke-linecap="round"/>
<circle cx="332.1" cy="419.2" r="3.35" fill="url(#gk)"/>
<circle cx="346.9" cy="419.0" r="3.35" fill="url(#gk)"/>
<circle cx="357.8" cy="418.8" r="3.35" fill="url(#gk)"/>
<circle cx="369.9" cy="418.5" r="3.35" fill="url(#gk)"/>
<circle cx="377.6" cy="418.3" r="3.35" fill="url(#gk)"/>
<circle cx="385.3" cy="418.1" r="3.35" fill="url(#gk)"/>
<circle cx="391.8" cy="417.9" r="3.35" fill="url(#gk)"/>
<circle cx="398.9" cy="417.7" r="3.35" fill="url(#gk)"/>
<circle cx="406.0" cy="417.5" r="3.35" fill="url(#gk)"/>
<circle cx="416.8" cy="417.2" r="3.35" fill="url(#gk)"/>
<circle cx="425.6" cy="417.0" r="3.35" fill="url(#gk)"/>
<circle cx="435.2" cy="416.8" r="3.35" fill="url(#gk)"/>
<circle cx="446.6" cy="414.0" r="3.35" fill="url(#gk)"/>
<circle cx="454.5" cy="413.4" r="3.35" fill="url(#gk)"/>
<circle cx="463.2" cy="413.0" r="3.35" fill="url(#gk)"/>
<circle cx="472.5" cy="412.0" r="3.35" fill="url(#gk)"/>
<circle cx="481.9" cy="409.9" r="3.35" fill="url(#gk)"/>
<circle cx="497.4" cy="403.2" r="3.35" fill="url(#gk)"/>
<circle cx="507.8" cy="396.4" r="3.35" fill="url(#gk)"/>
<circle cx="513.0" cy="385.0" r="3.35" fill="url(#gk)"/>
<circle cx="518.2" cy="371.5" r="3.35" fill="url(#gk)"/>
<circle cx="519.9" cy="355.5" r="3.35" fill="url(#gk)"/>
<circle cx="520.7" cy="341.4" r="3.35" fill="url(#gk)"/>
<circle cx="521.6" cy="328.1" r="3.35" fill="url(#gk)"/>
<circle cx="522.4" cy="312.4" r="3.35" fill="url(#gk)"/>
<circle cx="329.3" cy="418.0" r="2.85" fill="#fff" stroke="#333" stroke-width="0.95"/>
<circle cx="344.1" cy="417.8" r="2.85" fill="#fff" stroke="#333" stroke-width="0.95"/>
<circle cx="355.0" cy="417.6" r="2.85" fill="#fff" stroke="#333" stroke-width="0.95"/>
<circle cx="367.1" cy="417.3" r="2.85" fill="#fff" stroke="#333" stroke-width="0.95"/>
<circle cx="374.8" cy="417.1" r="2.85" fill="#fff" stroke="#333" stroke-width="0.95"/>
<circle cx="382.5" cy="416.9" r="2.85" fill="#fff" stroke="#333" stroke-width="0.95"/>
<circle cx="389.0" cy="416.7" r="2.85" fill="#fff" stroke="#333" stroke-width="0.95"/>
<circle cx="396.1" cy="416.5" r="2.85" fill="#fff" stroke="#333" stroke-width="0.95"/>
<circle cx="403.2" cy="416.3" r="2.85" fill="#fff" stroke="#333" stroke-width="0.95"/>
<circle cx="414.0" cy="416.0" r="2.85" fill="#fff" stroke="#333" stroke-width="0.95"/>
<circle cx="422.8" cy="415.8" r="2.85" fill="#fff" stroke="#333" stroke-width="0.95"/>
<circle cx="432.4" cy="415.6" r="2.85" fill="#fff" stroke="#333" stroke-width="0.95"/>
<circle cx="448.3" cy="413.0" r="2.85" fill="#fff" stroke="#333" stroke-width="0.95"/>
<circle cx="462.2" cy="410.9" r="2.85" fill="#fff" stroke="#333" stroke-width="0.95"/>
<circle cx="478.8" cy="407.8" r="2.85" fill="#fff" stroke="#333" stroke-width="0.95"/>
<circle cx="492.2" cy="400.5" r="2.85" fill="#fff" stroke="#333" stroke-width="0.95"/>
<circle cx="501.6" cy="394.7" r="2.85" fill="#fff" stroke="#333" stroke-width="0.95"/>
<circle cx="508.4" cy="384.4" r="2.85" fill="#fff" stroke="#333" stroke-width="0.95"/>
<circle cx="513.0" cy="371.1" r="2.85" fill="#fff" stroke="#333" stroke-width="0.95"/>
<circle cx="515.2" cy="355.5" r="2.85" fill="#fff" stroke="#333" stroke-width="0.95"/>
<circle cx="516.6" cy="341.4" r="2.85" fill="#fff" stroke="#333" stroke-width="0.95"/>
<circle cx="521.0" cy="312.4" r="2.85" fill="#fff" stroke="#333" stroke-width="0.95"/>
<circle cx="332.3" cy="414.1" r="3.35" fill="url(#gr)"/>
<circle cx="347.1" cy="413.7" r="3.35" fill="url(#gr)"/>
<circle cx="358.0" cy="413.2" r="3.35" fill="url(#gr)"/>
<circle cx="370.1" cy="412.8" r="3.35" fill="url(#gr)"/>
<circle cx="377.8" cy="412.4" r="3.35" fill="url(#gr)"/>
<circle cx="385.5" cy="411.9" r="3.35" fill="url(#gr)"/>
<circle cx="392.0" cy="411.5" r="3.35" fill="url(#gr)"/>
<circle cx="399.1" cy="411.0" r="3.35" fill="url(#gr)"/>
<circle cx="406.2" cy="410.6" r="3.35" fill="url(#gr)"/>
<circle cx="417.0" cy="410.2" r="3.35" fill="url(#gr)"/>
<circle cx="425.8" cy="409.7" r="3.35" fill="url(#gr)"/>
<circle cx="435.4" cy="409.3" r="3.35" fill="url(#gr)"/>
<circle cx="446.8" cy="407.6" r="3.35" fill="url(#gr)"/>
<circle cx="454.9" cy="407.2" r="3.35" fill="url(#gr)"/>
<circle cx="468.0" cy="403.7" r="3.35" fill="url(#gr)"/>
<circle cx="486.5" cy="398.7" r="3.35" fill="url(#gr)"/>
<circle cx="500.6" cy="389.6" r="3.35" fill="url(#gr)"/>
<circle cx="508.4" cy="378.3" r="3.35" fill="url(#gr)"/>
<circle cx="513.0" cy="361.4" r="3.35" fill="url(#gr)"/>
<circle cx="517.4" cy="344.7" r="3.35" fill="url(#gr)"/>
<circle cx="519.6" cy="327.8" r="3.35" fill="url(#gr)"/>
<circle cx="520.7" cy="311.9" r="3.35" fill="url(#gr)"/>
<circle cx="519.9" cy="301.6" r="3.35" fill="url(#gr)"/>
<circle cx="329.3" cy="412.7" r="2.85" fill="#fff" stroke="#EE3A40" stroke-width="0.95"/>
<circle cx="344.1" cy="412.3" r="2.85" fill="#fff" stroke="#EE3A40" stroke-width="0.95"/>
<circle cx="355.0" cy="411.8" r="2.85" fill="#fff" stroke="#EE3A40" stroke-width="0.95"/>
<circle cx="367.1" cy="411.4" r="2.85" fill="#fff" stroke="#EE3A40" stroke-width="0.95"/>
<circle cx="374.8" cy="411.0" r="2.85" fill="#fff" stroke="#EE3A40" stroke-width="0.95"/>
<circle cx="382.5" cy="410.5" r="2.85" fill="#fff" stroke="#EE3A40" stroke-width="0.95"/>
<circle cx="389.0" cy="410.1" r="2.85" fill="#fff" stroke="#EE3A40" stroke-width="0.95"/>
<circle cx="396.1" cy="409.6" r="2.85" fill="#fff" stroke="#EE3A40" stroke-width="0.95"/>
<circle cx="403.2" cy="409.2" r="2.85" fill="#fff" stroke="#EE3A40" stroke-width="0.95"/>
<circle cx="414.0" cy="408.8" r="2.85" fill="#fff" stroke="#EE3A40" stroke-width="0.95"/>
<circle cx="422.8" cy="408.3" r="2.85" fill="#fff" stroke="#EE3A40" stroke-width="0.95"/>
<circle cx="432.4" cy="407.9" r="2.85" fill="#fff" stroke="#EE3A40" stroke-width="0.95"/>
<circle cx="438.9" cy="407.3" r="2.85" fill="#fff" stroke="#EE3A40" stroke-width="0.95"/>
<circle cx="445.6" cy="406.3" r="2.85" fill="#fff" stroke="#EE3A40" stroke-width="0.95"/>
<circle cx="453.9" cy="403.7" r="2.85" fill="#fff" stroke="#EE3A40" stroke-width="0.95"/>
<circle cx="465.0" cy="397.9" r="2.85" fill="#fff" stroke="#EE3A40" stroke-width="0.95"/>
<circle cx="476.2" cy="392.6" r="2.85" fill="#fff" stroke="#EE3A40" stroke-width="0.95"/>
<circle cx="488.2" cy="383.0" r="2.85" fill="#fff" stroke="#EE3A40" stroke-width="0.95"/>
<circle cx="497.3" cy="373.0" r="2.85" fill="#fff" stroke="#EE3A40" stroke-width="0.95"/>
<circle cx="504.7" cy="357.3" r="2.85" fill="#fff" stroke="#EE3A40" stroke-width="0.95"/>
<circle cx="509.8" cy="343.0" r="2.85" fill="#fff" stroke="#EE3A40" stroke-width="0.95"/>
<circle cx="513.6" cy="326.5" r="2.85" fill="#fff" stroke="#EE3A40" stroke-width="0.95"/>
<circle cx="515.7" cy="311.5" r="2.85" fill="#fff" stroke="#EE3A40" stroke-width="0.95"/>
<circle cx="518.2" cy="300.7" r="2.85" fill="#fff" stroke="#EE3A40" stroke-width="0.95"/>
<circle cx="520.2" cy="289.6" r="2.85" fill="#fff" stroke="#EE3A40" stroke-width="0.95"/>
<circle cx="331.1" cy="403.2" r="2.85" fill="#fff" stroke="#7E88D0" stroke-width="0.95"/>
<circle cx="345.9" cy="401.2" r="2.85" fill="#fff" stroke="#7E88D0" stroke-width="0.95"/>
<circle cx="356.8" cy="400.0" r="2.85" fill="#fff" stroke="#7E88D0" stroke-width="0.95"/>
<circle cx="368.9" cy="397.8" r="2.85" fill="#fff" stroke="#7E88D0" stroke-width="0.95"/>
<circle cx="376.6" cy="396.6" r="2.85" fill="#fff" stroke="#7E88D0" stroke-width="0.95"/>
<circle cx="384.3" cy="396.1" r="2.85" fill="#fff" stroke="#7E88D0" stroke-width="0.95"/>
<circle cx="390.8" cy="395.4" r="2.85" fill="#fff" stroke="#7E88D0" stroke-width="0.95"/>
<circle cx="397.9" cy="394.9" r="2.85" fill="#fff" stroke="#7E88D0" stroke-width="0.95"/>
<circle cx="405.0" cy="394.4" r="2.85" fill="#fff" stroke="#7E88D0" stroke-width="0.95"/>
<circle cx="415.8" cy="393.1" r="2.85" fill="#fff" stroke="#7E88D0" stroke-width="0.95"/>
<circle cx="424.6" cy="392.6" r="2.85" fill="#fff" stroke="#7E88D0" stroke-width="0.95"/>
<circle cx="434.2" cy="391.1" r="2.85" fill="#fff" stroke="#7E88D0" stroke-width="0.95"/>
<circle cx="442.9" cy="389.5" r="2.85" fill="#fff" stroke="#7E88D0" stroke-width="0.95"/>
<circle cx="448.7" cy="388.1" r="2.85" fill="#fff" stroke="#7E88D0" stroke-width="0.95"/>
<circle cx="457.5" cy="384.6" r="2.85" fill="#fff" stroke="#7E88D0" stroke-width="0.95"/>
<circle cx="467.4" cy="383.8" r="2.85" fill="#fff" stroke="#7E88D0" stroke-width="0.95"/>
<circle cx="471.6" cy="373.4" r="2.85" fill="#fff" stroke="#7E88D0" stroke-width="0.95"/>
<circle cx="481.5" cy="360.9" r="2.85" fill="#fff" stroke="#7E88D0" stroke-width="0.95"/>
<circle cx="489.0" cy="347.0" r="2.85" fill="#fff" stroke="#7E88D0" stroke-width="0.95"/>
<circle cx="494.8" cy="331.3" r="2.85" fill="#fff" stroke="#7E88D0" stroke-width="0.95"/>
<circle cx="500.8" cy="315.4" r="2.85" fill="#fff" stroke="#7E88D0" stroke-width="0.95"/>
<circle cx="504.5" cy="301.3" r="2.85" fill="#fff" stroke="#7E88D0" stroke-width="0.95"/>
<circle cx="510.8" cy="281.5" r="2.85" fill="#fff" stroke="#7E88D0" stroke-width="0.95"/>
<circle cx="514.9" cy="272.4" r="2.85" fill="#fff" stroke="#7E88D0" stroke-width="0.95"/>
<circle cx="330.3" cy="404.3" r="3.35" fill="url(#gb)"/>
<circle cx="345.1" cy="402.3" r="3.35" fill="url(#gb)"/>
<circle cx="356.0" cy="401.1" r="3.35" fill="url(#gb)"/>
<circle cx="368.1" cy="398.9" r="3.35" fill="url(#gb)"/>
<circle cx="375.8" cy="397.7" r="3.35" fill="url(#gb)"/>
<circle cx="383.5" cy="397.2" r="3.35" fill="url(#gb)"/>
<circle cx="390.0" cy="396.5" r="3.35" fill="url(#gb)"/>
<circle cx="397.1" cy="396.0" r="3.35" fill="url(#gb)"/>
<circle cx="404.2" cy="395.5" r="3.35" fill="url(#gb)"/>
<circle cx="415.0" cy="394.2" r="3.35" fill="url(#gb)"/>
<circle cx="423.8" cy="393.7" r="3.35" fill="url(#gb)"/>
<circle cx="433.4" cy="392.2" r="3.35" fill="url(#gb)"/>
<circle cx="442.9" cy="391.8" r="3.35" fill="url(#gb)"/>
<circle cx="450.3" cy="391.2" r="3.35" fill="url(#gb)"/>
<circle cx="458.3" cy="388.3" r="3.35" fill="url(#gb)"/>
<circle cx="468.3" cy="388.3" r="3.35" fill="url(#gb)"/>
<circle cx="475.7" cy="382.2" r="3.35" fill="url(#gb)"/>
<circle cx="490.3" cy="369.7" r="3.35" fill="url(#gb)"/>
<circle cx="498.9" cy="355.6" r="3.35" fill="url(#gb)"/>
<circle cx="505.6" cy="339.2" r="3.35" fill="url(#gb)"/>
<circle cx="510.4" cy="321.4" r="3.35" fill="url(#gb)"/>
<circle cx="513.7" cy="301.3" r="3.35" fill="url(#gb)"/>
<circle cx="516.0" cy="284.0" r="3.35" fill="url(#gb)"/>
<circle cx="518.6" cy="273.4" r="3.35" fill="url(#gb)"/>
<circle cx="520.5" cy="262.7" r="3.35" fill="url(#gb)"/>
<line x1="323.80" y1="260.10" x2="346.00" y2="260.10" stroke="#232C88" stroke-width="1.4"/>
<circle cx="335.2" cy="260.1" r="2.85" fill="#fff" stroke="#232C88" stroke-width="0.95"/>
<text x="347.75" y="263.10" font-size="10.8" textLength="49.74" lengthAdjust="spacingAndGlyphs" fill="#2B3592" stroke="#2B3592" stroke-width="0.15">adsorption</text>
<line x1="323.80" y1="274.70" x2="346.00" y2="274.70" stroke="#232C88" stroke-width="1.4"/>
<circle cx="335.2" cy="274.7" r="3.2" fill="url(#gb)"/>
<text x="347.75" y="277.70" font-size="10.8" textLength="49.74" lengthAdjust="spacingAndGlyphs" fill="#2B3592" stroke="#2B3592" stroke-width="0.15">desorption</text>
<line x1="323.80" y1="292.10" x2="346.00" y2="292.10" stroke="#E8151C" stroke-width="1.4"/>
<circle cx="335.2" cy="292.1" r="3.2" fill="url(#gr)"/>
<text x="347.75" y="295.10" font-size="10.8" textLength="49.74" lengthAdjust="spacingAndGlyphs" fill="#E8151C" stroke="#E8151C" stroke-width="0.15">adsorption</text>
<line x1="323.80" y1="306.50" x2="346.00" y2="306.50" stroke="#E8151C" stroke-width="1.4"/>
<circle cx="335.2" cy="306.5" r="2.85" fill="#fff" stroke="#E8151C" stroke-width="0.95"/>
<text x="347.75" y="309.50" font-size="10.8" textLength="49.74" lengthAdjust="spacingAndGlyphs" fill="#E8151C" stroke="#E8151C" stroke-width="0.15">desorption</text>
<line x1="323.80" y1="320.90" x2="346.00" y2="320.90" stroke="#111" stroke-width="1.4"/>
<circle cx="335.2" cy="320.9" r="3.2" fill="url(#gk)"/>
<text x="347.75" y="323.90" font-size="10.8" textLength="49.74" lengthAdjust="spacingAndGlyphs" fill="#1c1c1c" stroke="#1c1c1c" stroke-width="0.15">adsorption</text>
<line x1="323.80" y1="335.20" x2="346.00" y2="335.20" stroke="#111" stroke-width="1.4"/>
<circle cx="335.2" cy="335.2" r="2.85" fill="#fff" stroke="#111" stroke-width="0.95"/>
<text x="347.75" y="338.20" font-size="10.8" textLength="49.74" lengthAdjust="spacingAndGlyphs" fill="#1c1c1c" stroke="#1c1c1c" stroke-width="0.15">desorption</text>
<path d="M403.2,261.3 Q405.4,261.3 405.4,263.90000000000003 L405.4,266.95000000000005 Q405.4,268.95000000000005 407.4,268.95000000000005 Q405.4,268.95000000000005 405.4,270.95000000000005 L405.4,274.0 Q405.4,276.6 403.2,276.6" fill="none" stroke="#3A3FA8" stroke-width="1.15"/>
<path d="M403.2,290.6 Q405.4,290.6 405.4,293.20000000000005 L405.4,296.15 Q405.4,298.15 407.4,298.15 Q405.4,298.15 405.4,300.15 L405.4,303.09999999999997 Q405.4,305.7 403.2,305.7" fill="none" stroke="#E8151C" stroke-width="1.15"/>
<path d="M403.2,322.3 Q405.4,322.3 405.4,324.90000000000003 L405.4,327.5 Q405.4,329.5 407.4,329.5 Q405.4,329.5 405.4,331.5 L405.4,334.09999999999997 Q405.4,336.7 403.2,336.7" fill="none" stroke="#1c1c1c" stroke-width="1.15"/>
<text x="411.78" y="269.70" font-size="12.2" textLength="45.01" lengthAdjust="spacingAndGlyphs" fill="#1c1c1c" stroke="#1c1c1c" stroke-width="0.15">AC1000</text>
<text x="411.78" y="301.10" font-size="12.2" textLength="37.50" lengthAdjust="spacingAndGlyphs" fill="#1c1c1c" stroke="#1c1c1c" stroke-width="0.15">AC800</text>
<text x="411.78" y="333.10" font-size="12.2" textLength="37.50" lengthAdjust="spacingAndGlyphs" fill="#1c1c1c" stroke="#1c1c1c" stroke-width="0.15">AC600</text>
</svg></body></html>
